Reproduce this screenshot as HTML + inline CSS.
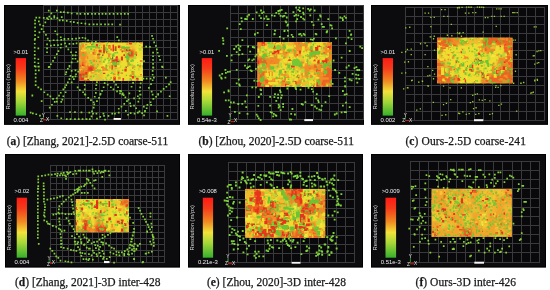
<!DOCTYPE html>
<html><head><meta charset="utf-8"><style>
html,body{margin:0;padding:0;background:#fff;}
body{width:550px;height:290px;position:relative;overflow:hidden;}
.cap{position:absolute;font-family:"Liberation Serif",serif;font-size:11.5px;line-height:13px;color:#1a1a1a;white-space:nowrap;-webkit-text-stroke:0.25px #1a1a1a;}
.cap b{font-weight:bold;}
</style></head><body>
<svg width="550" height="290" viewBox="0 0 550 290" style="position:absolute;left:0;top:0"><defs><linearGradient id="cbg" x1="0" y1="0" x2="0" y2="1">
<stop offset="0" stop-color="#ff1a14"/><stop offset="0.18" stop-color="#f53c1a"/><stop offset="0.4" stop-color="#f08a22"/>
<stop offset="0.58" stop-color="#f2e23a"/><stop offset="0.75" stop-color="#a8d83a"/><stop offset="1" stop-color="#36b02c"/></linearGradient>
<filter id="blur2" x="-10%" y="-10%" width="120%" height="120%"><feGaussianBlur stdDeviation="1.6"/></filter><filter id="blur05" x="-5%" y="-5%" width="110%" height="110%"><feGaussianBlur stdDeviation="0.45"/></filter></defs><rect x="4" y="5" width="176.0" height="119.7" fill="#0c0c0e"/><rect x="4.5" y="5.5" width="175.0" height="118.7" fill="none" stroke="#000" stroke-width="1"/><rect x="43.5" y="5.0" width="134.1" height="114.6" fill="#09090b"/><path d="M43.5 5.0V120.0M50.5 5.0V120.0M57.5 5.0V120.0M64.5 5.0V120.0M71.5 5.0V120.0M78.5 5.0V120.0M85.5 5.0V120.0M92.5 5.0V120.0M99.5 5.0V120.0M107.5 5.0V120.0M114.5 5.0V120.0M121.5 5.0V120.0M128.5 5.0V120.0M135.5 5.0V120.0M142.5 5.0V120.0M149.5 5.0V120.0M156.5 5.0V120.0M163.5 5.0V120.0M170.5 5.0V120.0M177.5 5.0V120.0M43.0 5.5H178.0M43.0 12.5H178.0M43.0 19.5H178.0M43.0 26.5H178.0M43.0 33.5H178.0M43.0 40.5H178.0M43.0 47.5H178.0M43.0 55.5H178.0M43.0 62.5H178.0M43.0 69.5H178.0M43.0 76.5H178.0M43.0 83.5H178.0M43.0 90.5H178.0M43.0 98.5H178.0M43.0 105.5H178.0M43.0 112.5H178.0M43.0 119.5H178.0" stroke="#3a3a3c" stroke-width="1" fill="none" shape-rendering="crispEdges"/><rect x="15.7" y="58.1" width="10.3" height="57.5" fill="url(#cbg)"/><text x="20.9" y="53.8" font-family="Liberation Sans" font-size="5.8" fill="#eee" text-anchor="middle">&gt;0.01</text><text x="20.9" y="122.2" font-family="Liberation Sans" font-size="5.9" fill="#eee" text-anchor="middle">0.004</text><text transform="translate(9.6,86.8) rotate(-90)" font-family="Liberation Sans" font-size="5.8" fill="#d8d8d8" text-anchor="middle">Resolution (m/px)</text><rect x="79.3" y="42.6" width="63.6" height="38.2" fill="#f0c83a"/><clipPath id="c0"><rect x="79.3" y="42.6" width="63.6" height="38.2"/></clipPath><g clip-path="url(#c0)"><g filter="url(#blur2)"><rect x="79.0" y="42.3" width="8.6" height="8.2" fill="#f0bc2e"/><rect x="87.0" y="42.3" width="8.6" height="8.2" fill="#eedc2e"/><rect x="94.9" y="42.3" width="8.6" height="8.2" fill="#f0bc2e"/><rect x="102.9" y="42.3" width="8.6" height="8.2" fill="#eedc2e"/><rect x="110.8" y="42.3" width="8.6" height="8.2" fill="#eedc2e"/><rect x="118.8" y="42.3" width="8.6" height="8.2" fill="#eedc2e"/><rect x="126.7" y="42.3" width="8.6" height="8.2" fill="#f0bc2e"/><rect x="134.6" y="42.3" width="8.6" height="8.2" fill="#eedc2e"/><rect x="79.0" y="49.9" width="8.6" height="8.2" fill="#f08c28"/><rect x="87.0" y="49.9" width="8.6" height="8.2" fill="#f0bc2e"/><rect x="94.9" y="49.9" width="8.6" height="8.2" fill="#eedc2e"/><rect x="102.9" y="49.9" width="8.6" height="8.2" fill="#eedc2e"/><rect x="110.8" y="49.9" width="8.6" height="8.2" fill="#f0e83e"/><rect x="118.8" y="49.9" width="8.6" height="8.2" fill="#eedc2e"/><rect x="126.7" y="49.9" width="8.6" height="8.2" fill="#e6341c"/><rect x="134.6" y="49.9" width="8.6" height="8.2" fill="#eedc2e"/><rect x="79.0" y="57.6" width="8.6" height="8.2" fill="#f08c28"/><rect x="87.0" y="57.6" width="8.6" height="8.2" fill="#f0bc2e"/><rect x="94.9" y="57.6" width="8.6" height="8.2" fill="#f0bc2e"/><rect x="102.9" y="57.6" width="8.6" height="8.2" fill="#eedc2e"/><rect x="110.8" y="57.6" width="8.6" height="8.2" fill="#e6341c"/><rect x="118.8" y="57.6" width="8.6" height="8.2" fill="#eedc2e"/><rect x="126.7" y="57.6" width="8.6" height="8.2" fill="#eedc2e"/><rect x="134.6" y="57.6" width="8.6" height="8.2" fill="#f0e83e"/><rect x="79.0" y="65.2" width="8.6" height="8.2" fill="#f08c28"/><rect x="87.0" y="65.2" width="8.6" height="8.2" fill="#e6341c"/><rect x="94.9" y="65.2" width="8.6" height="8.2" fill="#eedc2e"/><rect x="102.9" y="65.2" width="8.6" height="8.2" fill="#eedc2e"/><rect x="110.8" y="65.2" width="8.6" height="8.2" fill="#f0bc2e"/><rect x="118.8" y="65.2" width="8.6" height="8.2" fill="#eedc2e"/><rect x="126.7" y="65.2" width="8.6" height="8.2" fill="#eedc2e"/><rect x="134.6" y="65.2" width="8.6" height="8.2" fill="#eedc2e"/><rect x="79.0" y="72.9" width="8.6" height="8.2" fill="#e6341c"/><rect x="87.0" y="72.9" width="8.6" height="8.2" fill="#eedc2e"/><rect x="94.9" y="72.9" width="8.6" height="8.2" fill="#f0bc2e"/><rect x="102.9" y="72.9" width="8.6" height="8.2" fill="#eedc2e"/><rect x="110.8" y="72.9" width="8.6" height="8.2" fill="#eedc2e"/><rect x="118.8" y="72.9" width="8.6" height="8.2" fill="#eedc2e"/><rect x="126.7" y="72.9" width="8.6" height="8.2" fill="#eedc2e"/><rect x="134.6" y="72.9" width="8.6" height="8.2" fill="#eedc2e"/></g><g filter="url(#blur05)"><path fill="#eedc2e" d="M118.3 71.1h2.6v4.8h-2.6zM139.5 67.3h4.1v1.1h-4.1zM84.0 43.3h1.9v1.4h-1.9zM89.6 46.6h1.4v2.5h-1.4zM90.6 79.3h1.2v1.1h-1.2zM123.1 79.5h2.5v1.6h-2.5zM100.1 67.8h2.6v2.7h-2.6zM118.2 55.5h2.3v3.0h-2.3zM106.4 76.1h1.9v2.6h-1.9zM135.0 55.7h2.0v2.7h-2.0zM124.2 79.1h1.6v1.4h-1.6zM80.5 69.5h1.0v1.3h-1.0zM119.3 73.4h3.9v1.4h-3.9zM141.2 79.5h2.8v2.7h-2.8zM122.8 78.6h1.4v2.1h-1.4zM110.4 64.6h1.8v2.6h-1.8zM109.1 68.0h2.9v2.8h-2.9zM138.3 45.6h1.5v2.4h-1.5zM100.6 65.0h2.0v3.0h-2.0zM106.2 55.6h1.4v2.3h-1.4zM111.8 74.5h2.5v2.6h-2.5zM124.7 51.4h2.6v1.3h-2.6zM110.7 63.0h2.7v3.0h-2.7zM83.7 43.1h1.7v1.9h-1.7zM133.3 65.6h3.0v2.6h-3.0zM136.7 70.1h2.8v2.8h-2.8zM126.9 71.4h3.4v1.9h-3.4zM117.3 43.1h2.2v1.7h-2.2zM120.2 63.4h2.1v1.5h-2.1zM112.5 80.3h1.2v2.8h-1.2zM118.2 54.9h2.2v2.3h-2.2zM117.2 55.3h5.0v2.7h-5.0zM130.6 65.4h1.5v2.6h-1.5zM128.4 43.4h1.6v2.4h-1.6zM138.8 76.7h1.7v1.8h-1.7zM130.5 42.9h1.2v2.5h-1.2zM105.2 46.8h1.3v1.4h-1.3zM107.7 64.4h1.4v1.4h-1.4zM124.7 64.3h1.3v2.5h-1.3zM140.1 62.3h1.8v5.7h-1.8z"/><path fill="#ec6420" d="M82.0 62.3h2.4v2.6h-2.4zM124.7 56.6h2.7v1.2h-2.7zM79.3 64.7h2.0v2.2h-2.0zM92.5 66.3h1.6v3.1h-1.6zM112.5 61.7h3.0v1.2h-3.0zM81.2 68.9h2.7v2.9h-2.7zM135.9 49.5h1.3v1.3h-1.3zM129.4 48.5h1.6v2.8h-1.6zM133.0 55.8h1.2v2.6h-1.2zM81.9 51.3h1.8v2.0h-1.8z"/><path fill="#eedc2e" d="M97.2 53.9h1.4v2.5h-1.4zM103.8 43.3h2.3v2.5h-2.3zM102.4 53.4h2.4v3.0h-2.4zM120.5 65.5h2.3v1.2h-2.3zM110.4 71.9h2.5v2.8h-2.5zM90.5 78.5h1.5v2.2h-1.5zM86.7 79.0h2.2v2.4h-2.2zM135.2 70.5h4.4v1.1h-4.4zM91.6 71.0h2.6v1.2h-2.6zM140.1 40.2h1.1v2.8h-1.1zM103.0 55.1h2.8v1.6h-2.8zM138.1 78.1h2.8v5.6h-2.8zM137.6 67.5h3.0v1.9h-3.0zM111.8 42.8h2.6v1.2h-2.6zM125.1 50.0h5.6v3.0h-5.6zM88.8 71.7h1.9v2.5h-1.9zM124.7 63.6h1.0v2.0h-1.0zM92.8 46.5h2.2v2.1h-2.2zM116.3 44.0h1.3v2.4h-1.3zM128.4 43.5h2.9v1.1h-2.9zM125.5 49.4h1.9v2.9h-1.9zM123.0 75.0h1.8v2.7h-1.8zM137.4 69.5h2.9v1.7h-2.9zM125.2 76.7h1.2v2.8h-1.2zM128.3 61.8h1.1v1.3h-1.1zM139.1 75.6h3.7v1.8h-3.7zM139.2 71.8h1.8v1.6h-1.8zM135.0 56.1h2.0v1.6h-2.0zM140.6 53.8h2.4v2.4h-2.4zM126.1 62.1h2.7v2.0h-2.7zM123.8 65.5h1.8v2.3h-1.8zM117.3 56.9h4.9v1.2h-4.9zM125.2 80.6h2.1v2.0h-2.1zM97.5 72.5h2.2v2.5h-2.2zM104.3 72.9h2.3v2.2h-2.3zM137.1 41.4h1.7v2.3h-1.7zM125.6 49.5h2.7v1.2h-2.7zM105.5 40.5h2.1v2.9h-2.1zM89.9 51.8h2.6v2.0h-2.6zM110.4 78.7h2.2v1.6h-2.2z"/><path fill="#eedc2e" d="M123.8 49.6h1.7v1.5h-1.7zM121.0 68.7h2.1v1.7h-2.1zM110.1 57.2h2.1v2.1h-2.1zM135.6 49.5h2.6v2.2h-2.6zM126.9 64.2h2.8v2.3h-2.8zM117.3 78.4h2.6v1.5h-2.6zM124.3 60.3h2.1v2.2h-2.1zM117.1 77.8h1.4v1.2h-1.4zM119.7 47.3h1.3v2.1h-1.3zM123.4 76.8h2.5v2.6h-2.5zM132.3 67.3h2.1v1.3h-2.1zM141.7 51.5h2.7v1.4h-2.7zM140.8 49.1h1.8v1.4h-1.8zM115.3 67.8h1.1v1.9h-1.1zM122.0 63.1h2.3v1.1h-2.3zM141.7 52.2h1.0v2.0h-1.0zM103.5 60.3h1.8v1.2h-1.8zM99.1 46.4h2.3v1.9h-2.3zM119.7 43.3h1.6v2.4h-1.6zM113.7 53.4h1.7v1.8h-1.7zM124.7 59.2h2.7v2.0h-2.7zM101.6 55.2h1.3v2.4h-1.3zM103.9 55.0h2.7v2.6h-2.7zM129.4 65.3h1.6v1.1h-1.6zM131.2 77.9h1.5v2.8h-1.5z"/><path fill="#eedc2e" d="M106.3 43.4h2.9v1.6h-2.9zM130.7 75.2h2.8v1.2h-2.8zM141.9 56.9h3.0v1.1h-3.0zM125.7 44.2h2.5v1.5h-2.5zM124.9 71.4h2.7v2.9h-2.7zM104.5 41.1h1.9v5.4h-1.9zM77.7 46.7h2.6v2.1h-2.6zM84.2 77.1h2.8v2.9h-2.8zM108.2 55.4h2.7v1.1h-2.7zM101.2 64.8h2.2v1.6h-2.2zM111.4 70.6h1.5v2.6h-1.5zM101.9 58.5h2.5v2.3h-2.5zM120.6 62.6h2.9v2.1h-2.9zM108.9 50.4h2.7v1.1h-2.7zM120.8 43.0h1.2v3.0h-1.2zM134.4 42.6h2.1v3.0h-2.1zM133.7 72.1h1.4v2.1h-1.4zM139.6 77.7h2.0v2.2h-2.0zM102.4 46.2h2.6v1.8h-2.6zM116.2 69.6h2.0v3.5h-2.0zM101.4 45.6h2.7v1.7h-2.7zM89.0 45.5h2.5v2.1h-2.5zM80.8 49.6h5.7v2.0h-5.7zM114.5 52.1h2.2v2.7h-2.2zM89.2 41.3h2.2v1.7h-2.2zM118.3 53.3h1.8v2.1h-1.8zM141.8 52.5h2.2v1.3h-2.2zM129.4 48.2h2.8v1.0h-2.8zM114.8 78.5h1.7v2.1h-1.7zM80.8 46.8h2.5v1.6h-2.5zM119.8 68.5h1.9v2.9h-1.9zM126.0 56.6h2.2v2.4h-2.2zM108.8 40.8h1.2v2.9h-1.2zM101.4 58.4h1.8v1.6h-1.8zM106.8 59.2h2.8v3.0h-2.8zM105.4 67.0h3.0v1.7h-3.0zM123.8 71.2h2.4v2.1h-2.4zM104.4 46.4h3.0v2.1h-3.0zM95.1 55.4h2.3v1.3h-2.3zM135.0 77.8h1.2v2.6h-1.2z"/><path fill="#e6341c" d="M136.1 79.9h1.3v2.1h-1.3zM78.8 74.0h2.3v1.9h-2.3zM102.9 72.8h2.4v1.3h-2.4zM125.3 66.4h1.6v1.8h-1.6zM108.4 45.1h2.0v3.3h-2.0zM97.6 53.6h2.8v1.3h-2.8zM121.8 41.7h2.9v1.2h-2.9zM105.8 64.8h1.4v1.9h-1.4zM82.0 64.6h2.6v1.9h-2.6zM124.4 68.7h2.3v2.7h-2.3zM131.8 76.0h2.4v2.6h-2.4zM111.5 64.7h1.3v5.1h-1.3zM123.6 48.1h2.4v1.5h-2.4zM85.3 72.1h2.1v5.3h-2.1zM114.8 46.3h1.7v4.6h-1.7zM126.7 60.2h1.8v1.9h-1.8zM126.5 55.9h2.1v2.3h-2.1zM129.2 50.5h2.0v1.1h-2.0zM106.2 51.1h2.1v2.1h-2.1zM128.9 49.6h1.3v1.4h-1.3zM130.6 79.6h1.4v2.4h-1.4zM115.9 59.1h1.7v2.8h-1.7zM103.0 50.2h2.2v2.1h-2.2zM140.5 73.9h2.1v1.7h-2.1zM89.8 41.0h1.3v2.4h-1.3zM131.7 71.3h1.8v2.4h-1.8zM101.4 66.7h1.6v1.2h-1.6zM135.1 53.0h1.9v2.9h-1.9zM120.9 56.4h2.1v4.1h-2.1zM129.5 75.3h2.6v1.3h-2.6zM121.6 50.5h1.5v1.8h-1.5zM101.4 70.1h2.9v1.0h-2.9zM87.1 79.1h2.7v2.9h-2.7zM127.0 60.1h1.0v2.2h-1.0zM113.3 76.7h2.5v4.3h-2.5zM123.3 50.4h1.5v1.1h-1.5zM80.9 78.4h1.9v1.7h-1.9zM110.5 48.6h1.2v2.0h-1.2zM100.0 41.4h2.1v1.7h-2.1zM98.6 49.8h3.0v2.8h-3.0z"/><path fill="#6cc432" d="M128.1 51.8h2.5v1.2h-2.5zM93.3 64.7h2.0v2.1h-2.0zM118.4 60.3h1.9v2.3h-1.9zM127.4 61.3h1.2v1.1h-1.2zM103.5 48.1h2.8v2.6h-2.8zM112.0 54.3h2.5v5.9h-2.5zM126.3 54.4h3.0v5.8h-3.0zM105.6 65.5h1.2v2.4h-1.2zM112.5 62.8h3.0v2.6h-3.0zM125.3 56.0h2.8v1.9h-2.8zM136.9 62.2h1.6v1.1h-1.6zM123.3 42.0h1.8v1.1h-1.8zM81.6 75.5h1.9v2.1h-1.9zM125.2 48.7h1.7v1.6h-1.7zM110.4 77.1h1.5v1.7h-1.5zM104.5 68.0h2.6v1.9h-2.6zM114.3 61.2h2.5v5.2h-2.5zM141.6 46.3h2.9v1.5h-2.9zM111.8 60.7h2.3v1.6h-2.3zM94.3 60.6h2.7v1.4h-2.7zM129.4 51.8h1.8v2.8h-1.8zM94.9 70.2h3.3v1.4h-3.3z"/><path fill="#f0bc2e" d="M79.1 59.3h2.3v2.0h-2.3zM91.7 51.4h1.1v1.2h-1.1zM82.0 49.4h1.6v2.8h-1.6zM88.6 53.8h2.0v2.4h-2.0zM85.4 58.5h2.2v1.8h-2.2zM83.1 66.4h1.5v1.4h-1.5zM95.2 79.3h4.6v2.6h-4.6zM98.4 78.3h2.9v1.3h-2.9zM92.6 52.2h1.0v2.3h-1.0zM93.7 60.6h2.1v1.3h-2.1zM94.2 64.9h4.8v1.9h-4.8zM85.7 63.2h1.6v2.6h-1.6zM97.1 79.9h1.8v1.2h-1.8zM97.9 74.0h2.5v1.1h-2.5zM89.4 57.3h5.5v1.9h-5.5zM88.4 64.1h1.7v2.2h-1.7zM94.1 50.9h3.2v1.5h-3.2zM78.7 57.4h1.4v1.8h-1.4zM79.2 69.0h4.3v1.2h-4.3zM78.1 46.1h2.1v2.9h-2.1zM94.4 73.0h2.1v2.6h-2.1zM87.6 60.3h5.7v2.3h-5.7zM102.9 60.2h1.7v1.0h-1.7zM81.7 65.9h1.4v1.9h-1.4zM79.2 46.8h2.2v2.6h-2.2z"/><path fill="#b8d636" d="M107.1 52.0h2.4v1.6h-2.4zM96.4 43.0h1.8v2.9h-1.8zM77.4 49.5h1.8v1.1h-1.8zM97.1 76.6h2.3v1.2h-2.3zM94.4 40.6h1.3v2.8h-1.3zM119.4 65.5h1.7v2.3h-1.7zM125.9 51.3h1.8v1.2h-1.8zM90.2 51.0h1.1v1.1h-1.1zM119.8 80.4h2.8v1.9h-2.8zM137.8 78.6h1.6v1.6h-1.6zM90.0 63.6h2.1v1.4h-2.1zM111.3 71.3h2.3v2.0h-2.3zM129.7 69.5h1.6v1.5h-1.6zM133.2 73.7h1.2v2.0h-1.2zM90.3 62.6h3.2v1.6h-3.2zM108.1 69.4h1.8v1.9h-1.8zM139.7 62.9h1.2v2.6h-1.2zM100.4 60.5h2.0v2.4h-2.0zM82.1 42.1h2.3v1.6h-2.3zM92.4 43.4h2.7v1.8h-2.7zM100.8 58.3h1.4v4.5h-1.4zM80.2 43.4h2.7v4.9h-2.7zM120.3 72.1h2.4v2.0h-2.4zM127.7 80.5h1.1v1.5h-1.1zM92.9 44.1h2.2v2.4h-2.2zM134.5 42.5h1.8v2.4h-1.8zM123.9 53.7h2.7v2.1h-2.7zM103.2 68.9h1.4v1.2h-1.4zM97.9 43.4h1.4v2.7h-1.4zM137.4 75.7h4.9v1.4h-4.9zM140.0 41.1h2.5v1.8h-2.5zM133.1 65.7h2.7v2.4h-2.7zM106.6 64.0h1.9v3.0h-1.9zM92.4 74.4h2.6v2.0h-2.6zM84.3 42.4h1.2v1.4h-1.2zM96.2 74.7h1.8v2.5h-1.8zM103.8 67.3h1.7v1.3h-1.7zM133.2 56.4h3.0v2.7h-3.0zM91.4 48.5h2.5v2.2h-2.5zM138.1 68.0h1.6v2.7h-1.6z"/><path fill="#e6341c" d="M97.0 54.3h2.1v1.2h-2.1zM125.6 49.0h2.0v2.3h-2.0zM95.9 44.1h2.0v2.8h-2.0zM100.9 40.7h4.5v1.9h-4.5zM84.3 79.8h2.4v2.5h-2.4zM117.9 45.4h2.5v2.6h-2.5zM122.5 78.0h1.6v2.9h-1.6zM112.3 59.9h2.2v1.5h-2.2zM110.4 56.9h2.6v2.4h-2.6zM123.4 54.2h1.6v1.9h-1.6zM114.6 65.4h2.2v1.3h-2.2zM91.3 43.9h2.1v1.2h-2.1zM92.7 52.1h2.3v2.3h-2.3zM102.0 53.9h1.4v2.0h-1.4zM116.0 56.2h1.8v2.4h-1.8zM116.7 60.9h2.2v2.4h-2.2zM87.2 46.8h1.9v1.6h-1.9zM129.0 41.9h2.9v2.7h-2.9zM117.6 71.4h1.8v2.3h-1.8zM127.4 49.9h1.4v1.6h-1.4zM135.9 77.7h2.6v4.7h-2.6zM128.3 54.3h2.1v1.2h-2.1zM77.2 78.3h2.7v5.9h-2.7z"/><path fill="#b8d636" d="M95.5 51.7h1.3v2.7h-1.3zM116.9 62.2h2.8v2.6h-2.8zM130.0 40.7h2.7v1.8h-2.7zM107.4 50.0h1.5v2.0h-1.5zM86.9 47.0h1.7v5.7h-1.7zM139.1 47.9h2.5v2.9h-2.5zM89.0 79.0h3.6v1.1h-3.6zM98.7 77.7h2.8v1.3h-2.8zM99.7 72.9h2.3v1.1h-2.3zM81.8 42.8h2.3v1.8h-2.3zM109.4 64.5h1.6v1.4h-1.6zM89.9 77.4h2.7v1.8h-2.7zM100.2 70.8h2.4v2.7h-2.4zM99.5 58.6h2.4v1.3h-2.4zM107.9 61.0h2.2v2.3h-2.2zM107.8 75.0h2.4v1.1h-2.4zM87.1 47.0h1.8v2.3h-1.8zM138.4 47.6h1.2v3.0h-1.2zM134.0 54.8h2.2v2.8h-2.2zM100.4 80.1h2.1v1.3h-2.1zM107.9 50.9h1.4v2.1h-1.4zM107.1 59.6h2.4v1.7h-2.4z"/><path fill="#f08c28" d="M92.6 59.4h2.4v2.5h-2.4zM81.4 43.5h1.3v1.9h-1.3zM103.2 67.4h2.9v2.3h-2.9zM93.5 51.8h2.2v3.1h-2.2zM89.6 75.6h2.5v1.9h-2.5zM114.0 76.2h1.1v1.5h-1.1zM79.5 45.5h1.5v5.3h-1.5zM127.4 63.0h2.3v2.7h-2.3zM99.8 40.2h1.6v3.0h-1.6zM98.0 56.9h2.4v1.3h-2.4zM85.1 67.2h2.2v2.7h-2.2zM126.3 43.6h2.2v1.1h-2.2zM96.8 56.2h2.8v1.2h-2.8zM83.6 62.5h1.3v3.0h-1.3zM80.4 47.0h1.9v2.1h-1.9zM108.2 45.4h2.4v2.6h-2.4z"/><path fill="#f0e83e" d="M106.9 63.4h2.2v1.4h-2.2zM136.3 49.3h2.1v1.4h-2.1zM136.2 62.6h3.0v2.3h-3.0zM105.0 59.6h2.9v2.4h-2.9zM141.6 73.0h1.9v2.8h-1.9zM111.6 51.7h1.0v1.9h-1.0zM110.5 56.7h1.5v1.6h-1.5zM137.4 58.8h4.8v1.4h-4.8zM113.4 56.7h1.6v2.0h-1.6zM102.8 63.2h2.0v3.0h-2.0zM101.6 69.0h3.0v2.8h-3.0zM138.8 61.3h2.9v1.2h-2.9zM140.9 62.7h2.4v2.9h-2.4zM117.0 65.2h2.9v2.1h-2.9zM131.8 72.6h1.9v2.1h-1.9zM109.6 60.3h1.7v1.4h-1.7zM140.5 72.2h2.0v1.1h-2.0zM118.9 77.3h3.0v4.1h-3.0zM141.9 64.5h2.1v2.4h-2.1zM107.1 62.7h1.0v1.4h-1.0zM102.8 61.0h5.2v2.7h-5.2z"/><path fill="#f08c28" d="M86.1 66.0h1.5v2.9h-1.5zM93.1 69.2h1.6v1.4h-1.6zM77.6 51.3h3.5v2.1h-3.5zM124.1 47.7h2.0v2.2h-2.0zM118.0 76.7h2.6v2.9h-2.6zM119.8 49.1h2.4v1.4h-2.4zM83.2 56.7h1.1v5.2h-1.1zM83.7 75.6h2.0v2.4h-2.0zM96.2 46.1h1.2v2.4h-1.2zM135.0 51.4h2.1v2.9h-2.1zM112.8 73.6h2.8v1.7h-2.8zM139.8 60.1h2.6v1.8h-2.6zM132.0 66.8h1.5v2.1h-1.5zM78.2 80.6h1.6v1.8h-1.6zM120.8 72.6h2.2v1.5h-2.2zM87.1 55.9h1.1v3.0h-1.1zM99.3 80.5h2.3v1.1h-2.3zM107.6 53.3h2.7v1.4h-2.7zM82.4 68.6h1.4v1.5h-1.4zM79.2 53.4h2.4v1.5h-2.4zM121.1 46.6h1.8v1.8h-1.8zM98.9 60.9h2.0v1.3h-2.0zM94.0 67.6h2.9v1.7h-2.9zM141.7 47.1h1.5v1.0h-1.5zM81.5 43.7h2.5v3.9h-2.5zM95.7 50.2h1.1v1.1h-1.1zM85.1 44.1h2.0v1.0h-2.0zM102.2 69.2h5.8v1.6h-5.8zM142.5 46.4h1.4v2.2h-1.4zM98.2 69.7h1.3v3.0h-1.3zM133.3 65.3h1.4v2.3h-1.4zM138.8 64.9h2.4v2.5h-2.4zM97.3 57.1h2.6v1.8h-2.6zM108.0 54.7h2.2v2.9h-2.2zM78.6 54.9h2.6v1.6h-2.6zM102.2 66.2h1.8v5.1h-1.8zM140.1 41.5h2.0v2.2h-2.0zM93.5 48.9h1.7v2.8h-1.7zM109.3 66.1h1.2v2.6h-1.2zM131.7 72.7h2.6v2.4h-2.6z"/></g><path fill="#72c832" d="M85.1 74.7h1.8v1.8h-1.8zM117.1 73.9h1.2v1.2h-1.2zM111.1 72.2h1.5v1.5h-1.5zM98.3 47.0h1.8v1.8h-1.8zM117.1 70.6h1.0v1.0h-1.0zM107.5 62.7h1.0v1.0h-1.0zM131.4 59.1h1.8v1.8h-1.8zM122.1 46.8h1.8v1.8h-1.8zM112.1 62.6h1.5v1.5h-1.5zM125.8 74.7h1.2v1.2h-1.2zM85.6 47.1h1.5v1.5h-1.5zM136.9 64.8h1.5v1.5h-1.5zM128.1 62.1h1.5v1.5h-1.5zM126.5 47.8h1.2v1.2h-1.2zM90.4 71.0h1.0v1.0h-1.0zM131.5 64.2h1.0v1.0h-1.0zM130.3 60.3h1.8v1.8h-1.8zM131.5 65.2h1.0v1.0h-1.0zM121.9 69.6h1.5v1.5h-1.5zM83.8 68.0h1.0v1.0h-1.0zM123.2 46.3h1.8v1.8h-1.8zM101.3 52.1h1.2v1.2h-1.2zM131.6 70.7h1.0v1.0h-1.0zM95.4 74.1h1.0v1.0h-1.0zM134.2 68.9h1.0v1.0h-1.0zM141.7 65.1h1.2v1.2h-1.2zM94.8 47.4h1.2v1.2h-1.2zM83.6 53.9h1.5v1.5h-1.5zM134.5 75.7h1.8v1.8h-1.8zM102.2 54.0h1.0v1.0h-1.0zM97.2 63.7h1.5v1.5h-1.5zM105.8 44.5h1.8v1.8h-1.8zM92.6 42.8h1.0v1.0h-1.0zM105.8 79.2h1.5v1.5h-1.5zM130.2 74.2h1.5v1.5h-1.5zM108.5 59.4h1.5v1.5h-1.5zM96.6 66.2h1.2v1.2h-1.2zM122.5 70.1h1.0v1.0h-1.0zM120.9 46.7h1.0v1.0h-1.0zM92.3 43.2h1.8v1.8h-1.8zM125.1 51.2h1.5v1.5h-1.5zM112.8 53.2h1.5v1.5h-1.5zM112.2 80.7h1.8v1.8h-1.8zM110.3 53.6h1.2v1.2h-1.2zM104.3 58.7h1.8v1.8h-1.8zM85.2 80.3h1.0v1.0h-1.0zM129.5 78.0h1.8v1.8h-1.8zM80.6 48.9h1.0v1.0h-1.0zM118.5 70.5h1.0v1.0h-1.0zM103.0 60.9h1.8v1.8h-1.8zM111.4 68.9h1.5v1.5h-1.5zM85.9 43.9h1.0v1.0h-1.0zM110.6 57.9h1.5v1.5h-1.5zM129.1 63.7h1.8v1.8h-1.8zM133.1 71.2h1.5v1.5h-1.5zM91.1 45.2h1.8v1.8h-1.8zM114.4 52.1h1.5v1.5h-1.5zM109.6 78.9h1.0v1.0h-1.0zM129.6 53.3h1.2v1.2h-1.2zM90.6 61.9h1.8v1.8h-1.8zM116.3 51.8h1.8v1.8h-1.8zM88.8 52.3h1.0v1.0h-1.0zM106.8 58.0h1.0v1.0h-1.0zM100.6 56.4h1.8v1.8h-1.8zM90.0 60.1h1.5v1.5h-1.5zM110.4 73.0h1.0v1.0h-1.0zM122.2 46.1h1.2v1.2h-1.2zM97.2 68.9h1.2v1.2h-1.2zM113.6 48.5h1.5v1.5h-1.5zM82.0 53.8h1.8v1.8h-1.8zM79.4 44.9h1.5v1.5h-1.5zM105.5 49.4h1.8v1.8h-1.8zM132.1 67.5h1.0v1.0h-1.0zM126.4 54.4h1.0v1.0h-1.0zM126.9 65.5h1.5v1.5h-1.5zM125.9 46.8h1.8v1.8h-1.8zM89.4 60.1h1.5v1.5h-1.5zM137.1 64.2h1.8v1.8h-1.8zM80.2 59.8h1.0v1.0h-1.0zM98.4 54.8h1.5v1.5h-1.5zM119.1 47.5h1.0v1.0h-1.0zM139.8 80.4h1.0v1.0h-1.0zM102.0 53.7h1.0v1.0h-1.0zM90.2 48.1h1.8v1.8h-1.8zM104.7 47.0h1.8v1.8h-1.8zM117.5 73.9h1.8v1.8h-1.8zM107.3 57.4h1.5v1.5h-1.5zM99.1 69.4h1.8v1.8h-1.8zM117.3 63.3h1.5v1.5h-1.5zM94.5 45.8h1.8v1.8h-1.8zM99.0 45.2h1.0v1.0h-1.0zM100.9 46.9h1.2v1.2h-1.2zM124.7 66.9h1.2v1.2h-1.2zM107.5 74.2h1.5v1.5h-1.5zM129.6 79.9h1.5v1.5h-1.5zM97.1 46.5h1.5v1.5h-1.5zM92.8 75.7h1.5v1.5h-1.5zM139.1 44.9h1.2v1.2h-1.2zM114.0 80.6h1.2v1.2h-1.2zM115.2 67.8h1.2v1.2h-1.2zM133.6 74.8h1.2v1.2h-1.2zM142.5 58.0h1.0v1.0h-1.0zM127.6 61.8h1.5v1.5h-1.5zM132.1 59.7h1.8v1.8h-1.8zM92.7 46.7h1.0v1.0h-1.0zM91.9 64.6h1.2v1.2h-1.2zM89.1 77.8h1.0v1.0h-1.0zM106.6 42.8h1.2v1.2h-1.2zM105.0 46.8h1.2v1.2h-1.2zM141.9 66.0h1.2v1.2h-1.2zM113.0 73.0h1.2v1.2h-1.2zM89.1 45.9h1.5v1.5h-1.5zM103.0 51.9h1.2v1.2h-1.2zM106.6 48.6h1.5v1.5h-1.5zM105.4 77.2h1.2v1.2h-1.2zM134.6 53.3h1.5v1.5h-1.5zM135.8 79.2h1.5v1.5h-1.5zM119.4 77.4h1.2v1.2h-1.2zM112.9 48.9h1.8v1.8h-1.8zM102.5 79.6h1.5v1.5h-1.5zM82.0 70.6h1.0v1.0h-1.0zM112.4 80.4h1.5v1.5h-1.5zM106.8 75.0h1.5v1.5h-1.5zM87.3 75.4h1.0v1.0h-1.0zM127.0 58.6h1.8v1.8h-1.8zM127.4 48.9h1.5v1.5h-1.5z"/></g><rect x="103.2" y="44.5" width="1.6" height="9" rx="0.5" fill="#e63018"/><rect x="112.5" y="44.5" width="1.5" height="7" rx="0.5" fill="#e63018"/><rect x="87" y="46" width="8" height="1.6" rx="0.5" fill="#6cc432"/><rect x="121" y="47" width="9" height="1.6" rx="0.5" fill="#6cc432"/><path fill="#82d23a" d="M47.9 9.7h1.7v1.7h-1.7zM50.5 12.5h1.7v1.7h-1.7zM56.0 9.7h1.7v1.7h-1.7zM59.9 11.2h1.7v1.7h-1.7zM63.1 11.3h1.7v1.7h-1.7zM67.0 11.8h1.7v1.7h-1.7zM70.8 12.5h1.7v1.7h-1.7zM76.2 12.7h1.7v1.7h-1.7zM79.5 13.0h1.7v1.7h-1.7zM83.9 13.0h1.7v1.7h-1.7zM87.0 13.0h1.7v1.7h-1.7zM35.4 16.8h1.7v1.7h-1.7zM38.6 16.8h1.7v1.7h-1.7zM42.9 17.0h1.7v1.7h-1.7zM46.2 17.3h1.7v1.7h-1.7zM48.4 15.7h1.7v1.7h-1.7zM53.4 15.2h1.7v1.7h-1.7zM56.5 17.3h1.7v1.7h-1.7zM58.8 19.5h1.7v1.7h-1.7zM62.0 19.5h1.7v1.7h-1.7zM65.9 20.0h1.7v1.7h-1.7zM69.7 20.9h1.7v1.7h-1.7zM73.0 21.3h1.7v1.7h-1.7zM76.8 22.0h1.7v1.7h-1.7zM80.6 22.4h1.7v1.7h-1.7zM84.5 22.8h1.7v1.7h-1.7zM50.5 17.8h1.7v1.7h-1.7zM53.4 16.8h1.7v1.7h-1.7zM60.9 16.2h1.7v1.7h-1.7zM47.4 18.4h1.7v1.7h-1.7zM34.2 19.5h1.7v1.7h-1.7zM34.2 22.8h1.7v1.7h-1.7zM34.2 26.5h1.7v1.7h-1.7zM34.2 30.4h1.7v1.7h-1.7zM34.2 34.2h1.7v1.7h-1.7zM34.2 38.0h1.7v1.7h-1.7zM38.0 20.6h1.7v1.7h-1.7zM39.1 23.8h1.7v1.7h-1.7zM40.8 28.2h1.7v1.7h-1.7zM42.4 24.9h1.7v1.7h-1.7zM44.5 21.6h1.7v1.7h-1.7zM38.6 31.5h1.7v1.7h-1.7zM37.5 36.4h1.7v1.7h-1.7zM42.9 30.9h1.7v1.7h-1.7zM45.1 34.0h1.7v1.7h-1.7zM46.8 37.8h1.7v1.7h-1.7zM54.4 30.4h1.7v1.7h-1.7zM56.5 33.6h1.7v1.7h-1.7zM59.9 36.4h1.7v1.7h-1.7zM63.6 38.0h1.7v1.7h-1.7zM67.5 38.0h1.7v1.7h-1.7zM71.4 38.0h1.7v1.7h-1.7zM75.2 37.8h1.7v1.7h-1.7zM78.5 37.2h1.7v1.7h-1.7zM81.7 36.9h1.7v1.7h-1.7zM84.5 37.5h1.7v1.7h-1.7zM33.9 39.1h1.7v1.7h-1.7zM33.9 42.9h1.7v1.7h-1.7zM33.9 46.8h1.7v1.7h-1.7zM33.9 50.4h1.7v1.7h-1.7zM33.9 54.0h1.7v1.7h-1.7zM33.9 57.6h1.7v1.7h-1.7zM33.9 61.4h1.7v1.7h-1.7zM33.9 65.2h1.7v1.7h-1.7zM37.5 47.5h1.7v1.7h-1.7zM37.5 58.4h1.7v1.7h-1.7zM37.5 62.4h1.7v1.7h-1.7zM37.5 65.8h1.7v1.7h-1.7zM48.9 39.9h1.7v1.7h-1.7zM52.8 39.4h1.7v1.7h-1.7zM56.5 39.4h1.7v1.7h-1.7zM60.4 39.1h1.7v1.7h-1.7zM63.6 38.8h1.7v1.7h-1.7zM46.2 43.6h1.7v1.7h-1.7zM50.0 44.8h1.7v1.7h-1.7zM53.4 44.2h1.7v1.7h-1.7zM57.1 44.2h1.7v1.7h-1.7zM60.4 43.6h1.7v1.7h-1.7zM64.2 42.6h1.7v1.7h-1.7zM65.4 45.4h1.7v1.7h-1.7zM68.6 43.1h1.7v1.7h-1.7zM72.5 43.1h1.7v1.7h-1.7zM75.7 42.6h1.7v1.7h-1.7zM46.2 47.5h1.7v1.7h-1.7zM46.2 51.4h1.7v1.7h-1.7zM59.9 46.9h1.7v1.7h-1.7zM57.6 50.2h1.7v1.7h-1.7zM56.0 53.2h1.7v1.7h-1.7zM53.9 56.8h1.7v1.7h-1.7zM52.2 60.0h1.7v1.7h-1.7zM50.0 63.4h1.7v1.7h-1.7zM48.4 66.1h1.7v1.7h-1.7zM67.5 48.6h1.7v1.7h-1.7zM70.2 51.4h1.7v1.7h-1.7zM71.9 54.5h1.7v1.7h-1.7zM74.6 54.5h1.7v1.7h-1.7zM71.9 57.9h1.7v1.7h-1.7zM74.6 57.9h1.7v1.7h-1.7zM76.8 60.5h1.7v1.7h-1.7zM70.8 61.6h1.7v1.7h-1.7zM68.6 65.0h1.7v1.7h-1.7zM75.2 51.4h1.7v1.7h-1.7zM34.8 65.7h1.7v1.7h-1.7zM34.8 69.6h1.7v1.7h-1.7zM34.8 73.1h1.7v1.7h-1.7zM34.8 76.7h1.7v1.7h-1.7zM34.8 80.5h1.7v1.7h-1.7zM34.8 84.2h1.7v1.7h-1.7zM38.0 65.7h1.7v1.7h-1.7zM38.0 69.6h1.7v1.7h-1.7zM37.5 86.5h1.7v1.7h-1.7zM40.2 88.6h1.7v1.7h-1.7zM43.5 91.4h1.7v1.7h-1.7zM46.8 93.8h1.7v1.7h-1.7zM31.5 94.6h1.7v1.7h-1.7zM62.5 88.6h1.7v1.7h-1.7zM64.2 86.5h1.7v1.7h-1.7zM65.4 84.2h1.7v1.7h-1.7zM67.0 81.6h1.7v1.7h-1.7zM68.6 78.2h1.7v1.7h-1.7zM69.7 75.0h1.7v1.7h-1.7zM64.8 73.4h1.7v1.7h-1.7zM65.4 71.2h1.7v1.7h-1.7zM67.0 67.9h1.7v1.7h-1.7zM68.6 65.7h1.7v1.7h-1.7zM70.8 70.1h1.7v1.7h-1.7zM71.9 76.1h1.7v1.7h-1.7zM73.0 78.2h1.7v1.7h-1.7zM70.8 81.6h1.7v1.7h-1.7zM74.6 69.6h1.7v1.7h-1.7zM75.2 73.4h1.7v1.7h-1.7zM77.4 70.7h1.7v1.7h-1.7zM74.6 75.6h1.7v1.7h-1.7zM59.9 91.9h1.7v1.7h-1.7zM64.8 91.4h1.7v1.7h-1.7zM76.8 86.5h1.7v1.7h-1.7zM79.0 89.2h1.7v1.7h-1.7zM82.2 91.4h1.7v1.7h-1.7zM83.9 84.2h1.7v1.7h-1.7zM83.9 88.6h1.7v1.7h-1.7zM83.9 93.6h1.7v1.7h-1.7zM47.9 66.2h1.7v1.7h-1.7zM31.5 94.8h1.7v1.7h-1.7zM46.8 93.7h1.7v1.7h-1.7zM49.5 95.6h1.7v1.7h-1.7zM52.2 98.1h1.7v1.7h-1.7zM56.0 97.6h1.7v1.7h-1.7zM58.2 94.8h1.7v1.7h-1.7zM62.5 95.4h1.7v1.7h-1.7zM61.5 98.7h1.7v1.7h-1.7zM60.4 101.1h1.7v1.7h-1.7zM53.9 101.1h1.7v1.7h-1.7zM56.0 100.8h1.7v1.7h-1.7zM40.8 100.2h1.7v1.7h-1.7zM51.1 103.9h1.7v1.7h-1.7zM48.9 106.8h1.7v1.7h-1.7zM29.8 111.7h1.7v1.7h-1.7zM32.0 112.6h1.7v1.7h-1.7zM35.4 113.4h1.7v1.7h-1.7zM39.1 114.8h1.7v1.7h-1.7zM56.5 115.0h1.7v1.7h-1.7zM60.4 117.4h1.7v1.7h-1.7zM65.9 118.2h1.7v1.7h-1.7zM69.7 118.2h1.7v1.7h-1.7zM74.1 118.2h1.7v1.7h-1.7zM77.9 118.2h1.7v1.7h-1.7zM81.7 118.2h1.7v1.7h-1.7zM85.5 118.2h1.7v1.7h-1.7zM69.2 111.2h1.7v1.7h-1.7zM74.1 111.2h1.7v1.7h-1.7zM80.6 111.5h1.7v1.7h-1.7zM84.5 93.7h1.7v1.7h-1.7zM87.4 97.0h1.7v1.7h-1.7zM90.1 99.2h1.7v1.7h-1.7zM92.8 101.4h1.7v1.7h-1.7zM93.4 103.6h1.7v1.7h-1.7zM93.9 95.9h1.7v1.7h-1.7zM96.1 100.2h1.7v1.7h-1.7zM98.2 97.0h1.7v1.7h-1.7zM99.4 93.7h1.7v1.7h-1.7zM92.8 106.8h1.7v1.7h-1.7zM88.5 111.7h1.7v1.7h-1.7zM91.2 110.6h1.7v1.7h-1.7zM92.2 112.8h1.7v1.7h-1.7zM95.6 112.8h1.7v1.7h-1.7zM90.7 115.6h1.7v1.7h-1.7zM96.1 117.7h1.7v1.7h-1.7zM99.4 116.1h1.7v1.7h-1.7zM103.2 115.0h1.7v1.7h-1.7zM102.6 112.8h1.7v1.7h-1.7zM104.2 118.8h1.7v1.7h-1.7zM107.6 115.0h1.7v1.7h-1.7zM111.4 112.8h1.7v1.7h-1.7zM114.1 112.8h1.7v1.7h-1.7zM117.9 111.7h1.7v1.7h-1.7zM117.9 107.9h1.7v1.7h-1.7zM120.6 105.7h1.7v1.7h-1.7zM123.4 103.0h1.7v1.7h-1.7zM126.1 100.2h1.7v1.7h-1.7zM127.7 98.7h1.7v1.7h-1.7zM122.8 94.2h1.7v1.7h-1.7zM124.5 96.5h1.7v1.7h-1.7zM129.3 102.5h1.7v1.7h-1.7zM129.8 105.2h1.7v1.7h-1.7zM133.2 104.7h1.7v1.7h-1.7zM135.3 107.4h1.7v1.7h-1.7zM137.5 100.8h1.7v1.7h-1.7zM138.6 97.6h1.7v1.7h-1.7zM137.0 95.4h1.7v1.7h-1.7zM133.2 97.6h1.7v1.7h-1.7zM125.0 110.1h1.7v1.7h-1.7zM127.2 113.9h1.7v1.7h-1.7zM129.8 112.2h1.7v1.7h-1.7zM133.7 112.8h1.7v1.7h-1.7zM137.0 111.7h1.7v1.7h-1.7zM138.6 110.6h1.7v1.7h-1.7zM141.3 112.2h1.7v1.7h-1.7zM143.0 105.7h1.7v1.7h-1.7zM139.7 93.7h1.7v1.7h-1.7zM85.7 118.2h1.7v1.7h-1.7zM89.0 118.2h1.7v1.7h-1.7zM144.1 110.6h1.7v1.7h-1.7zM146.5 104.1h1.7v1.7h-1.7zM149.7 101.4h1.7v1.7h-1.7zM152.5 98.1h1.7v1.7h-1.7zM155.2 95.9h1.7v1.7h-1.7zM151.8 93.7h1.7v1.7h-1.7zM157.3 93.7h1.7v1.7h-1.7zM150.2 104.1h1.7v1.7h-1.7zM145.8 107.4h1.7v1.7h-1.7zM156.2 110.6h1.7v1.7h-1.7zM166.6 115.0h1.7v1.7h-1.7zM168.8 95.4h1.7v1.7h-1.7zM144.2 110.1h1.7v1.7h-1.7zM143.2 114.5h1.7v1.7h-1.7zM152.5 66.8h1.7v1.7h-1.7zM161.7 66.2h1.7v1.7h-1.7zM151.8 70.1h1.7v1.7h-1.7zM151.8 73.9h1.7v1.7h-1.7zM153.0 76.7h1.7v1.7h-1.7zM151.8 79.4h1.7v1.7h-1.7zM149.7 77.7h1.7v1.7h-1.7zM145.8 77.7h1.7v1.7h-1.7zM142.6 77.7h1.7v1.7h-1.7zM165.0 76.7h1.7v1.7h-1.7zM169.8 81.2h1.7v1.7h-1.7zM168.2 83.5h1.7v1.7h-1.7zM165.5 85.9h1.7v1.7h-1.7zM162.8 88.1h1.7v1.7h-1.7zM160.1 90.8h1.7v1.7h-1.7zM157.3 93.2h1.7v1.7h-1.7zM150.2 83.2h1.7v1.7h-1.7zM148.1 87.0h1.7v1.7h-1.7zM150.8 90.8h1.7v1.7h-1.7zM132.2 82.1h1.7v1.7h-1.7zM139.8 82.6h1.7v1.7h-1.7zM130.7 85.9h1.7v1.7h-1.7zM139.3 86.5h1.7v1.7h-1.7zM138.8 90.2h1.7v1.7h-1.7zM128.5 92.5h1.7v1.7h-1.7zM120.2 90.2h1.7v1.7h-1.7zM121.4 93.6h1.7v1.7h-1.7zM139.3 93.8h1.7v1.7h-1.7zM96.1 81.2h1.7v1.7h-1.7zM103.8 82.2h1.7v1.7h-1.7zM95.5 84.2h1.7v1.7h-1.7zM106.9 83.8h1.7v1.7h-1.7zM102.8 86.4h1.7v1.7h-1.7zM110.0 86.4h1.7v1.7h-1.7zM115.2 83.8h1.7v1.7h-1.7zM113.1 80.7h1.7v1.7h-1.7zM95.0 87.9h1.7v1.7h-1.7zM101.2 90.0h1.7v1.7h-1.7zM112.6 88.5h1.7v1.7h-1.7zM117.2 86.4h1.7v1.7h-1.7zM116.2 90.5h1.7v1.7h-1.7zM119.2 90.0h1.7v1.7h-1.7zM95.0 92.1h1.7v1.7h-1.7zM99.7 93.1h1.7v1.7h-1.7zM119.2 92.6h1.7v1.7h-1.7zM121.9 92.6h1.7v1.7h-1.7zM87.2 13.1h1.7v1.7h-1.7zM91.1 13.1h1.7v1.7h-1.7zM94.4 13.1h1.7v1.7h-1.7zM98.2 13.1h1.7v1.7h-1.7zM101.6 13.1h1.7v1.7h-1.7zM104.9 13.1h1.7v1.7h-1.7zM108.8 13.1h1.7v1.7h-1.7zM112.7 13.1h1.7v1.7h-1.7zM116.7 13.1h1.7v1.7h-1.7zM120.2 13.1h1.7v1.7h-1.7zM123.9 13.1h1.7v1.7h-1.7zM127.3 13.1h1.7v1.7h-1.7zM88.5 23.5h1.7v1.7h-1.7zM92.8 23.5h1.7v1.7h-1.7zM96.2 23.5h1.7v1.7h-1.7zM100.2 23.5h1.7v1.7h-1.7zM104.2 23.5h1.7v1.7h-1.7zM107.7 23.5h1.7v1.7h-1.7zM111.4 23.5h1.7v1.7h-1.7zM119.2 23.8h1.7v1.7h-1.7zM116.4 36.2h1.7v1.7h-1.7zM118.0 39.5h1.7v1.7h-1.7zM87.2 39.5h1.7v1.7h-1.7zM91.1 41.5h1.7v1.7h-1.7zM95.0 41.1h1.7v1.7h-1.7zM151.2 35.1h1.7v1.7h-1.7zM152.2 37.9h1.7v1.7h-1.7zM153.3 41.6h1.7v1.7h-1.7zM155.1 45.0h1.7v1.7h-1.7zM156.0 48.5h1.7v1.7h-1.7zM156.8 51.9h1.7v1.7h-1.7zM158.2 55.4h1.7v1.7h-1.7zM159.2 59.1h1.7v1.7h-1.7zM161.2 65.8h1.7v1.7h-1.7zM152.2 51.8h1.7v1.7h-1.7zM152.2 55.4h1.7v1.7h-1.7zM152.2 59.1h1.7v1.7h-1.7zM152.2 63.0h1.7v1.7h-1.7zM152.2 66.5h1.7v1.7h-1.7zM145.3 45.8h1.7v1.7h-1.7zM149.1 46.1h1.7v1.7h-1.7zM143.2 60.2h1.7v1.7h-1.7z"/><rect x="188" y="5" width="176.0" height="119.7" fill="#0c0c0e"/><rect x="188.5" y="5.5" width="175.0" height="118.7" fill="none" stroke="#000" stroke-width="1"/><rect x="230.5" y="5.0" width="132.5" height="114.6" fill="#09090b"/><path d="M230.5 5.0V120.0M238.5 5.0V120.0M247.5 5.0V120.0M255.5 5.0V120.0M263.5 5.0V120.0M271.5 5.0V120.0M280.5 5.0V120.0M288.5 5.0V120.0M296.5 5.0V120.0M305.5 5.0V120.0M313.5 5.0V120.0M321.5 5.0V120.0M329.5 5.0V120.0M338.5 5.0V120.0M346.5 5.0V120.0M354.5 5.0V120.0M363.5 5.0V120.0M230.0 5.5H364.0M230.0 13.5H364.0M230.0 21.5H364.0M230.0 29.5H364.0M230.0 37.5H364.0M230.0 45.5H364.0M230.0 54.5H364.0M230.0 62.5H364.0M230.0 70.5H364.0M230.0 78.5H364.0M230.0 86.5H364.0M230.0 95.5H364.0M230.0 103.5H364.0M230.0 111.5H364.0M230.0 119.5H364.0" stroke="#3a3a3c" stroke-width="1" fill="none" shape-rendering="crispEdges"/><rect x="201.8" y="58.1" width="10.3" height="57.5" fill="url(#cbg)"/><text x="206.9" y="53.8" font-family="Liberation Sans" font-size="5.8" fill="#eee" text-anchor="middle">&gt;0.01</text><text x="206.9" y="122.2" font-family="Liberation Sans" font-size="5.9" fill="#eee" text-anchor="middle">0.54e-3</text><text transform="translate(193.6,86.8) rotate(-90)" font-family="Liberation Sans" font-size="5.8" fill="#d8d8d8" text-anchor="middle">Resolution (m/px)</text><rect x="257.5" y="42.0" width="74.2" height="45.0" fill="#f0a432"/><clipPath id="c1"><rect x="257.5" y="42.0" width="74.2" height="45.0"/></clipPath><g clip-path="url(#c1)"><g filter="url(#blur2)"><rect x="257.2" y="41.7" width="8.0" height="8.1" fill="#f08c28"/><rect x="264.6" y="41.7" width="8.0" height="8.1" fill="#f0bc2e"/><rect x="272.0" y="41.7" width="8.0" height="8.1" fill="#eedc2e"/><rect x="279.5" y="41.7" width="8.0" height="8.1" fill="#f0bc2e"/><rect x="286.9" y="41.7" width="8.0" height="8.1" fill="#f0bc2e"/><rect x="294.3" y="41.7" width="8.0" height="8.1" fill="#f08c28"/><rect x="301.7" y="41.7" width="8.0" height="8.1" fill="#f08c28"/><rect x="309.1" y="41.7" width="8.0" height="8.1" fill="#eedc2e"/><rect x="316.6" y="41.7" width="8.0" height="8.1" fill="#eedc2e"/><rect x="324.0" y="41.7" width="8.0" height="8.1" fill="#f08c28"/><rect x="257.2" y="49.2" width="8.0" height="8.1" fill="#f0bc2e"/><rect x="264.6" y="49.2" width="8.0" height="8.1" fill="#eedc2e"/><rect x="272.0" y="49.2" width="8.0" height="8.1" fill="#f08c28"/><rect x="279.5" y="49.2" width="8.0" height="8.1" fill="#f08c28"/><rect x="286.9" y="49.2" width="8.0" height="8.1" fill="#f0bc2e"/><rect x="294.3" y="49.2" width="8.0" height="8.1" fill="#f08c28"/><rect x="301.7" y="49.2" width="8.0" height="8.1" fill="#eedc2e"/><rect x="309.1" y="49.2" width="8.0" height="8.1" fill="#ec6420"/><rect x="316.6" y="49.2" width="8.0" height="8.1" fill="#f0bc2e"/><rect x="324.0" y="49.2" width="8.0" height="8.1" fill="#f08c28"/><rect x="257.2" y="56.7" width="8.0" height="8.1" fill="#ec6420"/><rect x="264.6" y="56.7" width="8.0" height="8.1" fill="#f08c28"/><rect x="272.0" y="56.7" width="8.0" height="8.1" fill="#f08c28"/><rect x="279.5" y="56.7" width="8.0" height="8.1" fill="#f0bc2e"/><rect x="286.9" y="56.7" width="8.0" height="8.1" fill="#eedc2e"/><rect x="294.3" y="56.7" width="8.0" height="8.1" fill="#eedc2e"/><rect x="301.7" y="56.7" width="8.0" height="8.1" fill="#f0bc2e"/><rect x="309.1" y="56.7" width="8.0" height="8.1" fill="#eedc2e"/><rect x="316.6" y="56.7" width="8.0" height="8.1" fill="#eedc2e"/><rect x="324.0" y="56.7" width="8.0" height="8.1" fill="#f08c28"/><rect x="257.2" y="64.2" width="8.0" height="8.1" fill="#f08c28"/><rect x="264.6" y="64.2" width="8.0" height="8.1" fill="#f08c28"/><rect x="272.0" y="64.2" width="8.0" height="8.1" fill="#f0bc2e"/><rect x="279.5" y="64.2" width="8.0" height="8.1" fill="#eedc2e"/><rect x="286.9" y="64.2" width="8.0" height="8.1" fill="#eedc2e"/><rect x="294.3" y="64.2" width="8.0" height="8.1" fill="#f0bc2e"/><rect x="301.7" y="64.2" width="8.0" height="8.1" fill="#f08c28"/><rect x="309.1" y="64.2" width="8.0" height="8.1" fill="#f08c28"/><rect x="316.6" y="64.2" width="8.0" height="8.1" fill="#f08c28"/><rect x="324.0" y="64.2" width="8.0" height="8.1" fill="#ec6420"/><rect x="257.2" y="71.7" width="8.0" height="8.1" fill="#ec6420"/><rect x="264.6" y="71.7" width="8.0" height="8.1" fill="#f0bc2e"/><rect x="272.0" y="71.7" width="8.0" height="8.1" fill="#eedc2e"/><rect x="279.5" y="71.7" width="8.0" height="8.1" fill="#f08c28"/><rect x="286.9" y="71.7" width="8.0" height="8.1" fill="#f0bc2e"/><rect x="294.3" y="71.7" width="8.0" height="8.1" fill="#eedc2e"/><rect x="301.7" y="71.7" width="8.0" height="8.1" fill="#f08c28"/><rect x="309.1" y="71.7" width="8.0" height="8.1" fill="#eedc2e"/><rect x="316.6" y="71.7" width="8.0" height="8.1" fill="#f08c28"/><rect x="324.0" y="71.7" width="8.0" height="8.1" fill="#ec6420"/><rect x="257.2" y="79.2" width="8.0" height="8.1" fill="#ec6420"/><rect x="264.6" y="79.2" width="8.0" height="8.1" fill="#f08c28"/><rect x="272.0" y="79.2" width="8.0" height="8.1" fill="#f0bc2e"/><rect x="279.5" y="79.2" width="8.0" height="8.1" fill="#f08c28"/><rect x="286.9" y="79.2" width="8.0" height="8.1" fill="#eedc2e"/><rect x="294.3" y="79.2" width="8.0" height="8.1" fill="#f08c28"/><rect x="301.7" y="79.2" width="8.0" height="8.1" fill="#f0bc2e"/><rect x="309.1" y="79.2" width="8.0" height="8.1" fill="#eedc2e"/><rect x="316.6" y="79.2" width="8.0" height="8.1" fill="#ec6420"/><rect x="324.0" y="79.2" width="8.0" height="8.1" fill="#ec6420"/></g><g filter="url(#blur05)"><path fill="#ec6420" d="M258.5 77.7h5.0v3.6h-5.0zM329.7 86.1h3.5v3.6h-3.5zM321.4 53.1h3.3v2.0h-3.3zM323.5 75.2h3.3v5.8h-3.3zM285.6 51.7h1.9v1.7h-1.9zM311.4 55.1h1.8v2.1h-1.8zM259.3 39.4h3.0v3.9h-3.0zM329.8 82.7h3.8v1.6h-3.8zM323.6 71.3h7.8v1.7h-7.8zM323.1 83.2h3.4v3.3h-3.4zM323.3 51.9h1.9v3.0h-1.9zM326.0 71.4h3.2v3.1h-3.2zM257.7 85.2h3.7v3.9h-3.7zM311.2 54.1h3.3v2.5h-3.3zM301.7 50.4h2.9v1.9h-2.9zM331.3 83.3h1.7v7.5h-1.7zM282.1 78.6h2.3v3.5h-2.3zM309.8 49.3h2.4v3.7h-2.4zM256.1 57.2h2.0v6.4h-2.0zM325.1 86.3h3.3v2.6h-3.3zM320.5 71.1h4.0v2.0h-4.0zM260.6 81.6h2.3v2.3h-2.3zM269.9 60.8h3.6v2.4h-3.6zM297.7 50.4h3.4v3.7h-3.4zM330.1 44.0h2.6v3.7h-2.6zM282.4 79.5h2.4v2.4h-2.4zM302.3 75.5h2.0v2.2h-2.0zM268.2 83.1h3.9v3.9h-3.9zM259.9 84.9h7.3v2.3h-7.3zM322.2 80.6h2.3v2.3h-2.3zM255.6 70.2h3.0v2.5h-3.0zM311.5 51.6h2.6v6.3h-2.6zM311.3 51.8h3.0v2.2h-3.0zM325.4 57.6h3.4v3.2h-3.4zM330.5 69.0h1.8v3.7h-1.8zM258.1 40.5h2.9v2.1h-2.9zM257.6 75.9h1.7v3.6h-1.7zM298.1 42.4h1.7v2.4h-1.7zM328.7 52.3h3.9v5.9h-3.9zM261.2 60.7h2.6v1.5h-2.6z"/><path fill="#ec6420" d="M272.5 46.9h2.1v7.1h-2.1zM262.3 59.4h3.9v4.6h-3.9zM325.7 76.6h2.2v2.1h-2.2zM322.6 81.3h4.0v4.9h-4.0zM271.9 62.5h2.9v2.9h-2.9zM307.6 67.8h3.1v2.5h-3.1zM265.3 62.6h1.9v1.8h-1.9zM274.4 62.5h2.0v3.6h-2.0zM312.3 50.8h3.5v3.5h-3.5zM255.9 82.3h1.6v3.6h-1.6zM262.4 69.9h3.7v2.8h-3.7zM315.2 86.0h2.4v2.3h-2.4zM313.6 54.0h2.4v3.5h-2.4zM319.8 64.8h2.0v3.1h-2.0zM259.3 82.0h3.7v3.2h-3.7zM255.4 84.8h3.8v3.6h-3.8zM318.0 84.9h3.1v2.8h-3.1zM284.4 77.5h2.7v2.7h-2.7zM312.3 52.2h6.0v1.8h-6.0zM257.5 84.1h2.9v2.0h-2.9zM263.2 83.8h2.4v3.8h-2.4zM322.3 72.2h2.2v1.8h-2.2zM318.6 86.5h3.8v1.7h-3.8zM261.6 40.6h3.1v3.9h-3.1zM294.0 46.8h1.6v1.5h-1.6zM260.1 73.1h3.8v2.7h-3.8zM313.9 64.4h3.1v3.3h-3.1zM260.4 58.2h2.7v1.7h-2.7zM326.8 86.3h2.6v3.1h-2.6zM264.7 79.6h3.6v3.3h-3.6zM325.1 66.5h1.6v3.8h-1.6zM255.2 73.0h2.8v2.4h-2.8z"/><path fill="#f08c28" d="M307.3 75.6h2.6v2.9h-2.6zM259.8 64.0h2.3v3.4h-2.3zM281.3 53.9h2.4v2.1h-2.4zM289.9 79.5h1.9v3.1h-1.9zM263.4 43.4h3.1v2.1h-3.1zM274.6 57.3h3.5v1.7h-3.5zM264.9 66.2h5.6v3.9h-5.6zM278.0 79.4h2.8v3.1h-2.8zM316.7 54.3h5.6v2.6h-5.6zM273.3 78.2h2.4v3.7h-2.4zM304.1 72.0h3.3v3.8h-3.3zM319.0 63.9h1.6v3.6h-1.6zM301.1 41.7h3.8v2.9h-3.8zM266.7 65.5h2.1v3.5h-2.1zM325.2 48.9h1.9v2.4h-1.9zM259.3 64.2h3.1v3.3h-3.1zM281.9 40.1h3.7v3.8h-3.7zM286.0 43.6h2.2v3.9h-2.2zM322.6 53.6h2.6v4.0h-2.6zM298.5 43.4h2.2v1.9h-2.2zM300.9 73.6h2.3v2.0h-2.3zM281.0 76.3h1.8v2.4h-1.8zM271.9 64.7h1.6v3.5h-1.6zM318.1 81.0h3.6v3.1h-3.6zM300.3 66.0h1.8v2.2h-1.8zM259.8 63.3h3.1v2.7h-3.1zM308.2 50.9h2.6v3.8h-2.6zM306.1 76.0h2.1v3.8h-2.1zM294.9 39.8h1.9v5.0h-1.9zM272.6 49.4h2.3v3.0h-2.3zM277.0 59.6h2.0v3.2h-2.0zM317.0 59.2h3.4v4.0h-3.4zM312.7 84.2h1.6v3.3h-1.6zM319.6 69.8h3.4v1.8h-3.4zM274.5 59.5h4.0v7.0h-4.0zM319.7 76.6h2.3v4.0h-2.3zM306.7 45.0h3.5v1.9h-3.5zM305.7 66.2h2.6v2.3h-2.6zM267.8 71.4h2.8v4.1h-2.8zM325.9 60.9h3.1v2.9h-3.1z"/><path fill="#f0e83e" d="M299.3 70.2h2.9v2.5h-2.9zM278.4 68.4h5.0v1.9h-5.0zM298.5 73.1h1.6v2.4h-1.6zM315.7 54.8h2.9v6.6h-2.9z"/><path fill="#f08c28" d="M303.0 72.2h3.0v3.9h-3.0zM256.6 43.2h1.8v2.2h-1.8zM312.8 68.8h2.4v1.7h-2.4zM272.3 59.3h7.3v2.4h-7.3zM258.3 44.5h2.3v1.9h-2.3zM329.1 53.4h4.0v7.2h-4.0zM293.8 39.7h2.5v3.4h-2.5zM270.7 78.8h2.1v3.7h-2.1zM304.6 49.3h3.5v3.8h-3.5zM257.9 53.6h2.0v2.3h-2.0zM287.8 85.2h2.3v3.8h-2.3zM297.8 48.8h1.6v3.9h-1.6zM276.2 62.3h1.8v3.8h-1.8zM268.3 61.7h3.8v2.4h-3.8zM257.1 69.5h1.6v7.3h-1.6zM257.1 80.1h3.5v2.4h-3.5zM303.9 73.2h3.3v3.4h-3.3zM284.4 53.8h1.7v5.9h-1.7zM317.0 68.4h2.0v6.8h-2.0zM281.9 56.7h3.6v3.4h-3.6zM261.3 48.3h2.2v3.3h-2.2zM273.0 58.5h3.4v2.9h-3.4zM308.3 63.1h1.7v3.4h-1.7zM296.3 65.0h8.0v2.0h-8.0zM259.0 62.9h3.8v7.2h-3.8zM291.1 55.3h2.4v2.5h-2.4zM293.9 40.8h1.6v2.9h-1.6zM326.7 50.0h3.6v2.0h-3.6zM300.7 67.8h1.6v2.8h-1.6zM281.8 69.1h2.8v3.9h-2.8zM307.4 78.2h1.5v3.5h-1.5zM324.7 62.1h5.7v2.8h-5.7zM324.3 67.2h2.7v2.1h-2.7zM325.6 82.6h3.9v3.1h-3.9zM285.7 81.8h1.6v1.5h-1.6zM295.9 43.1h1.5v3.0h-1.5zM298.9 80.2h2.3v2.9h-2.3zM267.6 66.6h1.6v1.6h-1.6zM284.9 61.8h2.8v3.6h-2.8zM306.8 60.0h1.7v6.6h-1.7z"/><path fill="#e6341c" d="M275.1 48.8h5.5v3.2h-5.5zM313.1 58.0h2.9v3.2h-2.9zM274.2 41.9h3.0v2.5h-3.0zM287.2 59.2h3.6v1.7h-3.6zM312.1 84.6h2.7v2.0h-2.7zM311.8 83.3h6.0v3.2h-6.0zM325.7 46.5h3.8v2.8h-3.8zM263.6 53.6h7.2v2.8h-7.2zM319.7 59.5h7.6v4.0h-7.6zM306.6 39.8h5.7v2.9h-5.7zM316.5 57.5h1.8v3.2h-1.8zM278.6 46.5h2.6v3.0h-2.6zM287.8 85.1h2.4v2.2h-2.4zM273.0 50.0h3.7v3.3h-3.7zM256.8 60.6h2.5v4.0h-2.5zM316.3 68.5h4.0v3.7h-4.0zM265.2 85.7h3.0v3.1h-3.0zM331.0 73.5h3.1v1.5h-3.1zM292.4 80.9h3.5v1.7h-3.5zM271.6 50.6h3.2v3.7h-3.2zM280.7 39.9h3.7v2.6h-3.7zM285.6 45.6h1.8v3.1h-1.8zM274.3 44.0h2.1v3.4h-2.1zM312.1 86.3h1.8v3.3h-1.8zM296.2 62.1h4.0v1.6h-4.0zM318.6 45.2h2.9v2.4h-2.9zM313.5 79.0h3.2v1.6h-3.2zM273.1 46.1h3.1v3.6h-3.1zM311.5 41.3h2.9v3.4h-2.9zM280.1 77.2h2.7v3.2h-2.7zM297.1 50.7h3.8v2.1h-3.8zM303.0 76.9h2.9v1.5h-2.9zM291.0 65.2h3.7v2.4h-3.7zM283.0 71.0h3.7v1.7h-3.7zM315.0 45.9h3.4v6.8h-3.4zM316.0 82.5h2.2v3.4h-2.2zM298.8 85.4h3.4v1.6h-3.4zM312.9 43.3h2.7v2.7h-2.7zM276.3 41.1h2.2v2.0h-2.2zM257.5 81.7h3.5v3.3h-3.5z"/><path fill="#f0bc2e" d="M282.6 56.9h2.1v2.4h-2.1zM256.2 52.8h1.5v1.6h-1.5zM270.1 63.9h7.7v3.7h-7.7zM279.4 83.5h1.8v2.8h-1.8zM256.5 48.1h2.0v2.0h-2.0zM320.9 68.1h2.6v2.8h-2.6zM316.3 63.5h2.5v2.5h-2.5zM307.3 80.0h1.7v3.6h-1.7zM266.3 67.5h1.9v3.6h-1.9zM288.2 47.1h1.7v5.4h-1.7zM275.9 66.2h3.8v2.0h-3.8zM256.9 50.2h7.7v2.3h-7.7zM270.1 74.2h2.9v3.4h-2.9zM268.9 69.8h1.8v3.1h-1.8zM302.5 78.8h1.9v3.6h-1.9zM305.6 40.2h2.8v1.8h-2.8zM303.6 83.0h1.6v1.7h-1.6zM315.3 73.1h1.5v1.6h-1.5zM287.9 50.0h2.1v2.6h-2.1zM262.4 49.6h1.7v2.4h-1.7zM307.3 84.4h1.7v1.7h-1.7zM267.4 75.4h2.7v1.9h-2.7zM288.2 42.6h3.0v3.7h-3.0zM271.6 41.4h3.2v3.9h-3.2zM275.9 53.7h5.6v2.1h-5.6zM295.9 50.8h2.9v3.5h-2.9zM272.9 69.9h2.9v1.8h-2.9zM262.8 49.2h3.3v3.9h-3.3zM280.8 77.9h3.5v2.6h-3.5zM309.7 69.4h4.0v1.9h-4.0zM276.0 84.2h3.1v2.5h-3.1zM270.9 74.2h3.8v3.0h-3.8zM302.5 76.1h3.2v3.5h-3.2zM320.8 74.5h1.8v1.5h-1.8zM275.5 83.9h3.4v2.6h-3.4zM331.2 41.8h2.0v1.9h-2.0zM296.2 65.9h3.6v1.5h-3.6zM283.9 60.8h3.9v3.3h-3.9zM297.9 63.4h3.4v3.5h-3.4zM293.3 82.4h2.5v3.1h-2.5z"/><path fill="#e6341c" d="M285.0 83.7h3.9v2.8h-3.9zM295.7 54.0h2.0v3.3h-2.0zM313.6 78.9h3.1v2.6h-3.1zM328.5 41.3h2.7v1.5h-2.7zM269.2 54.2h1.5v1.9h-1.5zM327.2 46.2h3.4v3.4h-3.4zM261.8 40.6h3.1v5.4h-3.1zM294.7 81.8h1.9v3.3h-1.9zM289.6 85.4h4.7v3.5h-4.7zM331.0 76.6h2.2v2.1h-2.2zM295.6 74.8h3.8v3.5h-3.8zM279.4 40.1h2.2v3.8h-2.2zM270.0 62.0h3.0v1.5h-3.0zM260.3 77.0h1.7v1.7h-1.7zM256.9 84.7h3.5v3.3h-3.5zM317.4 60.3h2.1v3.6h-2.1zM277.6 51.1h2.1v2.9h-2.1z"/><path fill="#b8d636" d="M274.7 72.1h2.6v2.1h-2.6zM323.4 54.4h3.0v3.5h-3.0zM274.1 84.9h3.7v3.6h-3.7zM300.2 62.2h2.5v2.7h-2.5zM261.7 68.7h6.2v2.6h-6.2zM297.6 64.8h1.6v3.5h-1.6zM286.2 47.9h3.2v2.8h-3.2zM267.6 54.9h3.3v2.7h-3.3zM260.9 46.1h3.2v5.1h-3.2zM265.3 46.6h1.7v7.5h-1.7zM292.9 68.5h3.6v2.8h-3.6zM306.4 56.3h2.2v3.2h-2.2zM297.9 75.3h1.9v2.0h-1.9zM275.3 44.0h2.8v3.7h-2.8zM287.0 48.6h8.0v2.3h-8.0zM307.5 50.2h2.9v5.6h-2.9zM272.3 67.7h3.9v3.5h-3.9zM293.1 84.3h3.4v2.8h-3.4zM255.7 66.0h3.4v2.5h-3.4zM300.7 68.4h3.8v4.7h-3.8zM269.6 41.7h3.1v3.3h-3.1zM258.6 51.8h2.9v2.5h-2.9zM270.0 48.5h2.9v2.2h-2.9zM310.4 44.4h3.2v3.2h-3.2zM263.5 63.7h2.6v4.3h-2.6zM320.3 46.4h2.7v3.7h-2.7zM306.3 78.1h2.9v3.0h-2.9zM301.2 59.6h2.6v3.6h-2.6zM285.8 66.5h2.2v3.2h-2.2zM284.3 42.6h3.7v2.8h-3.7zM308.5 77.0h3.2v3.2h-3.2zM312.9 41.4h2.7v3.3h-2.7zM265.8 52.6h3.4v3.5h-3.4zM308.1 61.4h3.1v3.5h-3.1zM286.8 69.5h2.1v2.2h-2.1zM274.8 54.1h7.9v1.6h-7.9zM269.4 69.8h2.7v1.6h-2.7zM274.6 44.0h2.2v1.7h-2.2zM294.3 40.0h2.1v2.1h-2.1zM311.6 40.3h3.2v3.8h-3.2z"/><path fill="#eedc2e" d="M281.6 69.6h2.2v2.7h-2.2zM292.2 84.2h2.0v3.4h-2.0zM308.7 75.3h1.6v2.7h-1.6zM301.1 51.6h5.0v3.5h-5.0zM292.0 73.5h2.5v3.7h-2.5zM303.4 48.0h2.4v2.3h-2.4zM269.8 82.4h2.2v2.8h-2.2zM282.4 58.0h2.9v3.6h-2.9zM302.2 86.1h3.4v2.8h-3.4zM284.8 49.5h3.1v1.9h-3.1zM267.2 44.2h2.9v1.9h-2.9zM293.2 81.9h2.1v3.6h-2.1zM278.0 74.1h2.5v2.3h-2.5zM267.8 46.6h4.0v1.5h-4.0zM310.3 85.2h1.8v4.0h-1.8zM300.2 83.8h2.1v2.7h-2.1zM310.9 43.0h1.9v2.9h-1.9zM289.7 76.7h2.9v1.7h-2.9zM307.4 43.9h3.1v3.6h-3.1zM268.1 78.4h3.9v1.8h-3.9zM279.2 79.1h2.5v3.4h-2.5zM265.5 70.5h3.4v5.9h-3.4zM279.7 61.3h3.0v2.8h-3.0zM288.0 64.9h2.6v3.1h-2.6zM281.7 41.1h1.7v2.8h-1.7zM281.2 63.3h2.4v3.1h-2.4zM282.8 56.2h2.9v1.5h-2.9zM287.4 65.4h2.7v3.6h-2.7zM294.6 51.8h2.1v2.1h-2.1zM285.0 45.6h3.0v4.0h-3.0zM283.7 75.9h4.2v1.8h-4.2zM296.3 55.7h1.9v4.0h-1.9zM307.3 50.2h2.2v2.4h-2.2zM310.7 73.8h1.8v3.8h-1.8zM288.9 53.8h6.2v3.4h-6.2zM303.3 52.5h4.0v3.2h-4.0zM287.7 71.1h2.6v2.4h-2.6zM285.3 66.0h2.9v2.1h-2.9zM319.9 56.5h5.0v3.7h-5.0zM310.6 81.6h3.0v3.9h-3.0z"/><path fill="#b8d636" d="M305.3 83.8h4.2v3.2h-4.2zM259.5 64.5h2.5v3.3h-2.5zM279.0 62.4h3.0v4.0h-3.0zM300.2 59.7h2.3v2.0h-2.3zM306.6 79.2h2.9v1.6h-2.9zM267.8 52.4h3.3v2.1h-3.3zM292.9 79.2h2.0v2.2h-2.0zM319.8 58.6h1.8v3.5h-1.8zM270.5 74.3h6.8v3.2h-6.8zM271.6 74.3h1.7v2.6h-1.7zM312.3 77.4h1.6v2.9h-1.6zM273.9 83.9h6.3v3.2h-6.3zM288.0 63.1h3.3v3.0h-3.3z"/><path fill="#f0bc2e" d="M267.9 69.9h5.0v2.7h-5.0zM325.1 42.0h1.7v2.6h-1.7zM330.2 61.6h2.5v1.6h-2.5zM301.9 60.9h3.1v3.1h-3.1zM314.1 77.0h3.8v3.7h-3.8zM282.4 85.9h2.2v3.7h-2.2zM301.9 59.8h3.5v2.6h-3.5zM273.9 83.3h3.5v3.7h-3.5zM283.5 54.7h1.8v3.3h-1.8zM267.7 42.5h3.8v2.5h-3.8zM295.5 68.3h3.9v3.0h-3.9z"/><path fill="#eedc2e" d="M313.1 48.1h2.1v2.8h-2.1zM275.7 69.7h2.5v1.9h-2.5zM275.3 78.5h2.1v3.1h-2.1zM279.3 76.0h3.8v3.6h-3.8zM268.0 50.3h3.2v3.0h-3.2zM267.0 76.1h3.8v3.2h-3.8zM320.7 71.3h1.9v2.2h-1.9zM272.8 72.8h2.4v4.4h-2.4zM309.1 40.1h3.5v2.2h-3.5zM261.4 53.7h3.8v3.4h-3.8zM268.2 81.9h2.1v2.6h-2.1zM290.9 75.3h3.6v2.6h-3.6zM319.8 42.0h2.1v4.0h-2.1zM305.9 52.2h3.4v1.8h-3.4zM268.0 50.3h3.7v4.7h-3.7zM308.9 74.1h3.0v2.3h-3.0zM277.5 43.0h2.0v3.7h-2.0zM284.3 44.7h3.6v3.0h-3.6zM295.7 68.5h2.1v1.5h-2.1zM310.8 56.8h3.2v3.8h-3.2zM271.3 43.8h1.8v2.5h-1.8zM303.5 54.1h3.4v3.8h-3.4zM304.0 57.8h3.2v2.0h-3.2zM288.0 45.7h5.6v2.7h-5.6zM276.0 42.5h2.6v2.5h-2.6zM275.3 72.7h3.7v5.3h-3.7zM285.9 70.5h2.2v2.8h-2.2zM309.0 82.7h2.8v2.8h-2.8zM306.0 54.9h2.3v2.5h-2.3zM302.3 41.2h2.5v2.1h-2.5zM304.8 59.9h2.2v3.2h-2.2zM285.8 77.9h5.8v3.7h-5.8zM326.3 84.5h1.6v2.0h-1.6zM293.4 72.2h3.8v5.4h-3.8zM318.9 54.1h2.4v2.3h-2.4zM273.7 68.8h1.7v1.8h-1.7zM270.0 55.5h3.6v2.6h-3.6zM292.4 49.0h3.2v1.9h-3.2zM275.8 42.8h2.4v2.6h-2.4zM269.7 48.7h3.9v3.8h-3.9z"/><path fill="#f08c28" d="M269.2 51.3h1.8v1.5h-1.8zM302.3 73.0h3.9v3.5h-3.9zM255.8 53.1h2.0v3.3h-2.0zM288.8 85.2h4.0v2.8h-4.0zM319.7 72.3h3.2v3.4h-3.2zM279.7 69.7h2.1v2.4h-2.1zM324.0 62.0h1.8v3.8h-1.8zM270.1 56.9h3.4v2.1h-3.4zM270.3 61.6h3.8v2.6h-3.8zM298.8 44.6h2.6v1.6h-2.6zM280.1 53.1h2.8v3.0h-2.8zM264.8 70.6h2.3v2.4h-2.3zM307.1 55.2h3.0v1.9h-3.0zM256.3 73.8h3.4v6.7h-3.4zM319.7 83.3h1.7v3.0h-1.7zM321.6 65.8h7.9v2.0h-7.9zM278.6 53.1h2.4v3.0h-2.4zM315.8 55.7h3.8v4.0h-3.8zM272.5 81.7h2.3v2.3h-2.3zM269.1 72.1h3.7v3.9h-3.7zM293.7 50.6h3.0v5.8h-3.0zM279.6 72.5h1.7v1.7h-1.7zM306.2 68.0h2.1v2.4h-2.1zM320.4 77.8h2.0v4.0h-2.0zM271.5 40.5h2.5v2.9h-2.5zM309.9 46.4h2.0v3.6h-2.0zM320.9 84.9h1.6v2.4h-1.6z"/><path fill="#f08c28" d="M307.8 68.3h2.6v1.9h-2.6zM302.1 47.4h3.5v2.5h-3.5zM300.0 61.4h3.9v3.9h-3.9zM316.8 63.5h2.8v2.1h-2.8zM284.5 76.5h3.2v1.6h-3.2zM321.9 77.3h6.9v2.4h-6.9zM268.2 71.6h3.9v1.5h-3.9zM310.5 53.5h4.1v3.7h-4.1zM292.4 48.9h2.1v2.5h-2.1zM264.9 65.5h2.5v1.8h-2.5zM331.3 55.5h2.5v2.0h-2.5zM282.9 56.2h3.1v2.5h-3.1zM304.1 42.5h3.5v4.0h-3.5zM268.6 60.1h2.0v3.1h-2.0zM309.6 74.7h2.8v3.2h-2.8zM323.1 46.9h4.3v2.5h-4.3zM329.6 49.9h2.9v3.3h-2.9zM318.3 75.5h1.9v1.6h-1.9zM282.3 44.0h2.9v2.8h-2.9zM317.0 70.6h3.8v4.6h-3.8zM322.8 71.2h1.7v1.7h-1.7zM319.6 71.9h2.6v1.9h-2.6zM275.1 77.4h7.8v1.9h-7.8zM308.0 81.8h3.0v1.7h-3.0zM261.9 81.0h3.4v3.6h-3.4zM282.5 53.9h2.2v3.3h-2.2zM262.5 43.8h1.8v1.9h-1.8zM313.7 73.3h2.5v1.7h-2.5zM288.1 49.9h1.9v3.2h-1.9zM315.1 51.7h3.1v2.6h-3.1zM323.2 43.1h3.1v1.6h-3.1zM287.7 75.2h3.6v2.7h-3.6zM264.3 53.3h2.3v3.3h-2.3zM263.3 66.7h3.2v3.1h-3.2zM286.4 81.6h3.6v3.0h-3.6zM275.8 52.8h1.9v3.7h-1.9zM302.7 45.0h3.4v3.0h-3.4zM283.6 47.1h1.7v2.9h-1.7zM323.9 73.2h2.1v2.9h-2.1zM317.6 66.1h3.4v3.8h-3.4z"/><path fill="#6cc432" d="M291.4 70.8h2.4v2.2h-2.4zM324.4 63.6h3.6v2.6h-3.6zM329.4 66.0h3.4v2.5h-3.4zM300.9 79.6h3.6v2.1h-3.6zM309.4 52.1h3.2v3.9h-3.2zM287.3 64.6h3.0v3.9h-3.0zM309.2 56.5h3.5v2.5h-3.5zM264.2 54.1h2.4v2.7h-2.4zM310.6 45.8h2.0v3.9h-2.0zM330.8 60.5h1.6v7.6h-1.6zM323.8 70.3h3.5v3.8h-3.5zM262.3 63.1h3.1v3.5h-3.1zM279.1 69.8h3.3v3.1h-3.3zM258.7 70.3h3.8v2.3h-3.8zM270.6 66.2h3.7v3.2h-3.7zM260.1 49.2h3.8v2.1h-3.8zM260.0 77.2h3.6v5.0h-3.6zM296.8 84.7h3.2v2.5h-3.2zM327.3 62.5h2.9v2.8h-2.9zM267.5 40.3h2.9v3.8h-2.9zM312.5 50.8h7.8v3.6h-7.8zM287.9 86.1h3.5v2.4h-3.5zM330.9 79.7h3.4v1.9h-3.4zM325.0 86.3h2.0v1.9h-2.0zM318.3 81.5h1.8v3.0h-1.8zM287.8 49.4h3.9v2.1h-3.9zM299.1 44.9h2.1v1.6h-2.1zM261.2 83.9h2.6v2.2h-2.6zM330.2 80.9h3.5v2.6h-3.5zM316.2 79.5h3.3v2.3h-3.3zM289.0 56.7h3.2v1.8h-3.2zM305.5 42.3h2.1v1.6h-2.1zM282.9 45.3h3.2v3.5h-3.2zM323.3 63.7h2.6v5.0h-2.6zM261.4 54.1h3.3v4.1h-3.3zM298.4 62.5h4.0v4.5h-4.0zM319.7 61.9h3.4v2.0h-3.4z"/><path fill="#eedc2e" d="M285.8 45.2h1.9v1.6h-1.9zM327.2 52.6h1.8v3.9h-1.8zM283.5 59.3h4.0v3.4h-4.0zM320.5 54.5h3.2v2.1h-3.2zM325.8 55.6h2.6v2.1h-2.6zM302.4 51.2h4.0v3.2h-4.0zM314.4 79.8h1.9v7.4h-1.9zM291.9 45.3h3.9v2.1h-3.9zM275.2 72.6h1.8v2.9h-1.8zM294.2 71.7h3.5v3.6h-3.5zM286.2 84.9h3.5v1.7h-3.5zM310.9 57.4h4.9v2.2h-4.9zM290.2 55.1h2.5v4.0h-2.5zM304.7 77.7h2.7v3.1h-2.7zM259.1 53.7h2.2v2.0h-2.2zM288.7 72.7h4.9v3.7h-4.9zM270.0 71.7h1.6v7.6h-1.6zM260.5 49.0h4.6v2.4h-4.6zM277.3 79.1h2.8v1.7h-2.8zM310.3 83.0h2.7v3.9h-2.7zM292.1 85.8h1.9v3.7h-1.9zM319.9 59.6h1.6v3.2h-1.6zM316.9 56.3h2.8v3.3h-2.8zM301.9 49.4h2.0v1.8h-2.0zM309.5 82.4h3.8v3.8h-3.8zM273.3 48.7h3.6v2.0h-3.6zM279.3 40.3h1.7v3.8h-1.7zM302.0 46.2h2.8v3.7h-2.8zM255.5 48.8h3.5v3.2h-3.5zM277.4 54.6h6.0v3.8h-6.0zM302.7 63.5h1.9v3.1h-1.9zM320.4 40.2h2.8v2.0h-2.8zM273.2 41.2h2.5v2.2h-2.5zM327.2 47.9h2.0v1.8h-2.0zM270.5 82.1h7.8v2.3h-7.8zM281.8 69.9h2.8v4.0h-2.8zM309.9 83.3h2.5v2.4h-2.5zM302.9 72.7h1.6v3.0h-1.6zM282.9 65.0h2.1v3.5h-2.1zM301.7 50.5h3.4v3.0h-3.4z"/><path fill="#eedc2e" d="M315.7 77.1h3.6v1.7h-3.6zM315.5 59.0h2.1v1.9h-2.1zM264.4 45.7h2.7v4.0h-2.7zM313.6 44.0h3.6v3.1h-3.6zM280.7 75.7h3.4v3.0h-3.4zM265.2 84.7h3.8v2.3h-3.8zM301.6 79.8h1.7v2.6h-1.7zM318.7 47.1h2.0v3.8h-2.0zM289.3 74.6h2.0v3.2h-2.0zM294.5 77.6h3.4v3.2h-3.4zM260.8 52.5h1.8v2.9h-1.8zM290.1 79.7h2.4v3.7h-2.4zM284.5 58.3h4.0v2.3h-4.0zM279.4 50.5h3.2v2.8h-3.2zM308.4 80.8h5.1v2.9h-5.1z"/></g><path fill="#72c832" d="M312.3 54.5h1.2v1.2h-1.2zM296.1 76.1h1.5v1.5h-1.5zM310.5 48.3h1.2v1.2h-1.2zM288.5 81.6h1.8v1.8h-1.8zM260.0 67.7h1.5v1.5h-1.5zM284.1 77.4h1.2v1.2h-1.2zM262.4 75.8h1.8v1.8h-1.8zM310.6 43.2h1.0v1.0h-1.0zM257.6 64.3h1.2v1.2h-1.2zM278.5 74.0h1.8v1.8h-1.8zM306.2 60.4h1.5v1.5h-1.5zM276.6 65.7h1.8v1.8h-1.8zM277.7 44.6h1.0v1.0h-1.0zM311.7 76.0h1.5v1.5h-1.5zM317.7 83.1h1.8v1.8h-1.8zM300.1 62.8h1.8v1.8h-1.8zM264.6 78.6h1.2v1.2h-1.2zM269.8 65.5h1.2v1.2h-1.2zM310.6 83.1h1.0v1.0h-1.0zM291.0 60.0h1.0v1.0h-1.0zM273.5 70.0h1.8v1.8h-1.8zM306.7 59.1h1.0v1.0h-1.0zM295.4 72.6h1.0v1.0h-1.0zM321.3 65.7h1.5v1.5h-1.5zM320.1 83.3h1.0v1.0h-1.0zM261.8 58.8h1.0v1.0h-1.0zM287.4 71.2h1.2v1.2h-1.2zM320.9 47.4h1.0v1.0h-1.0zM267.5 77.1h1.2v1.2h-1.2zM315.7 64.8h1.2v1.2h-1.2zM331.1 79.5h1.8v1.8h-1.8zM281.4 72.7h1.2v1.2h-1.2zM272.0 67.1h1.0v1.0h-1.0zM307.4 55.5h1.2v1.2h-1.2zM280.5 81.2h1.8v1.8h-1.8zM261.0 67.6h1.5v1.5h-1.5zM315.7 83.2h1.2v1.2h-1.2zM274.5 47.4h1.0v1.0h-1.0zM282.9 47.9h1.5v1.5h-1.5zM314.1 72.3h1.2v1.2h-1.2zM290.3 83.4h1.0v1.0h-1.0zM316.2 68.0h1.5v1.5h-1.5zM283.9 52.5h1.0v1.0h-1.0zM316.9 44.9h1.0v1.0h-1.0zM316.8 57.1h1.2v1.2h-1.2zM274.2 85.3h1.8v1.8h-1.8zM292.5 80.4h1.2v1.2h-1.2zM303.8 80.3h1.2v1.2h-1.2zM303.3 51.1h1.2v1.2h-1.2zM286.7 49.5h1.8v1.8h-1.8zM307.1 62.2h1.0v1.0h-1.0zM324.0 43.5h1.2v1.2h-1.2zM312.6 43.8h1.5v1.5h-1.5zM309.0 73.1h1.2v1.2h-1.2zM276.1 77.3h1.8v1.8h-1.8zM269.9 66.0h1.0v1.0h-1.0zM321.0 62.5h1.8v1.8h-1.8zM260.2 81.2h1.5v1.5h-1.5zM296.3 58.3h1.2v1.2h-1.2zM286.9 63.7h1.2v1.2h-1.2zM292.3 64.1h1.5v1.5h-1.5zM283.9 44.5h1.2v1.2h-1.2zM302.5 56.4h1.5v1.5h-1.5zM285.9 81.4h1.5v1.5h-1.5zM331.6 68.5h1.0v1.0h-1.0zM278.7 73.0h1.2v1.2h-1.2zM272.3 86.5h1.5v1.5h-1.5zM260.0 73.1h1.5v1.5h-1.5zM265.2 49.2h1.5v1.5h-1.5zM263.1 50.7h1.0v1.0h-1.0zM268.2 42.3h1.8v1.8h-1.8zM293.2 74.7h1.5v1.5h-1.5zM285.4 71.3h1.5v1.5h-1.5zM274.9 47.4h1.0v1.0h-1.0zM275.9 76.6h1.2v1.2h-1.2zM263.7 67.1h1.8v1.8h-1.8zM286.2 86.1h1.2v1.2h-1.2zM323.4 47.1h1.2v1.2h-1.2zM279.1 76.3h1.0v1.0h-1.0zM270.6 51.2h1.8v1.8h-1.8zM282.5 68.5h1.2v1.2h-1.2zM308.6 49.8h1.0v1.0h-1.0zM283.6 75.8h1.8v1.8h-1.8zM281.7 42.5h1.0v1.0h-1.0zM317.5 72.2h1.5v1.5h-1.5zM281.3 55.2h1.5v1.5h-1.5zM281.9 47.2h1.2v1.2h-1.2zM307.4 72.6h1.8v1.8h-1.8zM327.3 54.4h1.2v1.2h-1.2zM281.2 77.5h1.8v1.8h-1.8zM263.8 49.3h1.0v1.0h-1.0zM260.2 49.5h1.2v1.2h-1.2zM268.5 52.7h1.5v1.5h-1.5zM283.0 57.0h1.8v1.8h-1.8zM269.8 67.1h1.8v1.8h-1.8zM321.5 53.2h1.5v1.5h-1.5zM305.5 74.3h1.2v1.2h-1.2zM316.6 51.2h1.8v1.8h-1.8zM304.9 70.4h1.0v1.0h-1.0zM274.3 48.8h1.2v1.2h-1.2zM305.6 44.0h1.2v1.2h-1.2zM324.0 44.1h1.2v1.2h-1.2zM317.9 73.1h1.5v1.5h-1.5zM294.0 49.6h1.8v1.8h-1.8zM308.7 64.4h1.2v1.2h-1.2zM309.9 86.0h1.5v1.5h-1.5zM273.9 56.5h1.2v1.2h-1.2zM316.3 72.2h1.5v1.5h-1.5zM268.8 54.8h1.0v1.0h-1.0zM322.1 52.8h1.2v1.2h-1.2zM289.2 68.8h1.2v1.2h-1.2zM261.9 59.6h1.5v1.5h-1.5zM296.8 70.9h1.5v1.5h-1.5zM286.3 67.6h1.0v1.0h-1.0zM288.1 81.4h1.8v1.8h-1.8zM281.2 66.6h1.0v1.0h-1.0zM306.8 53.9h1.0v1.0h-1.0zM330.2 51.9h1.5v1.5h-1.5zM321.3 53.2h1.5v1.5h-1.5zM327.6 57.8h1.5v1.5h-1.5zM311.3 84.4h1.5v1.5h-1.5zM292.9 45.6h1.0v1.0h-1.0zM262.5 50.7h1.8v1.8h-1.8zM329.9 42.9h1.5v1.5h-1.5zM326.8 45.6h1.2v1.2h-1.2zM264.9 58.4h1.8v1.8h-1.8zM307.3 71.4h1.5v1.5h-1.5zM300.0 83.7h1.0v1.0h-1.0zM287.8 78.4h1.5v1.5h-1.5zM314.2 54.2h1.5v1.5h-1.5zM290.5 67.7h1.5v1.5h-1.5zM292.8 68.3h1.8v1.8h-1.8zM279.1 46.9h1.5v1.5h-1.5zM324.8 62.2h1.0v1.0h-1.0zM291.3 74.3h1.0v1.0h-1.0zM293.9 53.3h1.5v1.5h-1.5zM305.1 54.9h1.5v1.5h-1.5zM271.5 43.5h1.5v1.5h-1.5zM306.5 77.7h1.5v1.5h-1.5zM262.1 51.3h1.0v1.0h-1.0z"/></g><rect x="292" y="59" width="8" height="7" rx="2.3" fill="#78c634"/><rect x="268" y="44" width="6" height="4" rx="1.3" fill="#a8d438"/><rect x="276" y="45" width="5" height="5" rx="1.7" fill="#8ccc36"/><path fill="#7ed23a" d="M226.3 27.5h1.8v1.8h-1.8zM240.5 17.2h1.8v1.8h-1.8zM241.0 20.5h1.8v1.8h-1.8zM238.8 23.2h1.8v1.8h-1.8zM239.9 28.3h1.8v1.8h-1.8zM244.3 18.1h1.8v1.8h-1.8zM245.9 18.3h1.8v1.8h-1.8zM246.5 15.6h1.8v1.8h-1.8zM248.1 13.9h1.8v1.8h-1.8zM251.9 18.1h1.8v1.8h-1.8zM255.7 11.5h1.8v1.8h-1.8zM258.5 14.8h1.8v1.8h-1.8zM260.1 17.2h1.8v1.8h-1.8zM261.2 12.3h1.8v1.8h-1.8zM262.8 11.2h1.8v1.8h-1.8zM260.1 9.6h1.8v1.8h-1.8zM263.4 17.7h1.8v1.8h-1.8zM265.5 15.6h1.8v1.8h-1.8zM266.6 18.3h1.8v1.8h-1.8zM267.7 18.3h1.8v1.8h-1.8zM266.1 24.3h1.8v1.8h-1.8zM271.0 14.5h1.8v1.8h-1.8zM273.7 15.0h1.8v1.8h-1.8zM275.4 12.0h1.8v1.8h-1.8zM277.5 10.1h1.8v1.8h-1.8zM279.2 9.6h1.8v1.8h-1.8zM280.8 9.0h1.8v1.8h-1.8zM278.1 12.8h1.8v1.8h-1.8zM279.7 15.0h1.8v1.8h-1.8zM281.9 15.6h1.8v1.8h-1.8zM283.5 15.0h1.8v1.8h-1.8zM274.3 29.7h1.8v1.8h-1.8zM283.5 30.3h1.8v1.8h-1.8zM254.1 33.3h1.8v1.8h-1.8zM256.8 31.9h1.8v1.8h-1.8zM273.7 33.0h1.8v1.8h-1.8zM284.8 12.3h1.8v1.8h-1.8zM283.2 15.0h1.8v1.8h-1.8zM285.9 16.6h1.8v1.8h-1.8zM284.8 20.5h1.8v1.8h-1.8zM285.4 21.5h1.8v1.8h-1.8zM287.0 23.7h1.8v1.8h-1.8zM286.5 24.8h1.8v1.8h-1.8zM283.7 29.7h1.8v1.8h-1.8zM287.0 29.7h1.8v1.8h-1.8zM292.5 11.2h1.8v1.8h-1.8zM295.2 6.8h1.8v1.8h-1.8zM298.5 6.8h1.8v1.8h-1.8zM302.3 7.4h1.8v1.8h-1.8zM297.4 9.0h1.8v1.8h-1.8zM299.0 10.1h1.8v1.8h-1.8zM302.3 11.7h1.8v1.8h-1.8zM302.8 13.4h1.8v1.8h-1.8zM295.2 13.9h1.8v1.8h-1.8zM297.4 14.5h1.8v1.8h-1.8zM300.1 16.1h1.8v1.8h-1.8zM302.3 17.7h1.8v1.8h-1.8zM303.4 18.8h1.8v1.8h-1.8zM296.3 18.3h1.8v1.8h-1.8zM295.2 20.5h1.8v1.8h-1.8zM293.6 15.0h1.8v1.8h-1.8zM307.2 7.9h1.8v1.8h-1.8zM309.9 8.5h1.8v1.8h-1.8zM308.8 9.6h1.8v1.8h-1.8zM309.4 14.5h1.8v1.8h-1.8zM313.7 9.6h1.8v1.8h-1.8zM319.2 14.5h1.8v1.8h-1.8zM319.7 15.6h1.8v1.8h-1.8zM317.5 18.8h1.8v1.8h-1.8zM311.0 21.0h1.8v1.8h-1.8zM312.6 24.3h1.8v1.8h-1.8zM320.8 23.2h1.8v1.8h-1.8zM321.9 25.9h1.8v1.8h-1.8zM323.0 25.9h1.8v1.8h-1.8zM327.4 18.3h1.8v1.8h-1.8zM329.5 24.3h1.8v1.8h-1.8zM330.6 24.8h1.8v1.8h-1.8zM331.2 27.5h1.8v1.8h-1.8zM326.3 30.3h1.8v1.8h-1.8zM325.7 31.4h1.8v1.8h-1.8zM339.4 16.6h1.8v1.8h-1.8zM341.5 17.2h1.8v1.8h-1.8zM299.5 33.0h1.8v1.8h-1.8zM302.8 33.0h1.8v1.8h-1.8zM314.8 33.0h1.8v1.8h-1.8zM343.6 15.5h1.8v1.8h-1.8zM345.1 17.0h1.8v1.8h-1.8zM342.0 19.1h1.8v1.8h-1.8zM348.7 29.9h1.8v1.8h-1.8zM350.3 33.6h1.8v1.8h-1.8zM221.9 37.3h1.8v1.8h-1.8zM222.4 39.6h1.8v1.8h-1.8zM222.4 43.0h1.8v1.8h-1.8zM218.2 49.9h1.8v1.8h-1.8zM226.0 54.9h1.8v1.8h-1.8zM230.7 54.4h1.8v1.8h-1.8zM230.7 59.5h1.8v1.8h-1.8zM233.3 48.1h1.8v1.8h-1.8zM235.3 45.6h1.8v1.8h-1.8zM237.4 44.3h1.8v1.8h-1.8zM239.5 45.4h1.8v1.8h-1.8zM237.9 47.6h1.8v1.8h-1.8zM238.9 49.2h1.8v1.8h-1.8zM235.8 51.3h1.8v1.8h-1.8zM237.9 53.8h1.8v1.8h-1.8zM241.5 53.3h1.8v1.8h-1.8zM241.5 39.3h1.8v1.8h-1.8zM247.2 45.6h1.8v1.8h-1.8zM249.3 50.7h1.8v1.8h-1.8zM251.9 46.1h1.8v1.8h-1.8zM253.4 46.6h1.8v1.8h-1.8zM254.0 33.7h1.8v1.8h-1.8zM248.3 58.5h1.8v1.8h-1.8zM247.2 59.5h1.8v1.8h-1.8zM251.4 59.5h1.8v1.8h-1.8zM252.9 58.5h1.8v1.8h-1.8zM254.5 55.4h1.8v1.8h-1.8zM255.5 53.8h1.8v1.8h-1.8zM224.5 68.9h1.8v1.8h-1.8zM225.0 72.0h1.8v1.8h-1.8zM227.0 71.0h1.8v1.8h-1.8zM229.1 70.7h1.8v1.8h-1.8zM221.3 73.0h1.8v1.8h-1.8zM218.8 74.6h1.8v1.8h-1.8zM220.3 76.7h1.8v1.8h-1.8zM220.8 77.7h1.8v1.8h-1.8zM224.5 76.7h1.8v1.8h-1.8zM235.8 68.9h1.8v1.8h-1.8zM244.1 64.8h1.8v1.8h-1.8zM246.2 67.3h1.8v1.8h-1.8zM247.2 66.3h1.8v1.8h-1.8zM248.8 65.5h1.8v1.8h-1.8zM249.8 69.4h1.8v1.8h-1.8zM250.8 70.2h1.8v1.8h-1.8zM255.0 67.9h1.8v1.8h-1.8zM237.9 78.7h1.8v1.8h-1.8zM235.8 82.4h1.8v1.8h-1.8zM238.4 83.4h1.8v1.8h-1.8zM238.9 84.7h1.8v1.8h-1.8zM253.4 79.8h1.8v1.8h-1.8zM251.4 86.5h1.8v1.8h-1.8zM255.0 86.5h1.8v1.8h-1.8zM256.5 80.3h1.8v1.8h-1.8zM259.6 88.6h1.8v1.8h-1.8zM227.6 89.6h1.8v1.8h-1.8zM223.2 91.5h1.8v1.8h-1.8zM227.8 90.4h1.8v1.8h-1.8zM224.9 99.5h1.8v1.8h-1.8zM227.8 99.5h1.8v1.8h-1.8zM230.0 101.5h1.8v1.8h-1.8zM232.9 101.5h1.8v1.8h-1.8zM237.4 103.1h1.8v1.8h-1.8zM241.4 102.9h1.8v1.8h-1.8zM244.3 100.6h1.8v1.8h-1.8zM246.0 94.4h1.8v1.8h-1.8zM228.9 106.3h1.8v1.8h-1.8zM234.0 110.9h1.8v1.8h-1.8zM238.6 112.2h1.8v1.8h-1.8zM245.4 106.3h1.8v1.8h-1.8zM246.6 112.9h1.8v1.8h-1.8zM257.4 105.0h1.8v1.8h-1.8zM257.9 96.1h1.8v1.8h-1.8zM260.2 93.2h1.8v1.8h-1.8zM260.2 89.2h1.8v1.8h-1.8zM255.7 113.7h1.8v1.8h-1.8zM256.8 115.4h1.8v1.8h-1.8zM257.9 117.5h1.8v1.8h-1.8zM259.7 119.1h1.8v1.8h-1.8zM279.1 89.4h1.8v1.8h-1.8zM279.7 91.3h1.8v1.8h-1.8zM274.1 93.2h1.8v1.8h-1.8zM277.2 93.8h1.8v1.8h-1.8zM281.0 94.4h1.8v1.8h-1.8zM273.5 96.3h1.8v1.8h-1.8zM277.2 96.9h1.8v1.8h-1.8zM280.3 96.9h1.8v1.8h-1.8zM269.2 96.0h1.8v1.8h-1.8zM275.4 100.0h1.8v1.8h-1.8zM269.2 104.7h1.8v1.8h-1.8zM277.8 103.7h1.8v1.8h-1.8zM278.5 105.6h1.8v1.8h-1.8zM277.8 106.8h1.8v1.8h-1.8zM282.2 103.1h1.8v1.8h-1.8zM282.2 105.9h1.8v1.8h-1.8zM279.7 109.3h1.8v1.8h-1.8zM269.8 111.2h1.8v1.8h-1.8zM271.0 111.8h1.8v1.8h-1.8zM272.9 113.0h1.8v1.8h-1.8zM274.7 114.3h1.8v1.8h-1.8zM275.4 114.9h1.8v1.8h-1.8zM272.3 115.5h1.8v1.8h-1.8zM286.5 87.6h1.8v1.8h-1.8zM294.6 87.0h1.8v1.8h-1.8zM295.2 88.2h1.8v1.8h-1.8zM299.6 88.8h1.8v1.8h-1.8zM304.5 101.2h1.8v1.8h-1.8zM300.8 103.1h1.8v1.8h-1.8zM302.0 103.7h1.8v1.8h-1.8zM310.7 104.3h1.8v1.8h-1.8zM291.5 108.1h1.8v1.8h-1.8zM290.3 113.0h1.8v1.8h-1.8zM294.0 113.6h1.8v1.8h-1.8zM289.0 118.6h1.8v1.8h-1.8zM290.3 118.8h1.8v1.8h-1.8zM307.6 87.0h1.8v1.8h-1.8zM311.0 88.2h1.8v1.8h-1.8zM312.2 90.7h1.8v1.8h-1.8zM315.9 93.2h1.8v1.8h-1.8zM315.3 97.5h1.8v1.8h-1.8zM317.2 99.4h1.8v1.8h-1.8zM317.8 101.2h1.8v1.8h-1.8zM311.0 104.3h1.8v1.8h-1.8zM314.1 105.6h1.8v1.8h-1.8zM315.9 107.4h1.8v1.8h-1.8zM318.4 108.7h1.8v1.8h-1.8zM320.3 109.3h1.8v1.8h-1.8zM320.9 105.0h1.8v1.8h-1.8zM324.6 101.2h1.8v1.8h-1.8zM328.3 95.3h1.8v1.8h-1.8zM342.0 90.1h1.8v1.8h-1.8zM343.8 93.8h1.8v1.8h-1.8zM345.7 93.2h1.8v1.8h-1.8zM344.5 85.7h1.8v1.8h-1.8zM345.1 101.8h1.8v1.8h-1.8zM342.0 104.7h1.8v1.8h-1.8zM348.8 106.2h1.8v1.8h-1.8zM333.9 113.6h1.8v1.8h-1.8zM335.8 112.6h1.8v1.8h-1.8zM340.7 111.4h1.8v1.8h-1.8zM343.8 111.2h1.8v1.8h-1.8zM345.1 111.2h1.8v1.8h-1.8zM335.0 37.4h1.8v1.8h-1.8zM347.5 36.8h1.8v1.8h-1.8zM350.1 34.0h1.8v1.8h-1.8zM350.7 38.2h1.8v1.8h-1.8zM345.0 42.5h1.8v1.8h-1.8zM359.3 45.8h1.8v1.8h-1.8zM361.2 47.3h1.8v1.8h-1.8zM348.8 50.1h1.8v1.8h-1.8zM340.7 56.8h1.8v1.8h-1.8zM332.7 59.6h1.8v1.8h-1.8zM334.2 69.1h1.8v1.8h-1.8zM345.6 66.6h1.8v1.8h-1.8zM347.9 64.7h1.8v1.8h-1.8zM353.6 67.2h1.8v1.8h-1.8zM355.5 66.3h1.8v1.8h-1.8zM356.4 69.1h1.8v1.8h-1.8zM358.3 69.1h1.8v1.8h-1.8zM351.7 72.9h1.8v1.8h-1.8zM355.1 73.8h1.8v1.8h-1.8zM357.4 74.2h1.8v1.8h-1.8zM338.4 71.9h1.8v1.8h-1.8zM344.1 76.7h1.8v1.8h-1.8zM348.8 78.6h1.8v1.8h-1.8zM350.7 79.5h1.8v1.8h-1.8zM355.5 77.6h1.8v1.8h-1.8zM358.3 78.0h1.8v1.8h-1.8zM344.1 80.5h1.8v1.8h-1.8zM356.4 81.8h1.8v1.8h-1.8zM331.7 83.0h1.8v1.8h-1.8zM328.9 83.7h1.8v1.8h-1.8zM344.1 85.2h1.8v1.8h-1.8zM274.1 29.7h1.8v1.8h-1.8zM273.5 33.4h1.8v1.8h-1.8zM279.0 35.9h1.8v1.8h-1.8zM282.7 37.8h1.8v1.8h-1.8zM287.1 35.0h1.8v1.8h-1.8zM290.8 34.0h1.8v1.8h-1.8zM292.0 35.9h1.8v1.8h-1.8zM298.2 33.4h1.8v1.8h-1.8zM300.7 34.7h1.8v1.8h-1.8zM303.7 34.0h1.8v1.8h-1.8zM315.5 33.4h1.8v1.8h-1.8zM326.0 31.0h1.8v1.8h-1.8zM309.9 38.4h1.8v1.8h-1.8zM311.8 39.0h1.8v1.8h-1.8zM313.0 37.8h1.8v1.8h-1.8z"/><rect x="371" y="5" width="177.0" height="119.7" fill="#0c0c0e"/><rect x="371.5" y="5.5" width="176.0" height="118.7" fill="none" stroke="#000" stroke-width="1"/><rect x="405.6" y="7.6" width="138.5" height="112.5" fill="#09090b"/><path d="M405.5 7.0V121.0M414.5 7.0V121.0M422.5 7.0V121.0M431.5 7.0V121.0M440.5 7.0V121.0M448.5 7.0V121.0M457.5 7.0V121.0M466.5 7.0V121.0M474.5 7.0V121.0M483.5 7.0V121.0M492.5 7.0V121.0M500.5 7.0V121.0M509.5 7.0V121.0M518.5 7.0V121.0M526.5 7.0V121.0M535.5 7.0V121.0M544.5 7.0V121.0M405.0 7.5H545.0M405.0 16.5H545.0M405.0 24.5H545.0M405.0 33.5H545.0M405.0 42.5H545.0M405.0 50.5H545.0M405.0 59.5H545.0M405.0 68.5H545.0M405.0 76.5H545.0M405.0 85.5H545.0M405.0 94.5H545.0M405.0 102.5H545.0M405.0 111.5H545.0M405.0 120.5H545.0" stroke="#3a3a3c" stroke-width="1" fill="none" shape-rendering="crispEdges"/><rect x="382.7" y="58.1" width="10.3" height="57.5" fill="url(#cbg)"/><text x="387.9" y="53.8" font-family="Liberation Sans" font-size="5.8" fill="#eee" text-anchor="middle">&gt;0.01</text><text x="387.9" y="122.2" font-family="Liberation Sans" font-size="5.9" fill="#eee" text-anchor="middle">0.002</text><text transform="translate(376.6,86.8) rotate(-90)" font-family="Liberation Sans" font-size="5.8" fill="#d8d8d8" text-anchor="middle">Resolution (m/px)</text><rect x="437.0" y="37.7" width="75.6" height="45.6" fill="#f0b236"/><clipPath id="c2"><rect x="437.0" y="37.7" width="75.6" height="45.6"/></clipPath><g clip-path="url(#c2)"><g filter="url(#blur2)"><rect x="436.7" y="37.4" width="8.2" height="8.2" fill="#ec6420"/><rect x="444.3" y="37.4" width="8.2" height="8.2" fill="#ec6420"/><rect x="451.8" y="37.4" width="8.2" height="8.2" fill="#f08c28"/><rect x="459.4" y="37.4" width="8.2" height="8.2" fill="#f08c28"/><rect x="466.9" y="37.4" width="8.2" height="8.2" fill="#f0bc2e"/><rect x="474.5" y="37.4" width="8.2" height="8.2" fill="#f0bc2e"/><rect x="482.1" y="37.4" width="8.2" height="8.2" fill="#ec6420"/><rect x="489.6" y="37.4" width="8.2" height="8.2" fill="#ec6420"/><rect x="497.2" y="37.4" width="8.2" height="8.2" fill="#ec6420"/><rect x="504.7" y="37.4" width="8.2" height="8.2" fill="#ec6420"/><rect x="436.7" y="45.0" width="8.2" height="8.2" fill="#ec6420"/><rect x="444.3" y="45.0" width="8.2" height="8.2" fill="#eedc2e"/><rect x="451.8" y="45.0" width="8.2" height="8.2" fill="#eedc2e"/><rect x="459.4" y="45.0" width="8.2" height="8.2" fill="#eedc2e"/><rect x="466.9" y="45.0" width="8.2" height="8.2" fill="#eedc2e"/><rect x="474.5" y="45.0" width="8.2" height="8.2" fill="#eedc2e"/><rect x="482.1" y="45.0" width="8.2" height="8.2" fill="#f08c28"/><rect x="489.6" y="45.0" width="8.2" height="8.2" fill="#f0bc2e"/><rect x="497.2" y="45.0" width="8.2" height="8.2" fill="#eedc2e"/><rect x="504.7" y="45.0" width="8.2" height="8.2" fill="#f08c28"/><rect x="436.7" y="52.6" width="8.2" height="8.2" fill="#f0bc2e"/><rect x="444.3" y="52.6" width="8.2" height="8.2" fill="#f0e83e"/><rect x="451.8" y="52.6" width="8.2" height="8.2" fill="#eedc2e"/><rect x="459.4" y="52.6" width="8.2" height="8.2" fill="#eedc2e"/><rect x="466.9" y="52.6" width="8.2" height="8.2" fill="#eedc2e"/><rect x="474.5" y="52.6" width="8.2" height="8.2" fill="#eedc2e"/><rect x="482.1" y="52.6" width="8.2" height="8.2" fill="#eedc2e"/><rect x="489.6" y="52.6" width="8.2" height="8.2" fill="#f0e83e"/><rect x="497.2" y="52.6" width="8.2" height="8.2" fill="#f0bc2e"/><rect x="504.7" y="52.6" width="8.2" height="8.2" fill="#f08c28"/><rect x="436.7" y="60.2" width="8.2" height="8.2" fill="#f08c28"/><rect x="444.3" y="60.2" width="8.2" height="8.2" fill="#f0bc2e"/><rect x="451.8" y="60.2" width="8.2" height="8.2" fill="#eedc2e"/><rect x="459.4" y="60.2" width="8.2" height="8.2" fill="#eedc2e"/><rect x="466.9" y="60.2" width="8.2" height="8.2" fill="#eedc2e"/><rect x="474.5" y="60.2" width="8.2" height="8.2" fill="#eedc2e"/><rect x="482.1" y="60.2" width="8.2" height="8.2" fill="#eedc2e"/><rect x="489.6" y="60.2" width="8.2" height="8.2" fill="#eedc2e"/><rect x="497.2" y="60.2" width="8.2" height="8.2" fill="#f08c28"/><rect x="504.7" y="60.2" width="8.2" height="8.2" fill="#f08c28"/><rect x="436.7" y="67.8" width="8.2" height="8.2" fill="#ec6420"/><rect x="444.3" y="67.8" width="8.2" height="8.2" fill="#f08c28"/><rect x="451.8" y="67.8" width="8.2" height="8.2" fill="#eedc2e"/><rect x="459.4" y="67.8" width="8.2" height="8.2" fill="#eedc2e"/><rect x="466.9" y="67.8" width="8.2" height="8.2" fill="#eedc2e"/><rect x="474.5" y="67.8" width="8.2" height="8.2" fill="#f0bc2e"/><rect x="482.1" y="67.8" width="8.2" height="8.2" fill="#eedc2e"/><rect x="489.6" y="67.8" width="8.2" height="8.2" fill="#f08c28"/><rect x="497.2" y="67.8" width="8.2" height="8.2" fill="#f08c28"/><rect x="504.7" y="67.8" width="8.2" height="8.2" fill="#ec6420"/><rect x="436.7" y="75.4" width="8.2" height="8.2" fill="#ec6420"/><rect x="444.3" y="75.4" width="8.2" height="8.2" fill="#ec6420"/><rect x="451.8" y="75.4" width="8.2" height="8.2" fill="#f08c28"/><rect x="459.4" y="75.4" width="8.2" height="8.2" fill="#eedc2e"/><rect x="466.9" y="75.4" width="8.2" height="8.2" fill="#eedc2e"/><rect x="474.5" y="75.4" width="8.2" height="8.2" fill="#eedc2e"/><rect x="482.1" y="75.4" width="8.2" height="8.2" fill="#f08c28"/><rect x="489.6" y="75.4" width="8.2" height="8.2" fill="#ec6420"/><rect x="497.2" y="75.4" width="8.2" height="8.2" fill="#ec6420"/><rect x="504.7" y="75.4" width="8.2" height="8.2" fill="#ec6420"/></g><g filter="url(#blur05)"><path fill="#f0bc2e" d="M479.9 50.3h3.6v2.0h-3.6zM478.6 71.3h2.3v2.2h-2.3zM492.8 70.3h3.1v3.9h-3.1zM499.1 64.7h2.5v2.8h-2.5zM485.8 80.1h1.6v1.7h-1.6zM507.8 59.7h3.4v2.8h-3.4zM501.7 58.7h2.6v4.6h-2.6zM484.0 47.5h1.8v1.7h-1.8zM493.0 51.0h2.9v3.3h-2.9zM506.1 51.5h3.8v2.3h-3.8zM483.2 48.5h2.7v3.2h-2.7zM489.6 48.0h2.7v3.1h-2.7zM492.4 48.6h2.0v4.0h-2.0zM442.8 54.6h1.9v3.2h-1.9zM494.9 71.0h2.3v3.8h-2.3zM486.1 79.0h2.8v2.6h-2.8zM444.5 53.7h3.9v2.0h-3.9zM490.6 72.0h3.1v1.7h-3.1zM494.0 45.2h3.1v2.6h-3.1zM470.5 37.1h6.4v3.9h-6.4zM440.8 53.0h3.3v3.4h-3.3zM478.0 37.0h2.7v1.7h-2.7zM443.7 55.5h2.9v3.1h-2.9zM500.5 59.4h3.9v2.4h-3.9zM443.9 61.2h3.0v2.8h-3.0zM437.1 55.5h2.5v2.1h-2.5zM511.1 68.7h3.6v2.0h-3.6zM499.2 71.8h1.7v1.5h-1.7zM472.9 36.9h3.2v2.8h-3.2zM435.8 55.1h3.0v1.6h-3.0zM489.9 47.6h2.2v7.6h-2.2zM480.2 68.1h1.6v3.9h-1.6zM495.0 69.3h2.8v3.9h-2.8zM438.1 58.1h3.8v2.5h-3.8z"/><path fill="#e6341c" d="M441.7 71.4h2.0v2.7h-2.0zM460.9 48.7h1.8v3.6h-1.8zM490.4 67.0h2.6v2.9h-2.6zM502.7 66.2h3.6v3.8h-3.6zM443.1 69.1h2.1v2.3h-2.1zM434.4 77.6h3.5v2.6h-3.5zM481.0 70.9h3.0v4.9h-3.0zM468.9 68.8h2.6v1.7h-2.6zM471.1 69.0h2.3v3.3h-2.3zM496.0 70.1h3.7v3.9h-3.7zM457.5 77.8h2.7v3.0h-2.7zM504.4 44.2h2.7v4.3h-2.7zM492.4 68.4h3.0v1.7h-3.0zM456.8 64.3h3.6v2.4h-3.6zM451.1 52.3h2.6v2.1h-2.6zM482.5 53.8h2.0v3.2h-2.0zM477.9 61.5h2.7v3.7h-2.7zM438.0 35.9h2.4v2.9h-2.4zM485.3 36.2h3.6v3.6h-3.6zM455.3 60.3h1.5v3.0h-1.5zM478.0 59.0h4.0v3.2h-4.0zM487.3 69.7h1.7v2.8h-1.7zM510.5 49.1h2.4v2.3h-2.4zM473.8 58.8h3.5v3.3h-3.5zM434.3 50.7h5.7v1.5h-5.7zM469.5 64.5h3.8v3.6h-3.8zM460.4 51.4h3.0v1.9h-3.0zM511.0 63.4h2.7v2.8h-2.7zM479.6 55.4h2.0v3.3h-2.0zM503.5 60.0h3.9v2.9h-3.9zM506.7 42.7h3.6v3.0h-3.6zM483.7 74.7h1.6v1.9h-1.6zM476.3 50.4h3.2v3.0h-3.2zM509.7 47.2h3.8v1.6h-3.8zM511.5 77.2h2.9v2.6h-2.9zM498.9 45.7h2.0v1.7h-2.0zM510.0 69.2h1.9v3.5h-1.9zM469.9 72.9h3.5v2.1h-3.5zM463.3 75.1h2.8v7.7h-2.8zM506.2 46.9h2.7v2.3h-2.7z"/><path fill="#f08c28" d="M491.7 63.7h1.7v2.6h-1.7zM505.7 76.8h2.7v1.6h-2.7zM486.7 73.4h4.0v3.5h-4.0zM470.2 59.3h2.0v1.5h-2.0zM498.4 74.5h3.8v1.9h-3.8zM505.1 45.6h3.1v2.2h-3.1zM498.4 57.7h7.3v3.8h-7.3zM491.1 66.7h3.6v3.9h-3.6z"/><path fill="#e6341c" d="M457.7 65.0h1.9v3.1h-1.9zM490.8 37.2h1.6v2.5h-1.6zM490.0 64.9h1.9v1.9h-1.9zM479.5 53.9h3.4v1.7h-3.4zM478.2 52.9h2.5v3.2h-2.5zM453.4 68.5h3.4v1.7h-3.4zM444.7 76.7h2.7v1.9h-2.7zM494.6 38.8h2.9v3.2h-2.9zM511.1 57.5h1.8v3.4h-1.8zM499.6 66.6h1.6v3.5h-1.6zM481.7 74.5h6.6v3.7h-6.6zM487.6 47.5h2.5v3.1h-2.5zM439.9 80.9h2.4v2.3h-2.4zM464.4 62.8h3.4v4.1h-3.4zM440.7 61.9h2.3v3.2h-2.3z"/><path fill="#f0e83e" d="M472.7 79.4h4.2v2.8h-4.2zM481.0 47.4h1.6v3.1h-1.6zM482.9 65.5h4.6v1.7h-4.6zM488.3 67.1h3.3v3.9h-3.3zM463.4 58.8h2.8v1.8h-2.8zM463.8 56.3h1.8v3.5h-1.8zM454.9 52.6h3.9v2.7h-3.9zM468.4 49.8h3.7v2.5h-3.7zM443.6 48.4h1.8v7.9h-1.8zM476.6 48.1h3.9v2.9h-3.9zM460.3 81.2h1.8v2.7h-1.8zM466.9 77.9h1.5v1.6h-1.5zM489.8 61.2h1.6v6.4h-1.6zM468.8 54.7h2.7v3.7h-2.7zM450.3 54.3h3.7v3.8h-3.7zM492.7 56.9h2.3v2.0h-2.3zM476.1 82.0h3.5v3.2h-3.5zM460.2 77.5h3.0v2.1h-3.0zM462.9 70.6h3.1v3.8h-3.1zM462.8 75.7h5.0v2.2h-5.0zM462.9 66.5h2.6v2.8h-2.6zM465.2 74.2h1.6v5.2h-1.6zM497.1 51.1h3.9v2.1h-3.9zM444.7 55.7h3.6v2.1h-3.6z"/><path fill="#ec6420" d="M491.7 41.1h2.6v3.6h-2.6zM508.0 73.0h3.4v2.9h-3.4zM503.1 74.0h3.3v1.8h-3.3zM444.1 49.8h2.7v2.4h-2.7zM494.0 40.2h2.2v3.5h-2.2zM506.5 56.3h3.8v3.2h-3.8zM444.9 36.0h3.8v1.5h-3.8zM443.6 69.4h2.9v3.3h-2.9zM488.8 77.4h6.1v3.1h-6.1zM449.7 80.9h2.1v1.8h-2.1zM442.6 44.0h3.1v5.0h-3.1zM505.5 59.5h3.0v2.6h-3.0zM454.3 75.0h2.3v3.8h-2.3zM505.9 68.5h2.6v2.2h-2.6zM438.3 81.6h2.2v1.6h-2.2zM438.7 75.6h3.7v1.6h-3.7zM505.1 51.6h3.8v3.1h-3.8zM506.9 41.3h3.0v2.9h-3.0zM511.4 81.8h2.8v1.9h-2.8zM503.7 78.5h3.0v3.9h-3.0zM486.8 43.3h4.1v3.8h-4.1zM484.5 47.6h5.4v3.6h-5.4zM508.1 67.3h2.1v2.3h-2.1zM485.4 76.9h3.9v5.1h-3.9zM449.4 76.0h3.4v2.7h-3.4zM508.4 74.0h1.9v3.7h-1.9zM509.5 72.1h2.6v3.6h-2.6zM446.7 42.8h3.4v2.4h-3.4zM504.4 73.7h2.8v2.4h-2.8zM504.3 49.1h3.8v3.9h-3.8zM438.6 74.1h3.4v3.3h-3.4zM503.9 39.0h1.8v2.7h-1.8zM483.9 37.6h3.4v3.1h-3.4zM500.5 35.6h3.5v2.3h-3.5zM512.2 78.5h2.7v3.6h-2.7zM498.7 76.9h3.6v3.4h-3.6zM483.3 42.0h3.1v2.1h-3.1zM507.2 48.6h1.5v3.1h-1.5zM439.5 80.6h3.4v3.5h-3.4zM508.5 40.2h2.6v3.4h-2.6z"/><path fill="#b8d636" d="M450.1 48.8h2.6v2.6h-2.6z"/><path fill="#f08c28" d="M462.5 55.2h3.5v4.0h-3.5zM478.0 71.3h1.9v2.0h-1.9zM449.9 52.5h2.5v3.3h-2.5zM438.4 42.2h1.9v2.5h-1.9zM436.9 58.8h3.2v3.6h-3.2zM435.6 60.7h7.5v2.9h-7.5zM454.1 76.3h2.4v3.5h-2.4zM499.4 78.0h3.5v2.8h-3.5zM509.0 50.0h3.3v1.8h-3.3zM501.4 82.6h3.6v3.3h-3.6zM475.0 60.2h2.6v2.6h-2.6zM496.7 70.4h3.2v2.6h-3.2zM447.5 65.2h3.4v1.8h-3.4zM452.9 67.6h2.7v2.0h-2.7zM502.9 72.1h3.9v1.9h-3.9zM448.4 41.7h7.7v1.6h-7.7zM444.4 67.9h2.5v2.4h-2.5zM442.5 46.0h3.7v1.8h-3.7zM444.6 75.6h2.0v2.9h-2.0zM502.6 79.2h2.3v2.1h-2.3zM446.3 39.7h1.6v3.9h-1.6zM507.3 36.7h1.9v2.5h-1.9zM506.1 36.9h2.7v3.9h-2.7zM487.4 43.9h4.6v2.6h-4.6zM473.7 81.1h1.8v1.7h-1.8zM472.3 69.4h2.2v1.9h-2.2zM501.0 36.0h2.2v1.9h-2.2zM445.2 67.5h2.9v3.1h-2.9zM501.7 36.2h3.1v3.7h-3.1zM440.1 36.3h3.0v4.9h-3.0zM436.0 42.4h3.6v3.2h-3.6zM486.7 49.4h2.6v2.6h-2.6zM449.2 67.5h3.1v3.4h-3.1zM496.3 54.2h2.4v3.2h-2.4zM447.9 69.4h3.1v3.4h-3.1zM506.9 47.1h3.4v2.4h-3.4zM468.5 61.0h3.9v3.6h-3.9zM441.7 71.6h3.9v3.2h-3.9zM453.7 82.1h2.9v2.9h-2.9zM447.5 58.3h2.0v1.9h-2.0z"/><path fill="#f08c28" d="M492.9 62.6h1.7v1.9h-1.7zM512.0 40.4h2.1v3.4h-2.1zM442.0 68.6h3.4v7.3h-3.4zM455.3 37.4h2.6v3.4h-2.6zM457.6 37.1h1.6v1.6h-1.6zM502.7 80.1h5.2v3.5h-5.2zM487.3 43.8h2.2v2.8h-2.2zM485.2 43.4h2.9v3.1h-2.9zM499.8 37.1h3.6v2.6h-3.6zM478.1 35.8h1.5v2.4h-1.5zM510.5 51.8h2.7v2.2h-2.7zM443.2 59.3h2.3v1.8h-2.3zM477.7 46.9h3.4v3.5h-3.4zM486.4 46.6h3.3v2.5h-3.3zM510.4 69.2h2.4v5.7h-2.4zM452.8 64.7h1.6v3.9h-1.6zM486.3 51.7h2.8v2.0h-2.8zM481.8 46.4h2.2v1.6h-2.2zM510.7 61.4h3.2v3.1h-3.2zM482.9 36.8h3.0v3.8h-3.0zM462.9 70.0h2.2v3.0h-2.2zM450.1 65.9h5.2v1.6h-5.2zM476.3 71.1h2.3v3.6h-2.3zM487.3 70.1h2.8v2.8h-2.8zM437.6 67.8h3.7v3.8h-3.7zM451.8 78.8h2.6v3.6h-2.6zM511.0 51.2h1.7v5.2h-1.7zM508.7 60.4h3.0v3.0h-3.0zM498.5 68.0h1.8v1.8h-1.8zM505.6 62.0h3.6v3.9h-3.6zM481.9 61.9h3.9v3.3h-3.9zM435.8 74.5h6.6v2.0h-6.6zM476.2 66.9h2.4v2.8h-2.4zM447.7 53.9h2.2v4.0h-2.2zM486.9 46.3h1.6v2.1h-1.6zM478.3 44.6h2.8v2.9h-2.8zM457.4 39.0h2.0v3.1h-2.0zM502.5 72.6h3.7v3.8h-3.7zM480.0 45.5h2.8v3.5h-2.8zM511.3 60.3h2.1v2.4h-2.1z"/><path fill="#f08c28" d="M453.3 53.4h3.2v2.7h-3.2zM506.5 41.9h3.7v5.2h-3.7zM480.1 49.0h2.9v1.6h-2.9zM506.7 71.0h2.7v3.5h-2.7zM497.7 62.6h5.6v2.1h-5.6zM481.2 49.6h1.6v2.3h-1.6zM506.3 46.2h3.4v2.6h-3.4zM511.6 80.3h2.1v2.8h-2.1zM505.5 37.3h2.2v3.1h-2.2zM451.8 56.1h3.2v2.7h-3.2zM492.7 82.8h2.5v2.6h-2.5zM464.7 56.4h3.7v2.3h-3.7zM492.8 65.7h3.5v2.9h-3.5zM448.4 72.9h3.3v1.6h-3.3zM463.5 36.0h3.6v3.2h-3.6zM501.6 73.1h3.8v3.3h-3.8zM484.2 81.5h2.1v3.0h-2.1zM498.4 72.2h7.3v1.9h-7.3zM487.4 48.8h7.6v3.2h-7.6zM488.4 79.1h1.9v3.6h-1.9zM465.4 41.2h3.5v2.3h-3.5zM445.2 42.6h1.9v2.9h-1.9zM480.7 68.8h2.2v2.2h-2.2zM489.9 70.5h3.7v3.6h-3.7zM507.7 71.5h7.4v2.7h-7.4zM441.2 38.0h3.4v2.8h-3.4zM434.6 51.4h3.7v1.9h-3.7zM500.2 65.2h1.9v4.1h-1.9zM508.4 65.4h3.9v1.8h-3.9zM489.7 82.3h2.0v3.4h-2.0zM504.4 74.7h3.1v2.3h-3.1zM452.9 42.4h3.5v1.8h-3.5zM476.2 73.8h2.4v3.0h-2.4zM453.2 42.7h2.0v1.8h-2.0zM481.4 79.4h2.8v5.6h-2.8zM455.9 44.3h1.8v2.9h-1.8zM448.3 46.9h2.9v3.1h-2.9zM506.6 69.5h2.9v2.7h-2.9zM510.2 51.0h3.7v3.1h-3.7zM479.6 62.8h3.9v2.9h-3.9z"/><path fill="#b8d636" d="M455.1 68.4h2.1v1.9h-2.1zM461.5 49.9h2.1v1.7h-2.1zM484.5 55.3h3.7v3.6h-3.7zM482.6 53.9h1.7v3.9h-1.7zM443.5 52.6h1.9v2.9h-1.9zM456.0 51.9h4.6v1.7h-4.6zM473.1 55.0h7.6v2.9h-7.6zM451.5 62.2h1.5v1.8h-1.5zM453.9 56.5h1.7v2.5h-1.7zM502.3 53.9h2.9v3.0h-2.9zM445.6 67.6h3.1v2.5h-3.1zM446.7 61.6h2.8v3.9h-2.8zM451.8 47.6h3.5v2.2h-3.5zM487.3 56.8h3.2v3.6h-3.2zM459.4 39.4h4.1v3.0h-4.1zM454.4 63.5h2.8v3.4h-2.8zM503.8 52.5h2.9v3.9h-2.9zM481.4 75.2h2.2v2.1h-2.2zM474.6 59.6h2.0v6.5h-2.0zM462.0 51.1h3.8v3.0h-3.8zM486.5 54.2h3.0v2.6h-3.0zM471.3 55.0h3.3v4.2h-3.3zM498.1 63.5h2.7v3.0h-2.7zM463.1 47.7h1.5v2.6h-1.5zM460.8 38.3h3.3v3.4h-3.3zM469.4 59.5h2.4v4.5h-2.4zM449.3 76.1h2.1v1.6h-2.1zM498.3 47.2h2.9v3.3h-2.9zM461.5 62.2h4.0v2.1h-4.0zM454.4 70.8h4.2v3.0h-4.2zM469.4 75.1h2.5v3.5h-2.5zM472.6 53.5h1.6v1.9h-1.6zM446.9 68.5h1.6v4.0h-1.6zM472.3 51.2h3.4v3.4h-3.4zM461.7 82.6h1.9v1.6h-1.9zM446.0 71.0h2.1v2.2h-2.1zM469.3 64.6h2.4v2.4h-2.4zM464.6 72.1h6.2v3.4h-6.2zM479.0 63.7h5.8v3.3h-5.8zM452.1 66.1h2.2v3.1h-2.2z"/><path fill="#6cc432" d="M435.2 36.3h2.1v3.6h-2.1zM474.3 72.1h2.7v2.9h-2.7zM450.4 80.2h3.4v1.8h-3.4zM464.2 36.4h3.2v5.1h-3.2zM492.9 71.3h2.8v4.0h-2.8zM484.5 37.4h3.9v3.4h-3.9zM448.9 41.7h2.0v1.9h-2.0zM461.2 63.0h3.9v3.5h-3.9zM492.8 39.5h1.9v2.5h-1.9zM458.1 74.7h2.9v2.7h-2.9zM464.2 82.5h3.6v2.0h-3.6zM492.5 41.4h2.8v3.7h-2.8zM489.0 36.8h1.5v3.4h-1.5zM507.0 70.6h2.7v3.5h-2.7zM440.8 68.5h2.0v1.8h-2.0zM500.8 73.5h2.7v2.7h-2.7zM441.4 73.4h7.5v2.6h-7.5zM461.7 39.5h3.0v1.9h-3.0zM490.5 51.1h2.3v2.8h-2.3zM508.3 68.5h3.6v7.8h-3.6zM497.0 38.2h2.4v1.9h-2.4zM452.7 51.1h1.6v5.3h-1.6zM477.6 60.8h6.2v3.1h-6.2zM465.3 61.7h1.7v1.5h-1.7zM442.8 36.0h3.7v6.7h-3.7zM498.0 41.7h4.0v2.4h-4.0zM498.8 40.6h3.7v2.7h-3.7zM464.9 68.4h2.5v2.3h-2.5zM491.8 82.2h2.2v3.1h-2.2zM480.4 52.7h3.8v3.2h-3.8zM441.4 67.8h3.6v2.0h-3.6zM493.0 37.2h2.3v2.6h-2.3zM485.9 42.3h3.8v3.2h-3.8zM438.4 50.2h2.0v3.8h-2.0zM470.3 64.0h1.6v3.7h-1.6zM499.6 71.1h2.0v3.3h-2.0zM507.3 79.1h2.2v3.3h-2.2zM469.7 60.9h1.9v3.0h-1.9zM457.5 67.7h3.1v2.9h-3.1zM485.6 60.0h3.7v7.1h-3.7z"/><path fill="#ec6420" d="M452.0 74.6h1.7v1.8h-1.7zM497.2 41.2h3.5v3.5h-3.5zM507.7 72.5h3.5v3.3h-3.5zM438.2 69.8h7.2v2.9h-7.2zM435.3 68.3h2.0v2.2h-2.0zM499.6 41.3h1.9v3.1h-1.9zM484.3 42.4h1.8v3.8h-1.8zM441.1 74.4h3.5v3.1h-3.5zM503.8 46.9h3.8v2.2h-3.8zM496.2 73.4h3.1v6.5h-3.1zM487.9 38.2h4.5v2.3h-4.5zM492.8 37.5h5.0v3.2h-5.0zM509.0 74.8h2.7v3.8h-2.7z"/><path fill="#eedc2e" d="M451.6 59.6h2.3v1.8h-2.3zM476.2 79.1h2.1v1.6h-2.1zM450.9 61.1h3.9v4.0h-3.9zM439.3 57.8h1.5v2.1h-1.5zM469.1 76.7h7.2v3.5h-7.2zM493.7 74.0h3.1v3.7h-3.1zM471.0 51.7h2.3v2.8h-2.3zM482.8 68.1h6.0v2.8h-6.0zM460.8 55.3h2.3v3.4h-2.3zM466.2 59.7h2.4v3.3h-2.4zM450.1 62.5h4.0v3.4h-4.0zM466.4 52.5h4.0v3.2h-4.0zM469.1 60.8h2.4v3.8h-2.4zM498.2 49.9h3.0v2.0h-3.0zM479.2 56.2h2.5v3.7h-2.5zM510.2 58.2h2.2v3.4h-2.2zM508.3 50.4h1.8v1.9h-1.8zM491.9 43.2h3.7v1.6h-3.7zM462.1 72.9h2.6v2.1h-2.6zM467.0 77.8h3.3v1.8h-3.3zM475.8 78.7h2.6v6.9h-2.6zM457.1 50.3h1.9v1.9h-1.9zM465.8 62.1h3.6v3.2h-3.6zM445.9 56.0h3.9v2.4h-3.9zM469.6 36.3h3.6v3.1h-3.6zM466.6 40.6h1.9v2.4h-1.9zM444.9 68.2h1.9v3.6h-1.9zM481.7 54.3h3.6v2.0h-3.6zM500.2 73.4h1.7v2.4h-1.7zM453.5 53.4h1.6v1.6h-1.6zM505.2 57.5h2.1v1.6h-2.1zM472.6 45.4h2.0v3.3h-2.0zM475.9 78.1h1.7v3.7h-1.7zM459.8 73.1h2.3v2.4h-2.3zM467.6 71.8h7.5v3.8h-7.5zM470.5 61.6h3.2v1.6h-3.2zM485.7 72.0h2.1v2.6h-2.1zM504.9 53.9h2.1v2.0h-2.1zM490.2 64.6h1.9v2.2h-1.9zM467.3 59.8h2.0v2.1h-2.0z"/><path fill="#eedc2e" d="M459.8 74.7h6.3v3.2h-6.3zM486.4 70.2h5.4v3.1h-5.4zM442.6 54.7h3.9v1.8h-3.9zM497.5 50.4h4.1v3.0h-4.1zM458.6 60.8h3.6v3.2h-3.6zM475.5 48.9h3.9v3.7h-3.9zM478.2 43.5h5.2v2.1h-5.2zM464.3 62.6h2.8v5.7h-2.8zM467.3 69.3h1.9v1.8h-1.9zM469.4 80.0h3.1v3.7h-3.1zM449.9 70.7h3.6v3.8h-3.6zM454.2 44.3h1.8v3.5h-1.8zM449.4 59.0h3.3v3.7h-3.3zM453.9 47.3h2.3v3.2h-2.3zM472.4 56.3h2.2v3.0h-2.2zM484.5 73.8h2.0v4.2h-2.0zM462.1 79.5h2.7v3.5h-2.7zM458.4 69.0h2.1v1.6h-2.1zM434.7 52.7h3.2v3.4h-3.2zM481.1 63.7h2.4v1.7h-2.4zM467.6 54.8h3.0v1.7h-3.0zM495.7 48.3h2.7v3.6h-2.7zM483.2 62.4h3.1v2.0h-3.1zM479.6 47.8h1.9v2.3h-1.9zM498.8 54.9h2.8v1.9h-2.8zM472.1 55.5h1.9v1.8h-1.9zM464.2 37.2h3.3v3.9h-3.3zM461.6 45.9h3.4v2.5h-3.4zM485.1 64.2h2.3v7.1h-2.3zM450.0 48.2h3.4v3.7h-3.4zM445.9 55.3h1.6v3.4h-1.6zM459.1 62.2h3.7v1.9h-3.7zM462.5 38.3h3.0v1.7h-3.0zM467.1 48.3h3.0v3.4h-3.0zM476.1 47.6h3.1v3.8h-3.1z"/><path fill="#eedc2e" d="M435.4 48.0h3.5v3.6h-3.5zM454.3 57.5h2.7v2.1h-2.7zM481.3 69.9h3.0v2.4h-3.0zM478.3 61.8h1.7v1.5h-1.7zM435.1 51.0h2.7v3.2h-2.7zM480.4 52.8h2.4v1.6h-2.4zM458.2 53.3h2.6v3.7h-2.6zM467.0 82.1h2.7v3.8h-2.7zM449.5 52.8h3.2v3.6h-3.2zM493.7 51.0h2.6v3.8h-2.6zM442.2 78.6h3.2v3.3h-3.2zM440.0 58.2h4.0v2.6h-4.0zM465.2 45.8h1.6v2.1h-1.6zM456.2 63.4h3.3v1.7h-3.3zM446.4 76.4h4.1v2.3h-4.1zM460.6 55.6h3.6v3.0h-3.6zM495.1 55.8h3.4v3.7h-3.4zM477.2 44.9h3.7v1.6h-3.7zM490.9 57.1h5.2v2.9h-5.2zM469.0 79.7h3.5v3.1h-3.5zM444.0 54.9h1.6v3.6h-1.6zM491.1 59.7h3.3v1.5h-3.3zM457.4 68.7h3.0v2.1h-3.0zM453.8 60.0h1.7v3.3h-1.7zM476.3 73.8h3.0v2.6h-3.0zM440.5 62.5h2.5v4.0h-2.5zM438.5 44.1h3.6v6.2h-3.6zM468.8 47.1h3.1v7.3h-3.1zM448.9 49.0h1.9v3.6h-1.9zM469.0 55.6h3.6v3.9h-3.6zM471.1 51.3h1.9v4.2h-1.9zM435.3 54.5h3.9v3.9h-3.9zM476.8 55.5h2.5v3.5h-2.5zM500.9 70.0h3.6v3.0h-3.6zM467.6 73.1h2.6v3.9h-2.6zM442.0 53.4h3.5v3.7h-3.5zM470.0 52.4h4.0v7.2h-4.0zM445.9 50.7h2.9v3.0h-2.9zM488.5 60.3h2.0v2.7h-2.0zM494.7 66.4h2.8v2.7h-2.8z"/><path fill="#ec6420" d="M488.5 40.8h2.3v3.9h-2.3zM487.8 41.0h1.7v3.4h-1.7zM510.8 42.5h1.5v2.6h-1.5zM437.1 38.6h3.1v1.6h-3.1zM447.6 77.7h7.6v2.3h-7.6zM447.7 41.7h1.6v2.8h-1.6zM487.4 77.9h2.3v2.2h-2.3zM511.4 57.5h2.7v2.7h-2.7zM506.0 42.3h2.7v3.3h-2.7zM437.9 79.1h2.3v2.2h-2.3zM434.6 41.0h4.0v2.2h-4.0zM511.9 70.0h1.5v1.8h-1.5zM501.3 73.6h2.9v2.0h-2.9zM436.0 62.7h7.5v3.2h-7.5zM508.8 69.7h2.3v3.5h-2.3zM508.0 75.6h3.3v2.8h-3.3zM445.2 44.1h3.4v2.9h-3.4zM508.5 46.9h2.4v3.0h-2.4zM452.7 44.3h3.5v1.9h-3.5zM508.0 62.1h6.3v1.6h-6.3zM444.6 78.3h2.5v1.8h-2.5zM440.4 70.0h1.7v3.8h-1.7zM500.6 75.0h2.8v2.2h-2.8zM482.9 36.2h2.1v1.7h-2.1zM508.5 62.9h2.1v2.1h-2.1zM508.1 37.1h2.1v7.8h-2.1zM440.4 46.9h2.0v3.5h-2.0zM438.7 41.9h2.8v3.1h-2.8zM442.7 40.2h3.2v4.0h-3.2zM440.1 43.2h1.8v2.6h-1.8zM505.1 68.5h3.5v1.9h-3.5zM503.3 71.4h4.4v3.3h-4.4zM510.5 65.3h2.7v2.5h-2.7zM512.3 82.4h1.6v2.0h-1.6zM484.7 39.8h2.1v2.8h-2.1zM509.5 81.7h3.6v2.0h-3.6zM443.6 39.3h2.0v2.7h-2.0zM448.4 76.6h2.3v3.5h-2.3zM439.5 70.2h3.6v3.4h-3.6zM441.3 81.3h3.4v2.3h-3.4z"/><path fill="#6cc432" d="M471.5 43.5h2.3v2.6h-2.3zM489.8 63.1h3.1v2.3h-3.1zM494.4 82.1h1.6v1.5h-1.6zM483.0 43.5h1.7v4.7h-1.7z"/><path fill="#eedc2e" d="M442.7 51.9h2.5v2.7h-2.5zM496.0 46.1h3.6v4.0h-3.6zM441.0 67.3h3.2v7.8h-3.2zM482.3 65.8h1.6v3.7h-1.6zM479.7 73.2h1.9v2.2h-1.9zM473.3 56.6h2.5v1.8h-2.5zM459.5 71.7h3.6v6.7h-3.6zM468.5 80.1h1.9v3.4h-1.9zM456.1 64.8h3.4v2.6h-3.4zM479.1 64.3h2.4v3.5h-2.4zM449.1 47.8h3.2v2.8h-3.2zM449.9 44.9h3.3v1.9h-3.3zM489.8 66.6h2.0v2.8h-2.0zM482.5 56.9h4.5v1.8h-4.5zM470.6 45.2h3.4v1.9h-3.4zM473.8 66.0h3.5v1.6h-3.5zM464.8 54.2h2.9v2.0h-2.9zM489.4 61.0h3.1v3.2h-3.1zM473.3 44.1h3.3v3.2h-3.3zM453.5 52.5h3.7v2.3h-3.7zM459.6 48.7h2.3v2.3h-2.3zM479.7 67.1h3.9v2.8h-3.9zM459.4 54.0h3.2v3.9h-3.2zM467.5 59.7h2.0v2.1h-2.0zM486.5 76.0h2.7v3.7h-2.7zM489.5 60.9h2.7v2.8h-2.7zM456.3 55.1h4.7v3.8h-4.7zM479.9 36.7h3.4v2.8h-3.4zM476.0 49.7h1.9v3.8h-1.9zM500.6 50.6h1.9v3.6h-1.9zM474.3 68.7h2.0v3.9h-2.0zM489.5 53.0h1.8v2.7h-1.8zM451.3 74.1h3.3v2.6h-3.3zM505.3 66.8h1.6v2.9h-1.6zM437.7 40.4h3.2v1.8h-3.2zM450.0 62.4h2.7v3.0h-2.7zM467.8 59.0h6.7v1.7h-6.7zM461.1 76.3h3.0v3.3h-3.0zM444.1 49.1h3.5v2.6h-3.5zM478.3 41.1h1.8v1.7h-1.8z"/></g><path fill="#72c832" d="M467.5 58.2h1.2v1.2h-1.2zM498.1 53.5h1.5v1.5h-1.5zM475.4 62.3h1.0v1.0h-1.0zM471.4 50.8h1.5v1.5h-1.5zM494.9 68.7h1.2v1.2h-1.2zM468.8 73.5h1.8v1.8h-1.8zM506.3 67.7h1.5v1.5h-1.5zM460.3 42.0h1.8v1.8h-1.8zM487.1 64.0h1.8v1.8h-1.8zM486.8 40.2h1.5v1.5h-1.5zM472.2 45.5h1.2v1.2h-1.2zM464.5 72.5h1.5v1.5h-1.5zM468.1 47.3h1.5v1.5h-1.5zM488.6 46.0h1.5v1.5h-1.5zM483.4 40.0h1.8v1.8h-1.8zM457.6 61.1h1.8v1.8h-1.8zM457.0 61.0h1.0v1.0h-1.0zM483.4 68.3h1.2v1.2h-1.2zM449.0 75.4h1.2v1.2h-1.2zM486.7 54.7h1.0v1.0h-1.0zM496.5 74.1h1.5v1.5h-1.5zM483.1 55.0h1.2v1.2h-1.2zM501.3 60.9h1.8v1.8h-1.8zM484.7 78.6h1.5v1.5h-1.5zM488.1 81.2h1.0v1.0h-1.0zM465.6 67.1h1.8v1.8h-1.8zM477.0 60.0h1.8v1.8h-1.8zM473.7 74.5h1.0v1.0h-1.0zM502.0 64.8h1.0v1.0h-1.0zM463.4 41.9h1.5v1.5h-1.5zM446.2 42.1h1.2v1.2h-1.2zM464.6 73.2h1.5v1.5h-1.5zM447.3 62.6h1.5v1.5h-1.5zM496.2 59.6h1.0v1.0h-1.0zM494.5 45.5h1.0v1.0h-1.0zM466.7 61.1h1.0v1.0h-1.0zM456.9 69.2h1.8v1.8h-1.8zM476.6 62.1h1.8v1.8h-1.8zM507.7 49.4h1.2v1.2h-1.2zM486.8 41.8h1.0v1.0h-1.0zM478.6 41.9h1.0v1.0h-1.0zM472.2 38.9h1.5v1.5h-1.5zM454.5 71.1h1.0v1.0h-1.0zM469.7 38.4h1.5v1.5h-1.5zM451.7 77.2h1.8v1.8h-1.8zM457.7 57.5h1.0v1.0h-1.0zM471.9 68.1h1.8v1.8h-1.8zM468.0 74.4h1.8v1.8h-1.8zM477.1 67.9h1.8v1.8h-1.8zM484.8 67.4h1.8v1.8h-1.8zM454.0 54.3h1.8v1.8h-1.8zM440.6 49.0h1.8v1.8h-1.8zM460.9 42.9h1.8v1.8h-1.8zM481.1 75.2h1.5v1.5h-1.5zM452.2 82.1h1.5v1.5h-1.5zM460.0 76.9h1.2v1.2h-1.2zM474.0 48.5h1.5v1.5h-1.5zM468.3 48.2h1.0v1.0h-1.0zM484.8 60.8h1.8v1.8h-1.8zM458.3 67.6h1.8v1.8h-1.8zM441.2 55.1h1.5v1.5h-1.5zM498.5 73.6h1.8v1.8h-1.8zM478.5 63.2h1.0v1.0h-1.0zM456.7 38.2h1.5v1.5h-1.5zM443.1 62.6h1.8v1.8h-1.8zM490.5 69.6h1.5v1.5h-1.5zM451.0 66.1h1.5v1.5h-1.5zM476.4 80.2h1.5v1.5h-1.5zM444.2 82.8h1.2v1.2h-1.2zM475.8 49.5h1.8v1.8h-1.8zM500.3 65.3h1.0v1.0h-1.0zM465.2 41.3h1.8v1.8h-1.8zM494.7 67.7h1.5v1.5h-1.5zM490.5 44.9h1.5v1.5h-1.5zM512.0 57.0h1.8v1.8h-1.8zM465.8 69.4h1.5v1.5h-1.5zM455.7 45.6h1.5v1.5h-1.5zM475.3 54.6h1.5v1.5h-1.5zM510.0 68.8h1.2v1.2h-1.2zM480.8 65.0h1.8v1.8h-1.8zM450.0 49.3h1.2v1.2h-1.2zM502.4 71.3h1.8v1.8h-1.8zM500.3 55.1h1.8v1.8h-1.8zM490.0 79.2h1.8v1.8h-1.8zM475.1 79.9h1.0v1.0h-1.0zM455.6 38.7h1.5v1.5h-1.5zM478.8 70.6h1.8v1.8h-1.8zM456.4 68.8h1.2v1.2h-1.2zM487.4 73.0h1.2v1.2h-1.2zM507.8 46.2h1.8v1.8h-1.8zM505.6 66.3h1.0v1.0h-1.0zM461.0 43.6h1.2v1.2h-1.2zM486.7 61.2h1.5v1.5h-1.5zM456.5 57.2h1.8v1.8h-1.8zM498.3 79.1h1.2v1.2h-1.2zM452.3 66.3h1.5v1.5h-1.5zM498.8 64.8h1.0v1.0h-1.0zM447.7 43.4h1.8v1.8h-1.8zM450.5 71.7h1.0v1.0h-1.0zM462.4 62.2h1.0v1.0h-1.0zM469.9 70.3h1.2v1.2h-1.2zM511.9 81.8h1.0v1.0h-1.0zM510.1 59.6h1.5v1.5h-1.5zM480.9 55.5h1.2v1.2h-1.2zM482.5 72.1h1.5v1.5h-1.5zM455.9 47.7h1.8v1.8h-1.8zM475.2 57.8h1.2v1.2h-1.2zM490.6 82.2h1.8v1.8h-1.8zM447.3 43.3h1.0v1.0h-1.0zM470.1 66.2h1.2v1.2h-1.2zM449.9 59.5h1.2v1.2h-1.2zM512.1 50.3h1.0v1.0h-1.0zM461.2 40.8h1.5v1.5h-1.5zM449.0 62.7h1.8v1.8h-1.8zM483.1 73.9h1.2v1.2h-1.2zM439.8 81.3h1.0v1.0h-1.0zM450.2 78.5h1.5v1.5h-1.5zM475.7 38.6h1.0v1.0h-1.0zM474.5 62.4h1.5v1.5h-1.5zM448.5 68.1h1.5v1.5h-1.5zM510.5 73.2h1.2v1.2h-1.2zM460.9 56.9h1.0v1.0h-1.0zM476.3 54.2h1.5v1.5h-1.5zM508.7 40.6h1.8v1.8h-1.8zM486.9 70.7h1.0v1.0h-1.0zM475.5 71.5h1.5v1.5h-1.5zM511.8 76.8h1.8v1.8h-1.8zM472.0 62.3h1.5v1.5h-1.5zM462.9 78.8h1.2v1.2h-1.2zM509.1 45.4h1.8v1.8h-1.8zM483.4 70.6h1.0v1.0h-1.0zM460.0 40.0h1.2v1.2h-1.2zM453.2 75.4h1.8v1.8h-1.8zM444.5 43.0h1.0v1.0h-1.0zM506.2 65.0h1.2v1.2h-1.2zM457.5 71.4h1.0v1.0h-1.0zM483.3 37.7h1.5v1.5h-1.5zM496.0 66.9h1.5v1.5h-1.5zM450.1 44.4h1.8v1.8h-1.8zM489.3 79.9h1.8v1.8h-1.8zM462.0 44.0h1.5v1.5h-1.5zM502.7 80.9h1.8v1.8h-1.8zM477.8 73.9h1.5v1.5h-1.5zM472.5 82.4h1.2v1.2h-1.2zM477.1 57.5h1.5v1.5h-1.5zM469.5 65.4h1.2v1.2h-1.2zM480.5 80.5h1.0v1.0h-1.0zM468.9 50.6h1.2v1.2h-1.2zM499.8 61.8h1.5v1.5h-1.5zM460.5 63.1h1.5v1.5h-1.5zM456.4 82.7h1.5v1.5h-1.5zM468.8 66.4h1.5v1.5h-1.5zM445.6 80.4h1.0v1.0h-1.0zM482.1 54.0h1.2v1.2h-1.2zM476.0 63.7h1.0v1.0h-1.0zM466.3 40.5h1.5v1.5h-1.5zM512.0 49.6h1.5v1.5h-1.5zM440.8 62.7h1.8v1.8h-1.8zM456.3 59.4h1.8v1.8h-1.8z"/></g><path fill="#98cc3c" d="M405.1 27.2h1.3v1.3h-1.3zM409.1 26.6h1.3v1.3h-1.3zM424.5 12.5h1.3v1.3h-1.3zM427.9 12.5h1.3v1.3h-1.3zM430.2 16.7h1.3v1.3h-1.3zM433.6 16.7h1.3v1.3h-1.3zM441.0 8.9h1.3v1.3h-1.3zM444.4 8.9h1.3v1.3h-1.3zM443.2 15.7h1.3v1.3h-1.3zM447.2 15.7h1.3v1.3h-1.3zM450.7 23.8h1.3v1.3h-1.3zM456.9 7.1h1.3v1.3h-1.3zM458.6 7.1h1.3v1.3h-1.3zM430.2 26.0h1.3v1.3h-1.3zM429.6 36.2h1.3v1.3h-1.3zM433.6 35.6h1.3v1.3h-1.3zM446.7 34.6h1.3v1.3h-1.3zM451.2 35.1h1.3v1.3h-1.3zM456.9 32.2h1.3v1.3h-1.3zM458.6 32.9h1.3v1.3h-1.3zM458.5 6.8h1.3v1.3h-1.3zM461.4 6.8h1.3v1.3h-1.3zM465.9 6.4h1.3v1.3h-1.3zM468.2 6.6h1.3v1.3h-1.3zM470.5 6.6h1.3v1.3h-1.3zM476.8 6.4h1.3v1.3h-1.3zM479.0 6.6h1.3v1.3h-1.3zM481.2 6.6h1.3v1.3h-1.3zM483.0 6.8h1.3v1.3h-1.3zM496.1 8.3h1.3v1.3h-1.3zM498.4 8.3h1.3v1.3h-1.3zM500.5 8.3h1.3v1.3h-1.3zM464.8 12.5h1.3v1.3h-1.3zM468.2 12.5h1.3v1.3h-1.3zM472.2 12.0h1.3v1.3h-1.3zM475.1 12.0h1.3v1.3h-1.3zM484.7 16.9h1.3v1.3h-1.3zM487.2 16.9h1.3v1.3h-1.3zM491.2 15.7h1.3v1.3h-1.3zM493.8 15.7h1.3v1.3h-1.3zM500.5 15.7h1.3v1.3h-1.3zM503.5 15.7h1.3v1.3h-1.3zM512.1 12.0h1.3v1.3h-1.3zM514.2 12.0h1.3v1.3h-1.3zM516.6 12.0h1.3v1.3h-1.3zM495.6 25.8h1.3v1.3h-1.3zM482.5 31.5h1.3v1.3h-1.3zM459.1 32.2h1.3v1.3h-1.3zM462.5 32.0h1.3v1.3h-1.3zM460.8 35.6h1.3v1.3h-1.3zM512.6 11.9h1.3v1.3h-1.3zM516.5 11.9h1.3v1.3h-1.3zM533.6 26.2h1.3v1.3h-1.3zM535.5 26.2h1.3v1.3h-1.3zM512.6 39.5h1.3v1.3h-1.3zM514.6 39.5h1.3v1.3h-1.3zM536.4 50.9h1.3v1.3h-1.3zM538.2 50.2h1.3v1.3h-1.3zM540.1 49.9h1.3v1.3h-1.3zM515.5 54.1h1.3v1.3h-1.3zM532.6 55.2h1.3v1.3h-1.3zM430.1 36.2h1.3v1.3h-1.3zM432.9 38.1h1.3v1.3h-1.3zM419.9 43.1h1.3v1.3h-1.3zM424.5 42.5h1.3v1.3h-1.3zM426.4 45.1h1.3v1.3h-1.3zM406.8 48.8h1.3v1.3h-1.3zM410.6 48.4h1.3v1.3h-1.3zM401.2 51.8h1.3v1.3h-1.3zM405.0 51.1h1.3v1.3h-1.3zM410.6 54.0h1.3v1.3h-1.3zM424.5 54.0h1.3v1.3h-1.3zM433.9 49.4h1.3v1.3h-1.3zM404.1 61.5h1.3v1.3h-1.3zM407.8 61.1h1.3v1.3h-1.3zM427.2 66.0h1.3v1.3h-1.3zM432.0 69.8h1.3v1.3h-1.3zM401.2 72.5h1.3v1.3h-1.3zM405.0 72.2h1.3v1.3h-1.3zM427.2 75.3h1.3v1.3h-1.3zM429.2 74.8h1.3v1.3h-1.3zM433.9 73.5h1.3v1.3h-1.3zM432.9 78.1h1.3v1.3h-1.3zM411.5 79.6h1.3v1.3h-1.3zM418.0 81.5h1.3v1.3h-1.3zM421.7 80.4h1.3v1.3h-1.3zM427.2 85.2h1.3v1.3h-1.3zM406.8 87.1h1.3v1.3h-1.3zM411.0 80.0h1.3v1.3h-1.3zM418.2 81.5h1.3v1.3h-1.3zM421.9 80.8h1.3v1.3h-1.3zM403.0 88.3h1.3v1.3h-1.3zM407.4 87.3h1.3v1.3h-1.3zM427.7 85.4h1.3v1.3h-1.3zM442.9 85.4h1.3v1.3h-1.3zM449.4 87.3h1.3v1.3h-1.3zM450.1 98.9h1.3v1.3h-1.3zM432.7 101.8h1.3v1.3h-1.3zM442.9 103.9h1.3v1.3h-1.3zM445.8 102.8h1.3v1.3h-1.3zM416.1 109.4h1.3v1.3h-1.3zM419.7 108.3h1.3v1.3h-1.3zM441.4 114.8h1.3v1.3h-1.3zM445.1 114.1h1.3v1.3h-1.3zM458.1 112.6h1.3v1.3h-1.3zM460.7 87.2h1.3v1.3h-1.3zM472.1 94.8h1.3v1.3h-1.3zM474.6 93.8h1.3v1.3h-1.3zM476.7 93.2h1.3v1.3h-1.3zM469.7 101.9h1.3v1.3h-1.3zM472.1 100.9h1.3v1.3h-1.3zM478.7 99.3h1.3v1.3h-1.3zM481.6 99.8h1.3v1.3h-1.3zM484.4 98.9h1.3v1.3h-1.3zM489.2 100.2h1.3v1.3h-1.3zM472.9 107.9h1.3v1.3h-1.3zM475.4 107.1h1.3v1.3h-1.3zM459.0 112.9h1.3v1.3h-1.3zM462.2 111.2h1.3v1.3h-1.3zM465.6 113.8h1.3v1.3h-1.3zM468.5 112.9h1.3v1.3h-1.3zM475.1 113.8h1.3v1.3h-1.3zM478.2 112.9h1.3v1.3h-1.3zM489.2 113.8h1.3v1.3h-1.3zM491.8 112.9h1.3v1.3h-1.3zM495.4 85.0h1.3v1.3h-1.3zM497.5 86.8h1.3v1.3h-1.3zM500.2 85.0h1.3v1.3h-1.3zM495.0 86.8h1.3v1.3h-1.3zM498.2 104.8h1.3v1.3h-1.3zM500.8 103.5h1.3v1.3h-1.3zM516.0 110.4h1.3v1.3h-1.3zM513.0 82.6h1.3v1.3h-1.3zM520.4 82.6h1.3v1.3h-1.3zM522.9 81.8h1.3v1.3h-1.3zM530.1 92.4h1.3v1.3h-1.3zM532.6 91.6h1.3v1.3h-1.3zM534.2 80.1h1.3v1.3h-1.3zM536.8 79.6h1.3v1.3h-1.3zM514.8 70.6h1.3v1.3h-1.3zM533.5 55.1h1.3v1.3h-1.3zM534.1 63.4h1.3v1.3h-1.3zM536.6 62.5h1.3v1.3h-1.3zM538.1 61.9h1.3v1.3h-1.3zM534.1 79.5h1.3v1.3h-1.3zM536.6 78.8h1.3v1.3h-1.3zM520.2 82.6h1.3v1.3h-1.3zM523.1 81.9h1.3v1.3h-1.3zM531.1 92.3h1.3v1.3h-1.3zM532.6 91.6h1.3v1.3h-1.3z"/><rect x="5" y="154" width="175.0" height="113.4" fill="#0c0c0e"/><rect x="5.5" y="154.5" width="174.0" height="112.4" fill="none" stroke="#000" stroke-width="1"/><rect x="50.2" y="165.2" width="114.5" height="97.2" fill="#09090b"/><path d="M50.5 165.0V263.0M56.5 165.0V263.0M62.5 165.0V263.0M68.5 165.0V263.0M74.5 165.0V263.0M80.5 165.0V263.0M86.5 165.0V263.0M92.5 165.0V263.0M98.5 165.0V263.0M104.5 165.0V263.0M110.5 165.0V263.0M116.5 165.0V263.0M122.5 165.0V263.0M128.5 165.0V263.0M134.5 165.0V263.0M140.5 165.0V263.0M146.5 165.0V263.0M152.5 165.0V263.0M158.5 165.0V263.0M164.5 165.0V263.0M50.0 165.5H165.0M50.0 171.5H165.0M50.0 177.5H165.0M50.0 183.5H165.0M50.0 189.5H165.0M50.0 195.5H165.0M50.0 201.5H165.0M50.0 207.5H165.0M50.0 213.5H165.0M50.0 219.5H165.0M50.0 225.5H165.0M50.0 232.5H165.0M50.0 238.5H165.0M50.0 244.5H165.0M50.0 250.5H165.0M50.0 256.5H165.0M50.0 262.5H165.0" stroke="#3a3a3c" stroke-width="1" fill="none" shape-rendering="crispEdges"/><rect x="16.7" y="197.7" width="10.3" height="60.0" fill="url(#cbg)"/><text x="21.9" y="193.4" font-family="Liberation Sans" font-size="5.8" fill="#eee" text-anchor="middle">&gt;0.02</text><text x="21.9" y="264.3" font-family="Liberation Sans" font-size="5.9" fill="#eee" text-anchor="middle">0.004</text><text transform="translate(10.6,227.7) rotate(-90)" font-family="Liberation Sans" font-size="5.8" fill="#d8d8d8" text-anchor="middle">Resolution (m/px)</text><rect x="75.8" y="199.0" width="53.2" height="33.2" fill="#f0b436"/><clipPath id="c3"><rect x="75.8" y="199.0" width="53.2" height="33.2"/></clipPath><g clip-path="url(#c3)"><g filter="url(#blur2)"><rect x="75.5" y="198.7" width="7.2" height="7.2" fill="#f0bc2e"/><rect x="82.2" y="198.7" width="7.2" height="7.2" fill="#eedc2e"/><rect x="88.8" y="198.7" width="7.2" height="7.2" fill="#eedc2e"/><rect x="95.5" y="198.7" width="7.2" height="7.2" fill="#eedc2e"/><rect x="102.1" y="198.7" width="7.2" height="7.2" fill="#eedc2e"/><rect x="108.8" y="198.7" width="7.2" height="7.2" fill="#f0bc2e"/><rect x="115.4" y="198.7" width="7.2" height="7.2" fill="#f0bc2e"/><rect x="122.0" y="198.7" width="7.2" height="7.2" fill="#ec6420"/><rect x="75.5" y="205.3" width="7.2" height="7.2" fill="#eedc2e"/><rect x="82.2" y="205.3" width="7.2" height="7.2" fill="#eedc2e"/><rect x="88.8" y="205.3" width="7.2" height="7.2" fill="#eedc2e"/><rect x="95.5" y="205.3" width="7.2" height="7.2" fill="#eedc2e"/><rect x="102.1" y="205.3" width="7.2" height="7.2" fill="#f0bc2e"/><rect x="108.8" y="205.3" width="7.2" height="7.2" fill="#eedc2e"/><rect x="115.4" y="205.3" width="7.2" height="7.2" fill="#eedc2e"/><rect x="122.0" y="205.3" width="7.2" height="7.2" fill="#f0bc2e"/><rect x="75.5" y="212.0" width="7.2" height="7.2" fill="#eedc2e"/><rect x="82.2" y="212.0" width="7.2" height="7.2" fill="#f0bc2e"/><rect x="88.8" y="212.0" width="7.2" height="7.2" fill="#eedc2e"/><rect x="95.5" y="212.0" width="7.2" height="7.2" fill="#f08c28"/><rect x="102.1" y="212.0" width="7.2" height="7.2" fill="#eedc2e"/><rect x="108.8" y="212.0" width="7.2" height="7.2" fill="#eedc2e"/><rect x="115.4" y="212.0" width="7.2" height="7.2" fill="#eedc2e"/><rect x="122.0" y="212.0" width="7.2" height="7.2" fill="#eedc2e"/><rect x="75.5" y="218.6" width="7.2" height="7.2" fill="#eedc2e"/><rect x="82.2" y="218.6" width="7.2" height="7.2" fill="#e6341c"/><rect x="88.8" y="218.6" width="7.2" height="7.2" fill="#eedc2e"/><rect x="95.5" y="218.6" width="7.2" height="7.2" fill="#f08c28"/><rect x="102.1" y="218.6" width="7.2" height="7.2" fill="#eedc2e"/><rect x="108.8" y="218.6" width="7.2" height="7.2" fill="#eedc2e"/><rect x="115.4" y="218.6" width="7.2" height="7.2" fill="#f0bc2e"/><rect x="122.0" y="218.6" width="7.2" height="7.2" fill="#eedc2e"/><rect x="75.5" y="225.3" width="7.2" height="7.2" fill="#f08c28"/><rect x="82.2" y="225.3" width="7.2" height="7.2" fill="#e6341c"/><rect x="88.8" y="225.3" width="7.2" height="7.2" fill="#f08c28"/><rect x="95.5" y="225.3" width="7.2" height="7.2" fill="#e6341c"/><rect x="102.1" y="225.3" width="7.2" height="7.2" fill="#e6341c"/><rect x="108.8" y="225.3" width="7.2" height="7.2" fill="#f0bc2e"/><rect x="115.4" y="225.3" width="7.2" height="7.2" fill="#eedc2e"/><rect x="122.0" y="225.3" width="7.2" height="7.2" fill="#f0bc2e"/></g><g filter="url(#blur05)"><path fill="#f08c28" d="M107.6 228.8h1.0v1.3h-1.0zM75.0 224.3h1.8v2.6h-1.8zM128.4 227.7h2.9v2.8h-2.9z"/><path fill="#eedc2e" d="M79.9 221.5h1.5v2.5h-1.5zM88.0 225.6h2.3v1.3h-2.3zM107.2 227.4h2.3v2.7h-2.3zM111.5 216.2h2.2v1.2h-2.2zM99.2 205.9h3.0v2.2h-3.0zM88.1 205.9h2.5v1.7h-2.5zM81.7 222.4h2.3v2.3h-2.3zM125.5 220.1h1.5v1.9h-1.5zM106.3 197.4h2.1v1.6h-2.1zM100.3 210.9h1.5v1.5h-1.5zM82.4 213.4h1.7v5.8h-1.7zM74.7 215.0h2.8v1.6h-2.8zM80.5 226.6h1.2v2.5h-1.2zM77.9 223.6h2.8v1.2h-2.8zM86.3 197.3h2.8v2.1h-2.8zM74.7 208.6h1.9v2.9h-1.9zM95.0 211.0h2.0v2.1h-2.0zM121.8 213.4h1.0v2.5h-1.0zM74.4 204.5h2.1v2.6h-2.1zM91.9 202.9h2.8v2.9h-2.8zM102.0 197.5h6.0v1.1h-6.0zM77.2 223.7h3.5v1.8h-3.5zM79.0 219.7h1.2v2.0h-1.2zM82.9 203.9h2.4v2.1h-2.4zM84.9 210.9h3.1v2.9h-3.1zM80.8 200.7h2.4v2.2h-2.4zM79.2 200.6h3.9v1.7h-3.9zM116.9 224.7h3.8v1.1h-3.8zM129.1 213.1h1.2v2.6h-1.2zM113.5 217.8h1.1v2.6h-1.1zM88.7 213.0h2.8v3.0h-2.8zM84.8 208.6h2.3v1.4h-2.3zM74.3 226.8h2.0v3.0h-2.0zM73.9 211.0h2.3v1.9h-2.3zM106.6 214.5h1.0v5.0h-1.0zM123.6 224.7h1.3v2.4h-1.3zM111.8 206.9h1.1v2.9h-1.1zM90.5 196.6h2.5v5.9h-2.5zM119.5 220.6h2.6v1.5h-2.6zM126.8 228.5h1.5v1.4h-1.5z"/><path fill="#f0bc2e" d="M125.8 209.9h1.4v1.5h-1.4zM126.3 228.0h5.2v1.6h-5.2zM126.7 205.2h2.7v1.8h-2.7zM125.3 227.0h1.1v1.6h-1.1zM124.9 206.7h1.5v2.2h-1.5zM91.5 231.2h2.1v2.0h-2.1zM86.0 217.1h2.5v3.0h-2.5zM127.6 226.8h3.4v1.8h-3.4zM92.0 227.1h3.0v1.6h-3.0zM82.7 211.7h2.6v5.2h-2.6zM109.8 226.9h3.6v2.0h-3.6zM110.9 228.1h2.5v1.1h-2.5zM121.5 228.0h2.5v2.6h-2.5zM119.6 198.6h2.7v1.6h-2.7zM120.8 208.1h2.1v2.4h-2.1zM83.6 215.8h1.6v1.2h-1.6zM101.4 206.4h2.6v2.2h-2.6z"/><path fill="#eedc2e" d="M88.3 210.7h2.6v2.6h-2.6zM88.7 202.7h1.9v1.4h-1.9zM79.6 222.5h1.7v2.9h-1.7zM93.7 212.3h1.1v2.3h-1.1zM107.8 227.9h2.4v2.4h-2.4zM89.6 224.1h1.1v2.0h-1.1zM92.4 226.5h1.2v1.1h-1.2zM90.9 203.6h2.1v5.0h-2.1zM110.2 231.7h4.3v2.5h-4.3zM113.4 210.8h3.0v1.7h-3.0zM77.2 211.1h1.4v1.7h-1.4zM101.1 213.0h1.7v1.3h-1.7zM118.4 200.0h1.7v2.4h-1.7zM89.3 219.9h1.1v1.1h-1.1zM82.2 208.8h1.9v2.4h-1.9zM98.2 199.1h2.0v2.4h-2.0zM88.0 210.0h1.0v1.8h-1.0zM108.9 219.1h1.2v4.4h-1.2zM118.8 223.7h1.2v2.9h-1.2zM101.4 212.8h1.4v2.0h-1.4zM80.2 224.8h1.2v1.1h-1.2zM96.5 205.8h2.0v1.9h-2.0zM79.4 222.2h2.2v2.4h-2.2zM94.6 198.2h2.3v2.1h-2.3zM121.1 214.7h2.8v1.7h-2.8zM80.8 217.4h1.1v1.9h-1.1zM73.6 204.7h2.9v2.2h-2.9zM109.2 224.6h1.9v1.5h-1.9zM112.8 220.4h2.1v1.4h-2.1zM88.4 214.8h2.4v2.7h-2.4zM98.9 217.4h1.3v1.3h-1.3zM125.0 211.0h2.9v2.0h-2.9zM76.7 200.8h1.3v2.2h-1.3zM88.9 216.1h2.7v2.2h-2.7zM113.2 198.5h2.3v3.0h-2.3zM106.7 203.6h2.7v2.7h-2.7zM112.4 229.4h2.3v2.4h-2.3zM84.1 216.7h1.7v2.9h-1.7zM118.8 225.1h1.1v1.3h-1.1zM117.1 197.7h1.1v3.8h-1.1z"/><path fill="#b8d636" d="M102.2 217.9h1.1v1.5h-1.1zM111.6 201.4h2.3v1.5h-2.3zM100.6 221.7h2.9v3.1h-2.9zM95.6 214.6h2.9v4.0h-2.9zM121.1 231.0h2.0v2.1h-2.0zM95.6 218.8h2.6v2.3h-2.6zM74.9 225.9h2.0v1.7h-2.0zM97.7 202.3h1.4v2.4h-1.4zM105.9 221.0h2.4v2.5h-2.4z"/><path fill="#f0e83e" d="M116.4 212.2h2.4v1.4h-2.4zM88.8 213.1h2.2v1.9h-2.2zM124.7 215.2h2.5v1.0h-2.5zM117.7 231.4h2.1v1.4h-2.1zM89.2 209.9h1.5v1.7h-1.5zM91.2 211.3h1.4v1.8h-1.4zM127.5 212.6h1.6v3.3h-1.6zM117.7 224.5h2.2v2.6h-2.2zM82.6 209.0h4.6v2.7h-4.6zM117.7 215.4h2.4v1.9h-2.4zM114.9 230.3h1.7v1.3h-1.7z"/><path fill="#f08c28" d="M86.6 226.3h2.4v4.3h-2.4zM104.2 223.8h1.5v2.9h-1.5zM92.9 206.5h1.3v1.5h-1.3zM103.9 210.8h1.9v1.3h-1.9zM121.9 198.8h1.2v2.7h-1.2zM123.1 227.0h2.9v2.1h-2.9zM126.2 202.6h1.6v1.5h-1.6zM83.5 231.1h1.4v1.4h-1.4zM75.6 231.2h1.6v2.1h-1.6zM100.6 222.1h2.9v2.9h-2.9zM108.5 197.3h1.1v2.5h-1.1zM115.8 208.4h2.9v1.8h-2.9zM111.4 223.7h1.5v3.9h-1.5zM127.8 200.1h1.1v1.0h-1.1zM118.5 200.2h2.6v1.0h-2.6zM102.0 223.8h1.2v2.9h-1.2zM100.6 221.0h2.0v2.1h-2.0zM86.3 215.5h2.8v1.3h-2.8zM112.3 228.9h2.7v2.4h-2.7zM111.1 223.3h2.0v1.6h-2.0zM98.9 215.9h2.1v1.9h-2.1zM98.6 213.1h2.8v2.2h-2.8zM127.6 221.9h2.3v2.7h-2.3zM93.7 229.6h1.1v1.2h-1.1zM89.4 216.9h1.3v3.0h-1.3zM74.0 227.0h2.9v2.1h-2.9zM89.5 222.7h2.7v2.9h-2.7zM94.9 216.6h2.9v2.0h-2.9zM78.1 227.9h1.2v2.2h-1.2zM84.6 217.9h2.7v1.3h-2.7zM88.6 228.2h1.0v2.0h-1.0zM91.8 230.3h1.1v3.5h-1.1zM120.6 230.4h2.9v1.8h-2.9zM82.7 212.6h1.4v2.8h-1.4zM120.0 202.9h2.8v2.5h-2.8zM117.8 208.3h3.6v2.9h-3.6zM96.5 197.5h2.9v1.9h-2.9zM99.2 219.9h2.8v1.4h-2.8zM93.4 216.4h3.8v1.8h-3.8zM79.9 203.1h2.1v2.8h-2.1z"/><path fill="#6cc432" d="M106.8 230.3h1.7v1.8h-1.7zM87.8 220.5h1.5v3.0h-1.5zM105.7 224.6h1.8v2.8h-1.8zM87.2 200.0h2.4v2.4h-2.4zM116.6 223.8h1.5v2.2h-1.5zM83.6 230.5h2.1v2.9h-2.1zM120.8 198.6h1.1v1.4h-1.1zM103.2 206.4h2.6v1.2h-2.6zM100.3 214.6h4.7v1.6h-4.7zM121.7 225.4h2.1v1.9h-2.1zM87.5 221.2h2.8v2.6h-2.8zM106.3 220.7h1.0v2.9h-1.0zM111.6 229.7h1.8v1.6h-1.8zM98.9 227.8h2.6v2.7h-2.6zM106.2 228.9h2.1v2.8h-2.1zM97.3 231.0h1.6v1.8h-1.6zM102.8 212.0h2.4v1.2h-2.4zM101.6 228.1h2.8v1.9h-2.8zM100.5 229.0h2.1v1.5h-2.1z"/><path fill="#b8d636" d="M90.8 220.7h1.4v2.8h-1.4zM78.7 207.3h2.1v1.2h-2.1zM117.4 221.5h3.8v2.8h-3.8zM112.1 210.5h1.7v2.0h-1.7zM100.0 218.4h2.1v1.7h-2.1zM103.2 223.3h2.7v2.3h-2.7zM126.1 212.7h1.9v2.4h-1.9zM128.1 230.3h1.6v1.2h-1.6zM120.1 198.0h1.1v1.2h-1.1zM80.7 225.1h1.6v2.7h-1.6zM125.1 228.3h1.8v1.7h-1.8zM75.7 216.7h1.5v2.6h-1.5zM113.3 212.0h1.9v5.2h-1.9zM111.8 204.4h2.1v2.4h-2.1zM74.8 225.5h2.0v2.9h-2.0zM77.9 211.9h2.4v1.6h-2.4zM115.0 210.7h1.6v4.9h-1.6zM76.9 231.3h3.0v1.5h-3.0zM86.9 202.1h1.4v1.4h-1.4zM102.7 217.0h1.3v2.1h-1.3zM99.2 204.5h2.9v2.0h-2.9zM104.6 200.7h2.7v2.2h-2.7zM127.9 206.2h2.0v2.1h-2.0zM91.6 212.4h2.2v2.9h-2.2zM121.9 223.2h1.6v2.1h-1.6zM84.7 213.9h1.5v2.7h-1.5zM75.8 204.2h2.1v2.0h-2.1zM78.8 208.0h2.5v1.3h-2.5zM82.7 197.4h5.1v2.7h-5.1zM112.6 199.9h2.6v1.5h-2.6zM74.4 225.7h2.5v1.5h-2.5zM100.0 205.6h2.8v1.6h-2.8zM100.2 213.2h3.6v1.7h-3.6zM100.5 208.0h1.4v2.9h-1.4zM85.5 214.4h1.3v4.9h-1.3zM100.5 220.7h1.3v2.9h-1.3zM79.8 201.4h2.3v2.9h-2.3zM112.8 202.5h2.3v1.6h-2.3zM79.2 227.7h1.6v2.1h-1.6zM126.7 218.9h1.1v1.6h-1.1z"/><path fill="#eedc2e" d="M116.9 206.7h1.4v1.2h-1.4zM125.2 207.9h5.0v2.9h-5.0zM78.5 210.4h1.4v1.2h-1.4zM118.3 224.7h1.4v2.1h-1.4zM78.1 202.9h2.5v1.3h-2.5zM106.0 228.8h2.7v1.9h-2.7zM78.7 222.6h2.4v4.0h-2.4zM75.2 215.8h1.8v2.9h-1.8zM103.4 221.1h2.4v1.3h-2.4zM116.2 214.0h1.6v2.5h-1.6zM92.0 222.8h1.9v2.8h-1.9zM104.1 214.2h2.2v1.1h-2.2zM97.1 206.3h2.9v2.0h-2.9zM111.1 221.4h2.8v2.3h-2.8zM115.1 208.7h3.2v2.1h-3.2zM98.4 198.0h2.1v1.0h-2.1zM112.3 218.4h2.0v2.4h-2.0zM90.1 202.4h2.5v2.5h-2.5zM100.6 205.0h5.3v2.4h-5.3zM109.9 221.6h1.1v1.0h-1.1zM102.6 203.1h3.0v2.1h-3.0zM88.8 224.3h2.5v1.3h-2.5zM80.6 215.1h1.3v1.2h-1.3zM89.5 210.5h1.6v1.1h-1.6zM100.9 199.0h2.3v1.9h-2.3zM107.9 224.0h2.8v5.1h-2.8zM84.0 204.0h1.3v1.6h-1.3z"/><path fill="#ec6420" d="M96.4 226.0h2.4v1.8h-2.4zM121.0 201.1h1.5v2.4h-1.5zM101.1 229.4h1.5v1.7h-1.5zM84.4 221.9h2.0v1.4h-2.0zM126.4 204.3h2.7v2.1h-2.7zM128.2 202.4h2.6v2.5h-2.6zM123.4 202.2h3.8v1.1h-3.8zM121.6 203.5h1.8v1.3h-1.8zM102.8 224.7h1.0v4.7h-1.0zM123.4 197.7h1.5v1.1h-1.5zM125.3 204.7h2.2v2.6h-2.2z"/><path fill="#e6341c" d="M80.7 208.4h1.8v3.0h-1.8zM102.2 204.2h2.0v1.2h-2.0zM126.1 211.3h1.5v3.2h-1.5zM91.2 202.8h1.5v2.8h-1.5zM129.3 212.5h1.3v1.4h-1.3zM99.9 210.2h1.7v2.8h-1.7zM94.1 205.2h2.9v2.8h-2.9zM114.4 214.0h2.4v1.9h-2.4zM76.4 208.9h1.2v1.2h-1.2zM108.4 217.5h2.1v2.9h-2.1zM115.7 206.8h1.3v2.1h-1.3zM111.5 206.5h2.5v1.0h-2.5zM126.4 204.1h1.2v2.6h-1.2zM124.1 223.1h2.3v2.9h-2.3zM118.7 222.9h3.0v1.2h-3.0zM80.7 207.6h2.5v2.3h-2.5zM75.6 222.3h1.4v2.6h-1.4zM106.1 221.3h2.3v1.2h-2.3zM121.9 220.9h1.2v1.3h-1.2zM109.0 217.6h2.1v2.3h-2.1zM128.8 197.2h2.2v2.4h-2.2zM108.1 231.8h1.2v1.5h-1.2zM120.9 219.5h2.7v1.9h-2.7zM75.8 206.9h1.0v2.3h-1.0zM99.8 201.6h1.6v2.3h-1.6zM85.7 199.9h2.6v1.7h-2.6zM90.1 202.4h1.1v2.4h-1.1zM121.0 228.5h2.5v2.9h-2.5zM82.4 203.3h2.7v1.5h-2.7zM98.2 229.2h1.3v2.8h-1.3zM101.3 231.0h2.9v1.7h-2.9zM120.8 222.0h2.2v2.2h-2.2zM116.8 220.7h2.9v2.0h-2.9zM94.7 217.0h1.7v1.8h-1.7zM110.9 197.4h1.7v2.0h-1.7zM76.6 220.4h1.6v1.1h-1.6zM124.1 213.7h2.0v1.6h-2.0z"/></g><path fill="#72c832" d="M79.7 211.1h1.2v1.2h-1.2zM106.7 213.8h1.5v1.5h-1.5zM92.7 200.1h1.0v1.0h-1.0zM92.5 212.0h1.2v1.2h-1.2zM100.3 213.3h1.2v1.2h-1.2zM123.2 212.5h1.0v1.0h-1.0zM126.2 231.5h1.0v1.0h-1.0zM105.4 214.7h1.0v1.0h-1.0zM127.6 206.8h1.8v1.8h-1.8zM96.7 219.9h1.0v1.0h-1.0zM106.3 209.5h1.8v1.8h-1.8zM102.6 219.0h1.8v1.8h-1.8zM125.1 226.9h1.8v1.8h-1.8zM97.9 219.6h1.8v1.8h-1.8zM110.0 231.3h1.5v1.5h-1.5zM84.6 221.5h1.0v1.0h-1.0zM78.1 213.9h1.2v1.2h-1.2zM91.0 207.5h1.8v1.8h-1.8zM120.2 200.0h1.0v1.0h-1.0zM80.7 229.9h1.0v1.0h-1.0zM81.1 218.4h1.0v1.0h-1.0zM110.8 207.3h1.0v1.0h-1.0zM125.2 215.3h1.5v1.5h-1.5zM92.1 199.6h1.2v1.2h-1.2zM79.7 228.4h1.2v1.2h-1.2zM95.3 212.2h1.5v1.5h-1.5zM104.9 200.8h1.0v1.0h-1.0zM79.5 207.1h1.2v1.2h-1.2zM77.5 221.5h1.0v1.0h-1.0zM119.7 219.6h1.0v1.0h-1.0zM97.6 202.3h1.2v1.2h-1.2zM128.3 204.3h1.8v1.8h-1.8zM78.0 229.9h1.8v1.8h-1.8zM102.0 229.3h1.5v1.5h-1.5zM89.7 225.4h1.8v1.8h-1.8zM83.0 224.7h1.5v1.5h-1.5zM77.3 213.7h1.5v1.5h-1.5zM78.9 214.0h1.5v1.5h-1.5zM94.5 228.2h1.2v1.2h-1.2zM98.3 225.0h1.5v1.5h-1.5zM100.7 213.2h1.8v1.8h-1.8zM83.0 201.9h1.8v1.8h-1.8zM119.0 211.8h1.0v1.0h-1.0zM110.9 200.1h1.8v1.8h-1.8zM88.1 221.3h1.8v1.8h-1.8zM88.0 206.0h1.5v1.5h-1.5zM114.6 223.9h1.5v1.5h-1.5zM78.7 218.4h1.2v1.2h-1.2zM125.6 202.9h1.2v1.2h-1.2zM126.4 207.8h1.8v1.8h-1.8zM124.2 230.6h1.5v1.5h-1.5zM85.4 203.9h1.8v1.8h-1.8zM80.2 230.6h1.0v1.0h-1.0zM124.6 213.6h1.5v1.5h-1.5zM105.1 205.3h1.5v1.5h-1.5zM114.9 208.6h1.0v1.0h-1.0zM78.3 226.6h1.2v1.2h-1.2zM82.3 228.8h1.8v1.8h-1.8zM98.0 213.4h1.2v1.2h-1.2zM81.9 212.0h1.2v1.2h-1.2zM86.1 230.7h1.5v1.5h-1.5zM123.7 224.2h1.2v1.2h-1.2zM111.2 200.5h1.0v1.0h-1.0zM94.5 215.2h1.8v1.8h-1.8zM119.7 214.0h1.8v1.8h-1.8zM77.7 215.6h1.5v1.5h-1.5zM124.4 215.1h1.0v1.0h-1.0zM79.7 204.0h1.5v1.5h-1.5zM126.9 221.1h1.2v1.2h-1.2zM75.8 215.2h1.2v1.2h-1.2zM127.7 211.4h1.8v1.8h-1.8zM114.7 204.3h1.8v1.8h-1.8zM88.9 207.4h1.0v1.0h-1.0zM123.4 209.6h1.0v1.0h-1.0zM98.1 224.1h1.8v1.8h-1.8zM88.7 207.0h1.5v1.5h-1.5zM125.4 222.9h1.2v1.2h-1.2zM83.8 204.9h1.2v1.2h-1.2zM111.3 204.0h1.8v1.8h-1.8zM106.9 232.1h1.0v1.0h-1.0zM110.9 203.7h1.5v1.5h-1.5zM101.8 204.4h1.2v1.2h-1.2zM119.9 222.9h1.2v1.2h-1.2zM91.0 204.6h1.8v1.8h-1.8zM95.9 212.7h1.2v1.2h-1.2zM91.0 224.5h1.5v1.5h-1.5zM99.2 202.6h1.2v1.2h-1.2zM123.0 228.8h1.8v1.8h-1.8zM94.9 204.1h1.8v1.8h-1.8zM101.9 219.8h1.5v1.5h-1.5zM102.4 228.7h1.2v1.2h-1.2zM89.4 219.7h1.2v1.2h-1.2zM128.2 216.2h1.5v1.5h-1.5zM80.7 231.9h1.8v1.8h-1.8zM80.6 209.8h1.2v1.2h-1.2zM106.4 206.1h1.0v1.0h-1.0zM83.0 199.9h1.0v1.0h-1.0zM110.1 220.8h1.8v1.8h-1.8zM97.5 216.2h1.0v1.0h-1.0zM111.9 203.6h1.8v1.8h-1.8z"/></g><rect x="96" y="200" width="2.2" height="9" rx="0.7" fill="#e63018"/><rect x="108.5" y="201" width="1.5" height="6" rx="0.5" fill="#e63018"/><rect x="84" y="203" width="7" height="1.6" rx="0.5" fill="#6cc432"/><rect x="100" y="203" width="8" height="1.6" rx="0.5" fill="#6cc432"/><path fill="#86d03a" d="M37.4 175.6h1.7v1.7h-1.7zM37.4 178.6h1.7v1.7h-1.7zM37.4 181.6h1.7v1.7h-1.7zM37.4 185.2h1.7v1.7h-1.7zM37.4 188.1h1.7v1.7h-1.7zM41.1 175.0h1.7v1.7h-1.7zM44.4 174.5h1.7v1.7h-1.7zM47.6 173.8h1.7v1.7h-1.7zM50.9 173.8h1.7v1.7h-1.7zM54.2 173.3h1.7v1.7h-1.7zM56.9 172.8h1.7v1.7h-1.7zM60.2 172.5h1.7v1.7h-1.7zM62.9 172.1h1.7v1.7h-1.7zM66.2 171.3h1.7v1.7h-1.7zM69.5 171.3h1.7v1.7h-1.7zM72.2 173.2h1.7v1.7h-1.7zM75.5 172.8h1.7v1.7h-1.7zM56.4 175.0h1.7v1.7h-1.7zM59.1 174.5h1.7v1.7h-1.7zM61.9 174.2h1.7v1.7h-1.7zM64.1 174.5h1.7v1.7h-1.7zM65.2 175.6h1.7v1.7h-1.7zM66.8 173.3h1.7v1.7h-1.7zM67.9 172.2h1.7v1.7h-1.7zM65.2 178.0h1.7v1.7h-1.7zM74.5 170.1h1.7v1.7h-1.7zM77.7 169.8h1.7v1.7h-1.7zM79.4 169.8h1.7v1.7h-1.7zM82.6 169.8h1.7v1.7h-1.7zM85.4 169.8h1.7v1.7h-1.7zM88.1 169.8h1.7v1.7h-1.7zM85.9 178.0h1.7v1.7h-1.7zM87.5 178.8h1.7v1.7h-1.7zM85.9 182.6h1.7v1.7h-1.7zM84.2 183.7h1.7v1.7h-1.7zM83.2 185.3h1.7v1.7h-1.7zM80.5 185.8h1.7v1.7h-1.7zM78.2 186.5h1.7v1.7h-1.7zM77.2 188.1h1.7v1.7h-1.7zM76.1 188.6h1.7v1.7h-1.7zM42.8 182.6h1.7v1.7h-1.7zM42.8 185.2h1.7v1.7h-1.7zM42.8 188.3h1.7v1.7h-1.7zM88.8 169.8h1.7v1.7h-1.7zM91.6 168.5h1.7v1.7h-1.7zM92.1 170.7h1.7v1.7h-1.7zM94.8 170.2h1.7v1.7h-1.7zM98.1 170.1h1.7v1.7h-1.7zM100.8 170.7h1.7v1.7h-1.7zM103.6 170.1h1.7v1.7h-1.7zM104.6 169.8h1.7v1.7h-1.7zM107.9 170.2h1.7v1.7h-1.7zM93.2 172.8h1.7v1.7h-1.7zM96.5 172.2h1.7v1.7h-1.7zM99.7 172.1h1.7v1.7h-1.7zM102.5 171.3h1.7v1.7h-1.7zM108.5 174.5h1.7v1.7h-1.7zM101.4 176.1h1.7v1.7h-1.7zM87.7 179.8h1.7v1.7h-1.7zM89.4 182.1h1.7v1.7h-1.7zM93.2 179.8h1.7v1.7h-1.7zM94.8 179.3h1.7v1.7h-1.7zM91.6 184.8h1.7v1.7h-1.7zM93.7 187.6h1.7v1.7h-1.7zM37.0 187.7h1.7v1.7h-1.7zM37.0 191.0h1.7v1.7h-1.7zM37.0 194.8h1.7v1.7h-1.7zM37.0 198.1h1.7v1.7h-1.7zM37.0 201.8h1.7v1.7h-1.7zM37.0 205.2h1.7v1.7h-1.7zM37.0 208.5h1.7v1.7h-1.7zM37.0 211.7h1.7v1.7h-1.7zM37.0 215.0h1.7v1.7h-1.7zM43.1 188.2h1.7v1.7h-1.7zM43.1 191.6h1.7v1.7h-1.7zM43.1 194.8h1.7v1.7h-1.7zM43.1 198.1h1.7v1.7h-1.7zM43.1 200.8h1.7v1.7h-1.7zM43.9 203.6h1.7v1.7h-1.7zM44.1 206.2h1.7v1.7h-1.7zM43.9 209.0h1.7v1.7h-1.7zM43.5 211.7h1.7v1.7h-1.7zM43.1 214.5h1.7v1.7h-1.7zM46.5 198.7h1.7v1.7h-1.7zM49.9 198.1h1.7v1.7h-1.7zM53.1 197.6h1.7v1.7h-1.7zM56.4 196.8h1.7v1.7h-1.7zM59.1 195.8h1.7v1.7h-1.7zM61.9 195.1h1.7v1.7h-1.7zM60.8 203.0h1.7v1.7h-1.7zM62.9 200.8h1.7v1.7h-1.7zM65.2 198.7h1.7v1.7h-1.7zM67.9 196.5h1.7v1.7h-1.7zM70.1 194.8h1.7v1.7h-1.7zM72.2 193.5h1.7v1.7h-1.7zM74.5 192.1h1.7v1.7h-1.7zM76.6 191.0h1.7v1.7h-1.7zM77.2 189.8h1.7v1.7h-1.7zM73.9 189.3h1.7v1.7h-1.7zM78.8 188.8h1.7v1.7h-1.7zM81.0 192.1h1.7v1.7h-1.7zM83.7 192.1h1.7v1.7h-1.7zM87.0 192.1h1.7v1.7h-1.7zM70.6 198.7h1.7v1.7h-1.7zM71.2 201.3h1.7v1.7h-1.7zM71.7 204.6h1.7v1.7h-1.7zM72.2 207.8h1.7v1.7h-1.7zM72.8 211.2h1.7v1.7h-1.7zM58.5 205.2h1.7v1.7h-1.7zM58.0 208.5h1.7v1.7h-1.7zM57.5 211.7h1.7v1.7h-1.7zM52.5 213.8h1.7v1.7h-1.7zM55.4 213.3h1.7v1.7h-1.7zM58.5 212.8h1.7v1.7h-1.7zM61.4 212.5h1.7v1.7h-1.7zM64.6 213.2h1.7v1.7h-1.7zM67.9 213.3h1.7v1.7h-1.7zM70.6 213.2h1.7v1.7h-1.7zM73.4 213.3h1.7v1.7h-1.7zM37.0 217.3h1.7v1.7h-1.7zM37.0 220.3h1.7v1.7h-1.7zM37.0 223.8h1.7v1.7h-1.7zM37.0 227.2h1.7v1.7h-1.7zM37.0 230.5h1.7v1.7h-1.7zM37.0 233.7h1.7v1.7h-1.7zM37.0 237.0h1.7v1.7h-1.7zM37.9 243.0h1.7v1.7h-1.7zM43.9 215.7h1.7v1.7h-1.7zM43.4 219.6h1.7v1.7h-1.7zM46.0 220.7h1.7v1.7h-1.7zM47.1 222.8h1.7v1.7h-1.7zM48.8 223.3h1.7v1.7h-1.7zM52.0 225.0h1.7v1.7h-1.7zM55.4 226.1h1.7v1.7h-1.7zM58.0 227.7h1.7v1.7h-1.7zM59.6 228.8h1.7v1.7h-1.7zM60.8 230.5h1.7v1.7h-1.7zM58.5 217.6h1.7v1.7h-1.7zM58.5 220.7h1.7v1.7h-1.7zM59.1 223.8h1.7v1.7h-1.7zM59.6 233.2h1.7v1.7h-1.7zM60.2 236.5h1.7v1.7h-1.7zM60.2 239.7h1.7v1.7h-1.7zM60.8 243.0h1.7v1.7h-1.7zM65.7 217.3h1.7v1.7h-1.7zM67.9 220.1h1.7v1.7h-1.7zM69.0 222.8h1.7v1.7h-1.7zM71.2 225.6h1.7v1.7h-1.7zM72.8 228.2h1.7v1.7h-1.7zM73.9 230.5h1.7v1.7h-1.7zM63.6 229.8h1.7v1.7h-1.7zM71.2 235.3h1.7v1.7h-1.7zM73.9 237.0h1.7v1.7h-1.7zM76.1 233.2h1.7v1.7h-1.7zM78.2 235.8h1.7v1.7h-1.7zM79.9 238.6h1.7v1.7h-1.7zM82.6 233.7h1.7v1.7h-1.7zM83.7 236.5h1.7v1.7h-1.7zM85.9 237.6h1.7v1.7h-1.7zM74.5 240.8h1.7v1.7h-1.7zM77.2 241.3h1.7v1.7h-1.7zM80.5 242.5h1.7v1.7h-1.7zM83.7 243.6h1.7v1.7h-1.7zM87.0 241.3h1.7v1.7h-1.7zM88.1 239.2h1.7v1.7h-1.7zM74.5 243.6h1.7v1.7h-1.7zM37.9 243.0h1.7v1.7h-1.7zM49.4 247.8h1.7v1.7h-1.7zM51.5 250.1h1.7v1.7h-1.7zM53.6 252.8h1.7v1.7h-1.7zM55.4 255.5h1.7v1.7h-1.7zM57.5 257.1h1.7v1.7h-1.7zM59.6 259.8h1.7v1.7h-1.7zM64.6 260.4h1.7v1.7h-1.7zM67.4 260.9h1.7v1.7h-1.7zM70.6 261.5h1.7v1.7h-1.7zM60.2 239.7h1.7v1.7h-1.7zM60.2 243.0h1.7v1.7h-1.7zM60.2 246.2h1.7v1.7h-1.7zM62.9 247.1h1.7v1.7h-1.7zM66.8 247.7h1.7v1.7h-1.7zM70.1 249.0h1.7v1.7h-1.7zM72.8 249.6h1.7v1.7h-1.7zM75.5 250.1h1.7v1.7h-1.7zM73.9 240.8h1.7v1.7h-1.7zM76.6 243.0h1.7v1.7h-1.7zM77.2 246.2h1.7v1.7h-1.7zM78.8 248.5h1.7v1.7h-1.7zM79.4 251.7h1.7v1.7h-1.7zM81.5 252.2h1.7v1.7h-1.7zM84.2 252.8h1.7v1.7h-1.7zM80.5 255.0h1.7v1.7h-1.7zM82.6 258.2h1.7v1.7h-1.7zM85.4 258.2h1.7v1.7h-1.7zM87.5 259.3h1.7v1.7h-1.7zM85.9 246.8h1.7v1.7h-1.7zM83.2 244.1h1.7v1.7h-1.7zM80.5 241.3h1.7v1.7h-1.7zM88.1 247.8h1.7v1.7h-1.7zM88.1 253.3h1.7v1.7h-1.7zM101.7 234.0h1.7v1.7h-1.7zM104.1 235.8h1.7v1.7h-1.7zM107.1 234.0h1.7v1.7h-1.7zM109.5 232.2h1.7v1.7h-1.7zM101.7 237.3h1.7v1.7h-1.7zM88.4 239.5h1.7v1.7h-1.7zM90.8 242.5h1.7v1.7h-1.7zM93.2 241.2h1.7v1.7h-1.7zM96.2 240.7h1.7v1.7h-1.7zM98.7 238.8h1.7v1.7h-1.7zM100.5 241.2h1.7v1.7h-1.7zM102.2 241.8h1.7v1.7h-1.7zM94.4 244.2h1.7v1.7h-1.7zM96.9 244.8h1.7v1.7h-1.7zM99.2 246.1h1.7v1.7h-1.7zM102.2 243.7h1.7v1.7h-1.7zM105.2 242.5h1.7v1.7h-1.7zM108.2 244.8h1.7v1.7h-1.7zM110.8 246.7h1.7v1.7h-1.7zM89.0 247.8h1.7v1.7h-1.7zM92.0 249.7h1.7v1.7h-1.7zM95.1 247.2h1.7v1.7h-1.7zM98.1 248.5h1.7v1.7h-1.7zM93.2 252.1h1.7v1.7h-1.7zM95.7 253.3h1.7v1.7h-1.7zM98.7 252.1h1.7v1.7h-1.7zM101.7 250.2h1.7v1.7h-1.7zM102.9 252.8h1.7v1.7h-1.7zM90.8 254.6h1.7v1.7h-1.7zM88.4 258.1h1.7v1.7h-1.7zM92.0 258.8h1.7v1.7h-1.7zM96.2 255.2h1.7v1.7h-1.7zM99.9 255.2h1.7v1.7h-1.7zM102.9 256.3h1.7v1.7h-1.7zM102.2 258.1h1.7v1.7h-1.7zM105.9 258.1h1.7v1.7h-1.7zM108.9 256.3h1.7v1.7h-1.7zM109.5 251.5h1.7v1.7h-1.7zM112.6 252.8h1.7v1.7h-1.7zM113.2 247.8h1.7v1.7h-1.7zM115.6 250.8h1.7v1.7h-1.7zM118.0 251.5h1.7v1.7h-1.7zM115.6 254.0h1.7v1.7h-1.7zM118.6 254.6h1.7v1.7h-1.7zM121.0 251.5h1.7v1.7h-1.7zM123.4 252.8h1.7v1.7h-1.7zM124.0 250.2h1.7v1.7h-1.7zM126.5 248.5h1.7v1.7h-1.7zM127.1 253.3h1.7v1.7h-1.7zM123.4 254.6h1.7v1.7h-1.7zM128.8 246.7h1.7v1.7h-1.7zM131.2 244.8h1.7v1.7h-1.7zM129.5 243.7h1.7v1.7h-1.7zM130.7 240.7h1.7v1.7h-1.7zM130.7 237.7h1.7v1.7h-1.7zM131.8 234.6h1.7v1.7h-1.7zM132.5 231.6h1.7v1.7h-1.7zM133.7 243.1h1.7v1.7h-1.7zM136.7 244.8h1.7v1.7h-1.7zM139.1 243.1h1.7v1.7h-1.7zM133.1 247.8h1.7v1.7h-1.7zM135.5 248.5h1.7v1.7h-1.7zM131.2 249.1h1.7v1.7h-1.7zM133.7 250.2h1.7v1.7h-1.7zM131.2 252.8h1.7v1.7h-1.7zM133.1 258.1h1.7v1.7h-1.7zM113.2 261.8h1.7v1.7h-1.7zM142.2 261.1h1.7v1.7h-1.7zM145.2 252.8h1.7v1.7h-1.7zM146.3 231.0h1.7v1.7h-1.7zM137.8 207.2h1.7v1.7h-1.7zM139.2 209.8h1.7v1.7h-1.7zM140.6 213.0h1.7v1.7h-1.7zM142.3 215.8h1.7v1.7h-1.7zM144.1 218.5h1.7v1.7h-1.7zM145.2 221.1h1.7v1.7h-1.7zM147.0 223.7h1.7v1.7h-1.7zM147.8 226.2h1.7v1.7h-1.7zM149.2 228.5h1.7v1.7h-1.7zM150.5 231.3h1.7v1.7h-1.7zM151.7 234.0h1.7v1.7h-1.7zM152.7 236.6h1.7v1.7h-1.7zM149.6 212.5h1.7v1.7h-1.7zM149.6 215.8h1.7v1.7h-1.7zM150.5 222.8h1.7v1.7h-1.7zM151.0 226.2h1.7v1.7h-1.7zM146.2 230.6h1.7v1.7h-1.7zM129.2 216.8h1.7v1.7h-1.7zM132.3 222.0h1.7v1.7h-1.7zM133.2 228.0h1.7v1.7h-1.7zM133.2 231.3h1.7v1.7h-1.7zM132.0 234.8h1.7v1.7h-1.7zM131.0 238.2h1.7v1.7h-1.7zM130.8 237.8h1.7v1.7h-1.7zM130.2 240.8h1.7v1.7h-1.7zM129.2 244.0h1.7v1.7h-1.7zM128.8 247.1h1.7v1.7h-1.7zM127.7 250.7h1.7v1.7h-1.7zM128.2 253.8h1.7v1.7h-1.7zM131.2 248.6h1.7v1.7h-1.7zM131.2 252.8h1.7v1.7h-1.7zM133.3 250.2h1.7v1.7h-1.7zM133.8 243.0h1.7v1.7h-1.7zM132.8 245.5h1.7v1.7h-1.7zM135.5 248.1h1.7v1.7h-1.7zM137.0 245.0h1.7v1.7h-1.7zM139.1 243.0h1.7v1.7h-1.7zM133.3 258.4h1.7v1.7h-1.7zM141.7 261.5h1.7v1.7h-1.7zM144.8 252.8h1.7v1.7h-1.7zM147.8 251.7h1.7v1.7h-1.7zM151.0 250.7h1.7v1.7h-1.7zM149.3 240.8h1.7v1.7h-1.7zM150.5 243.5h1.7v1.7h-1.7zM153.0 245.0h1.7v1.7h-1.7zM152.5 238.8h1.7v1.7h-1.7zM152.0 235.7h1.7v1.7h-1.7zM153.0 241.8h1.7v1.7h-1.7z"/><rect x="188" y="154" width="175.0" height="113.4" fill="#0c0c0e"/><rect x="188.5" y="154.5" width="174.0" height="112.4" fill="none" stroke="#000" stroke-width="1"/><rect x="228.5" y="162.8" width="126.4" height="99.9" fill="#09090b"/><path d="M228.5 162.0V263.0M237.5 162.0V263.0M246.5 162.0V263.0M255.5 162.0V263.0M264.5 162.0V263.0M273.5 162.0V263.0M282.5 162.0V263.0M291.5 162.0V263.0M300.5 162.0V263.0M309.5 162.0V263.0M318.5 162.0V263.0M327.5 162.0V263.0M336.5 162.0V263.0M345.5 162.0V263.0M354.5 162.0V263.0M228.0 162.5H355.0M228.0 171.5H355.0M228.0 180.5H355.0M228.0 190.5H355.0M228.0 199.5H355.0M228.0 208.5H355.0M228.0 217.5H355.0M228.0 226.5H355.0M228.0 235.5H355.0M228.0 244.5H355.0M228.0 253.5H355.0M228.0 262.5H355.0" stroke="#3a3a3c" stroke-width="1" fill="none" shape-rendering="crispEdges"/><rect x="202.8" y="197.7" width="10.3" height="60.0" fill="url(#cbg)"/><text x="207.9" y="193.4" font-family="Liberation Sans" font-size="5.8" fill="#eee" text-anchor="middle">&gt;0.008</text><text x="207.9" y="264.3" font-family="Liberation Sans" font-size="5.9" fill="#eee" text-anchor="middle">0.21e-3</text><text transform="translate(193.6,227.7) rotate(-90)" font-family="Liberation Sans" font-size="5.8" fill="#d8d8d8" text-anchor="middle">Resolution (m/px)</text><rect x="245.2" y="188.9" width="80.0" height="48.9" fill="#ee9a30"/><clipPath id="c4"><rect x="245.2" y="188.9" width="80.0" height="48.9"/></clipPath><g clip-path="url(#c4)"><g filter="url(#blur2)"><rect x="244.9" y="188.6" width="8.6" height="8.8" fill="#f0bc2e"/><rect x="252.9" y="188.6" width="8.6" height="8.8" fill="#f08c28"/><rect x="260.9" y="188.6" width="8.6" height="8.8" fill="#f0bc2e"/><rect x="268.9" y="188.6" width="8.6" height="8.8" fill="#f0bc2e"/><rect x="276.9" y="188.6" width="8.6" height="8.8" fill="#eedc2e"/><rect x="284.9" y="188.6" width="8.6" height="8.8" fill="#ec6420"/><rect x="292.9" y="188.6" width="8.6" height="8.8" fill="#e6341c"/><rect x="300.9" y="188.6" width="8.6" height="8.8" fill="#eedc2e"/><rect x="308.9" y="188.6" width="8.6" height="8.8" fill="#eedc2e"/><rect x="316.9" y="188.6" width="8.6" height="8.8" fill="#f0bc2e"/><rect x="244.9" y="196.8" width="8.6" height="8.8" fill="#eedc2e"/><rect x="252.9" y="196.8" width="8.6" height="8.8" fill="#e6341c"/><rect x="260.9" y="196.8" width="8.6" height="8.8" fill="#f0bc2e"/><rect x="268.9" y="196.8" width="8.6" height="8.8" fill="#eedc2e"/><rect x="276.9" y="196.8" width="8.6" height="8.8" fill="#f0bc2e"/><rect x="284.9" y="196.8" width="8.6" height="8.8" fill="#f08c28"/><rect x="292.9" y="196.8" width="8.6" height="8.8" fill="#e6341c"/><rect x="300.9" y="196.8" width="8.6" height="8.8" fill="#eedc2e"/><rect x="308.9" y="196.8" width="8.6" height="8.8" fill="#eedc2e"/><rect x="316.9" y="196.8" width="8.6" height="8.8" fill="#f08c28"/><rect x="244.9" y="204.9" width="8.6" height="8.8" fill="#f08c28"/><rect x="252.9" y="204.9" width="8.6" height="8.8" fill="#e6341c"/><rect x="260.9" y="204.9" width="8.6" height="8.8" fill="#e6341c"/><rect x="268.9" y="204.9" width="8.6" height="8.8" fill="#f08c28"/><rect x="276.9" y="204.9" width="8.6" height="8.8" fill="#f0bc2e"/><rect x="284.9" y="204.9" width="8.6" height="8.8" fill="#f0bc2e"/><rect x="292.9" y="204.9" width="8.6" height="8.8" fill="#eedc2e"/><rect x="300.9" y="204.9" width="8.6" height="8.8" fill="#e6341c"/><rect x="308.9" y="204.9" width="8.6" height="8.8" fill="#ec6420"/><rect x="316.9" y="204.9" width="8.6" height="8.8" fill="#f08c28"/><rect x="244.9" y="213.1" width="8.6" height="8.8" fill="#eedc2e"/><rect x="252.9" y="213.1" width="8.6" height="8.8" fill="#f0bc2e"/><rect x="260.9" y="213.1" width="8.6" height="8.8" fill="#ec6420"/><rect x="268.9" y="213.1" width="8.6" height="8.8" fill="#f08c28"/><rect x="276.9" y="213.1" width="8.6" height="8.8" fill="#eedc2e"/><rect x="284.9" y="213.1" width="8.6" height="8.8" fill="#eedc2e"/><rect x="292.9" y="213.1" width="8.6" height="8.8" fill="#eedc2e"/><rect x="300.9" y="213.1" width="8.6" height="8.8" fill="#f08c28"/><rect x="308.9" y="213.1" width="8.6" height="8.8" fill="#eedc2e"/><rect x="316.9" y="213.1" width="8.6" height="8.8" fill="#f0bc2e"/><rect x="244.9" y="221.2" width="8.6" height="8.8" fill="#eedc2e"/><rect x="252.9" y="221.2" width="8.6" height="8.8" fill="#eedc2e"/><rect x="260.9" y="221.2" width="8.6" height="8.8" fill="#eedc2e"/><rect x="268.9" y="221.2" width="8.6" height="8.8" fill="#eedc2e"/><rect x="276.9" y="221.2" width="8.6" height="8.8" fill="#eedc2e"/><rect x="284.9" y="221.2" width="8.6" height="8.8" fill="#eedc2e"/><rect x="292.9" y="221.2" width="8.6" height="8.8" fill="#eedc2e"/><rect x="300.9" y="221.2" width="8.6" height="8.8" fill="#eedc2e"/><rect x="308.9" y="221.2" width="8.6" height="8.8" fill="#f08c28"/><rect x="316.9" y="221.2" width="8.6" height="8.8" fill="#eedc2e"/><rect x="244.9" y="229.3" width="8.6" height="8.8" fill="#f0bc2e"/><rect x="252.9" y="229.3" width="8.6" height="8.8" fill="#ec6420"/><rect x="260.9" y="229.3" width="8.6" height="8.8" fill="#e6341c"/><rect x="268.9" y="229.3" width="8.6" height="8.8" fill="#eedc2e"/><rect x="276.9" y="229.3" width="8.6" height="8.8" fill="#ec6420"/><rect x="284.9" y="229.3" width="8.6" height="8.8" fill="#eedc2e"/><rect x="292.9" y="229.3" width="8.6" height="8.8" fill="#ec6420"/><rect x="300.9" y="229.3" width="8.6" height="8.8" fill="#eedc2e"/><rect x="308.9" y="229.3" width="8.6" height="8.8" fill="#f08c28"/><rect x="316.9" y="229.3" width="8.6" height="8.8" fill="#f0bc2e"/></g><g filter="url(#blur05)"><path fill="#f08c28" d="M314.1 237.5h1.9v2.0h-1.9zM245.8 189.4h3.8v3.3h-3.8zM270.5 206.4h4.5v2.5h-4.5zM302.8 215.0h3.9v1.5h-3.9zM261.9 215.3h2.9v2.0h-2.9zM305.3 204.0h5.4v2.3h-5.4zM247.2 207.7h3.2v3.0h-3.2zM280.9 209.5h4.3v4.4h-4.3zM324.1 219.3h3.3v3.9h-3.3zM323.5 205.4h2.2v3.5h-2.2zM288.4 211.0h3.4v7.9h-3.4zM322.6 231.0h1.9v7.8h-1.9zM258.1 191.0h2.9v7.2h-2.9zM247.0 223.1h1.6v3.9h-1.6zM245.6 202.4h2.4v1.5h-2.4zM270.4 208.8h2.8v2.9h-2.8zM308.9 231.5h3.4v3.5h-3.4zM304.6 232.5h2.2v2.3h-2.2zM293.0 221.4h4.3v3.0h-4.3zM280.4 198.7h3.0v1.5h-3.0zM267.8 210.1h8.3v2.3h-8.3zM255.7 215.7h3.4v3.0h-3.4zM287.1 188.3h3.7v4.4h-3.7zM264.3 215.2h2.8v3.7h-2.8zM261.8 234.2h3.2v5.8h-3.2zM287.4 195.5h4.5v3.3h-4.5zM272.7 205.4h3.6v4.4h-3.6zM255.8 230.8h2.4v3.4h-2.4zM315.0 207.6h2.2v1.8h-2.2zM321.6 204.9h4.2v1.8h-4.2zM308.9 237.5h2.7v1.8h-2.7zM256.0 221.6h4.4v3.4h-4.4zM267.4 221.8h1.8v6.9h-1.8zM317.7 212.2h2.1v4.3h-2.1zM274.4 209.5h2.0v2.1h-2.0zM315.3 206.2h4.3v1.6h-4.3zM311.3 210.6h3.4v4.2h-3.4zM254.3 188.1h3.0v2.1h-3.0zM260.2 194.6h4.1v4.4h-4.1zM323.8 231.1h3.0v3.8h-3.0z"/><path fill="#eedc2e" d="M254.1 225.1h2.6v3.9h-2.6zM282.4 212.5h6.9v2.2h-6.9zM274.4 225.9h2.4v3.6h-2.4zM282.1 216.5h1.9v2.9h-1.9zM271.3 190.8h2.6v3.7h-2.6zM317.6 219.8h3.8v3.4h-3.8zM255.4 217.5h4.0v2.7h-4.0zM290.4 222.4h2.2v2.7h-2.2zM281.9 187.8h3.9v3.9h-3.9zM304.2 213.9h1.7v2.6h-1.7zM268.2 198.3h2.7v3.7h-2.7zM244.5 199.9h2.7v1.9h-2.7zM276.8 204.4h3.3v1.7h-3.3zM287.0 233.5h3.8v2.7h-3.8zM279.9 187.1h2.7v3.1h-2.7zM300.5 196.4h4.3v2.4h-4.3zM320.9 218.4h3.5v2.9h-3.5zM312.3 193.1h2.8v3.4h-2.8zM316.8 231.9h4.0v2.0h-4.0zM263.1 193.2h3.6v2.2h-3.6zM316.5 232.9h4.1v3.3h-4.1zM247.4 227.1h2.9v3.9h-2.9zM314.1 188.7h3.4v2.0h-3.4zM267.2 220.0h1.9v2.5h-1.9zM283.8 213.5h1.9v1.8h-1.9zM249.9 235.5h2.1v2.3h-2.1zM259.6 213.1h2.3v2.9h-2.3zM249.4 227.8h3.2v4.3h-3.2zM281.4 205.7h3.0v3.1h-3.0zM276.9 234.7h3.1v2.0h-3.1zM251.8 198.0h3.9v1.6h-3.9zM320.0 224.1h3.1v3.6h-3.1zM260.8 200.8h1.6v2.4h-1.6zM300.7 225.3h1.6v2.5h-1.6zM278.6 224.5h3.3v4.2h-3.3z"/><path fill="#f0bc2e" d="M281.4 204.3h3.2v1.6h-3.2z"/><path fill="#f08c28" d="M323.4 199.4h1.6v2.0h-1.6zM291.5 201.1h1.7v2.6h-1.7zM249.0 232.0h2.2v3.7h-2.2zM315.6 227.9h3.1v2.7h-3.1zM312.8 230.4h3.7v4.1h-3.7zM247.9 230.8h4.1v3.2h-4.1zM244.3 214.5h4.2v3.6h-4.2zM295.8 236.6h1.6v1.9h-1.6zM244.6 213.1h6.7v2.7h-6.7zM300.5 233.4h2.6v2.4h-2.6zM315.5 193.6h4.5v3.4h-4.5zM257.5 192.0h2.3v3.6h-2.3zM320.3 205.1h4.2v4.5h-4.2zM306.8 210.9h4.0v3.9h-4.0zM283.6 225.7h3.0v4.0h-3.0zM293.0 201.9h2.3v3.6h-2.3zM274.3 190.7h3.0v4.4h-3.0zM248.9 208.1h3.1v2.0h-3.1zM266.6 215.6h3.2v2.8h-3.2zM300.0 229.7h4.2v4.0h-4.2zM273.1 187.8h2.1v1.7h-2.1zM315.5 232.0h3.0v3.7h-3.0zM316.8 189.5h3.1v3.9h-3.1zM261.6 197.4h3.5v3.9h-3.5zM247.2 205.1h2.8v4.3h-2.8zM297.7 202.3h2.5v1.6h-2.5zM290.3 207.5h3.7v2.4h-3.7zM246.9 218.4h3.0v1.7h-3.0zM253.3 192.7h3.6v1.9h-3.6zM324.4 224.8h2.0v3.0h-2.0zM315.6 215.5h3.7v1.9h-3.7zM269.1 206.0h4.4v1.6h-4.4zM278.2 202.0h8.8v3.3h-8.8zM251.2 208.1h1.8v7.2h-1.8zM306.9 228.8h1.7v2.1h-1.7zM270.0 192.9h2.1v4.4h-2.1zM261.1 217.3h3.4v3.8h-3.4zM324.5 187.7h1.8v4.2h-1.8zM267.8 210.3h2.0v3.0h-2.0zM270.8 206.6h3.8v2.9h-3.8z"/><path fill="#eedc2e" d="M276.5 190.2h4.3v3.4h-4.3zM310.9 214.9h4.3v2.6h-4.3zM263.8 191.0h2.6v2.5h-2.6zM299.8 192.5h8.4v1.9h-8.4zM255.4 219.4h3.2v3.8h-3.2zM325.2 189.3h1.8v3.4h-1.8zM295.9 233.3h4.2v4.0h-4.2zM289.7 227.9h7.9v1.8h-7.9zM321.3 231.2h1.9v3.3h-1.9zM282.6 221.2h2.2v3.7h-2.2zM294.8 223.4h8.5v4.3h-8.5zM304.7 193.6h2.5v3.1h-2.5zM277.8 213.6h8.5v3.9h-8.5zM266.7 202.6h4.5v1.7h-4.5zM286.4 212.2h4.4v2.2h-4.4zM309.3 195.2h7.9v1.7h-7.9zM315.1 212.0h2.7v3.3h-2.7zM303.9 191.8h1.7v2.3h-1.7zM309.5 202.6h8.3v2.3h-8.3zM277.4 193.5h3.1v2.1h-3.1zM308.3 199.7h2.0v3.6h-2.0zM319.2 236.6h3.9v2.8h-3.9zM317.0 223.9h3.7v3.2h-3.7zM269.0 198.3h2.0v5.2h-2.0zM264.7 221.4h3.9v2.0h-3.9zM322.6 194.3h2.9v2.0h-2.9zM253.3 202.1h2.0v4.5h-2.0zM263.1 220.6h4.4v4.2h-4.4zM246.1 225.4h3.3v2.0h-3.3zM294.9 208.8h1.5v1.9h-1.5zM273.6 201.2h2.3v2.7h-2.3zM303.9 189.6h2.8v2.5h-2.8zM253.9 233.5h4.4v1.8h-4.4zM274.8 200.0h3.7v3.9h-3.7zM259.5 237.8h3.2v1.9h-3.2zM250.4 202.1h3.9v3.9h-3.9zM301.3 208.4h3.5v3.0h-3.5zM309.8 234.6h3.0v4.5h-3.0zM272.1 196.3h4.5v4.4h-4.5zM279.5 217.1h2.8v3.5h-2.8z"/><path fill="#ec6420" d="M313.3 237.6h2.3v2.3h-2.3zM299.1 202.2h2.5v3.4h-2.5zM260.8 204.7h3.3v2.4h-3.3zM262.5 209.2h3.4v2.6h-3.4zM297.4 227.8h1.7v5.0h-1.7zM297.4 226.2h1.5v8.8h-1.5zM283.4 232.6h4.4v1.8h-4.4zM286.3 193.8h4.1v1.7h-4.1zM256.2 231.3h3.9v2.6h-3.9zM253.7 198.9h4.1v3.8h-4.1zM257.3 197.0h4.4v5.1h-4.4zM295.1 236.6h1.9v2.3h-1.9zM265.3 219.9h2.5v3.4h-2.5zM252.7 193.0h3.6v4.4h-3.6zM257.7 204.4h3.0v2.9h-3.0zM294.2 195.7h2.1v3.1h-2.1zM281.9 228.0h3.7v2.4h-3.7zM260.6 205.2h2.8v3.8h-2.8zM293.2 227.9h4.0v3.5h-4.0zM280.7 230.2h1.9v2.9h-1.9zM305.7 215.7h2.4v4.0h-2.4zM305.3 206.2h1.7v1.5h-1.7zM304.9 209.2h4.2v2.5h-4.2zM259.6 197.6h2.0v2.3h-2.0zM262.1 212.3h4.5v4.0h-4.5zM291.9 235.6h2.7v2.0h-2.7zM260.1 215.3h2.3v4.0h-2.3zM308.9 234.2h2.9v4.1h-2.9zM274.0 214.0h3.7v3.8h-3.7zM258.8 201.1h2.9v2.1h-2.9zM256.3 194.4h4.2v2.7h-4.2zM256.9 234.2h4.4v2.9h-4.4zM321.3 205.6h3.9v3.6h-3.9zM316.9 206.5h2.2v3.8h-2.2zM295.2 199.4h3.5v2.9h-3.5zM299.8 194.4h3.8v2.9h-3.8zM304.2 203.6h1.9v3.7h-1.9zM257.7 208.9h4.0v2.5h-4.0zM256.4 187.8h4.1v4.5h-4.1zM256.9 203.4h2.5v3.1h-2.5z"/><path fill="#e6341c" d="M255.7 203.0h3.8v4.0h-3.8zM302.1 215.7h2.4v3.1h-2.4zM315.9 193.8h2.4v8.7h-2.4zM276.7 224.9h1.7v3.6h-1.7zM306.0 206.6h3.6v2.1h-3.6zM304.2 215.4h2.3v3.9h-2.3zM266.8 236.6h1.6v1.9h-1.6zM301.7 207.8h2.9v2.9h-2.9zM262.8 237.6h2.1v2.1h-2.1zM260.1 229.5h4.5v4.2h-4.5zM296.7 202.4h2.8v2.3h-2.8zM256.8 196.9h4.3v1.6h-4.3zM283.1 233.6h3.8v2.6h-3.8zM263.7 237.3h2.3v2.2h-2.3zM291.7 186.8h3.4v3.8h-3.4zM250.7 228.9h3.9v2.4h-3.9zM312.7 206.6h2.0v3.7h-2.0zM259.2 233.0h2.5v3.7h-2.5zM247.1 222.5h2.8v3.8h-2.8zM270.5 218.6h1.8v2.5h-1.8zM306.0 223.4h5.7v2.8h-5.7zM280.0 219.8h3.3v3.7h-3.3zM304.0 192.3h1.7v3.7h-1.7zM257.4 198.6h4.3v2.5h-4.3zM259.2 231.1h4.1v1.6h-4.1zM286.7 225.3h1.6v4.3h-1.6zM245.0 225.6h3.8v1.8h-3.8zM264.8 234.3h3.4v2.3h-3.4zM250.9 223.6h4.2v2.6h-4.2zM321.9 200.6h4.3v3.3h-4.3zM255.1 210.3h3.4v4.3h-3.4zM287.7 227.1h4.0v2.2h-4.0zM298.9 194.1h2.7v4.0h-2.7zM283.6 212.6h4.9v3.5h-4.9zM255.7 197.1h3.9v4.2h-3.9zM306.5 204.8h2.1v2.5h-2.1zM271.7 213.0h3.9v3.9h-3.9zM267.4 231.6h3.1v3.0h-3.1zM281.3 214.9h3.4v3.0h-3.4zM299.6 193.4h1.8v2.1h-1.8z"/><path fill="#eedc2e" d="M257.4 215.4h3.8v3.6h-3.8zM281.6 206.2h1.5v3.2h-1.5zM263.3 190.0h3.9v1.7h-3.9zM312.7 216.5h4.5v2.5h-4.5zM310.6 218.5h3.7v2.3h-3.7zM246.8 196.1h3.7v1.7h-3.7zM256.3 221.0h3.1v2.4h-3.1zM280.9 214.5h2.8v3.6h-2.8zM286.6 207.7h8.5v1.8h-8.5zM275.2 227.2h3.2v2.7h-3.2zM283.2 224.1h2.8v6.6h-2.8zM246.5 231.9h2.6v1.9h-2.6zM247.2 217.7h1.7v2.2h-1.7zM317.1 187.6h2.6v4.2h-2.6zM301.0 235.3h2.8v1.8h-2.8zM255.7 188.0h3.4v3.2h-3.4zM266.2 193.4h2.4v1.7h-2.4zM295.8 210.6h2.4v3.7h-2.4zM303.7 185.2h1.9v7.0h-1.9zM264.2 228.4h4.3v4.4h-4.3zM278.3 207.4h1.8v4.4h-1.8zM285.1 200.5h4.4v2.4h-4.4zM293.3 228.8h2.6v3.8h-2.6zM269.9 220.7h2.2v2.5h-2.2zM279.6 212.2h3.9v3.9h-3.9zM248.8 224.3h2.5v1.9h-2.5zM246.5 191.1h4.0v1.5h-4.0zM262.0 218.1h2.3v2.9h-2.3zM287.7 228.8h3.6v3.2h-3.6zM254.4 226.3h7.5v4.1h-7.5zM278.9 226.3h4.5v4.0h-4.5zM247.2 220.9h2.3v2.2h-2.3zM269.4 196.3h2.3v4.1h-2.3zM244.5 231.3h2.1v1.6h-2.1zM291.6 211.5h2.6v2.7h-2.6zM261.3 193.3h2.6v3.7h-2.6zM289.1 221.9h3.8v7.1h-3.8zM269.1 198.4h1.6v3.1h-1.6zM308.9 215.9h4.2v3.9h-4.2zM280.5 214.2h3.2v5.1h-3.2z"/><path fill="#b8d636" d="M315.9 222.3h3.6v2.8h-3.6zM301.7 194.4h1.5v3.5h-1.5zM289.0 227.6h4.3v2.6h-4.3zM288.0 211.3h2.7v3.0h-2.7zM284.6 200.3h2.7v3.0h-2.7zM292.6 201.5h2.7v4.2h-2.7zM245.1 197.0h3.3v4.4h-3.3zM266.9 206.4h2.9v3.5h-2.9zM285.0 234.3h4.4v4.1h-4.4zM310.4 198.7h3.8v4.5h-3.8zM313.4 186.4h3.5v4.2h-3.5zM248.7 202.1h3.9v2.5h-3.9zM315.6 227.9h4.0v2.1h-4.0zM320.8 189.3h2.8v4.3h-2.8zM273.0 193.3h3.4v4.4h-3.4zM288.0 235.2h3.5v3.7h-3.5zM284.8 236.6h3.2v4.0h-3.2zM263.5 191.8h3.3v2.7h-3.3zM309.2 214.7h3.2v2.5h-3.2zM278.6 204.4h6.6v3.3h-6.6z"/><path fill="#b8d636" d="M322.6 186.4h1.6v4.1h-1.6zM276.7 190.4h3.4v1.6h-3.4zM296.6 209.0h8.0v2.6h-8.0zM312.3 197.9h3.4v4.3h-3.4zM296.2 217.0h3.6v2.5h-3.6zM254.6 219.3h2.7v3.8h-2.7zM317.8 228.3h2.9v3.0h-2.9zM258.7 229.3h2.8v1.7h-2.8zM282.7 197.7h4.1v3.8h-4.1zM284.6 202.5h4.3v3.8h-4.3zM253.0 225.0h3.5v1.8h-3.5zM286.3 220.5h3.1v3.8h-3.1zM280.3 188.6h3.0v2.5h-3.0zM267.5 194.7h3.8v1.8h-3.8zM248.8 193.0h1.5v6.1h-1.5zM264.3 192.2h3.6v2.9h-3.6zM317.4 219.3h3.7v3.8h-3.7zM285.2 202.1h1.9v4.1h-1.9zM249.0 227.8h3.2v2.0h-3.2zM299.2 206.3h2.1v2.7h-2.1zM245.3 227.4h3.2v1.9h-3.2zM279.4 224.7h2.0v4.2h-2.0zM282.0 205.4h8.4v4.4h-8.4zM294.3 202.8h3.6v8.7h-3.6zM323.1 219.8h2.5v3.2h-2.5zM260.6 197.5h4.5v2.7h-4.5zM295.0 211.7h2.4v2.1h-2.4zM245.1 191.1h2.6v2.3h-2.6zM284.0 194.5h1.5v2.4h-1.5zM273.5 209.1h2.7v2.0h-2.7zM270.0 233.4h2.6v1.5h-2.6zM309.7 225.5h4.0v1.7h-4.0zM249.4 235.4h3.0v3.4h-3.0zM268.9 196.4h3.6v2.7h-3.6zM306.6 186.4h2.0v5.7h-2.0zM300.1 213.3h2.8v2.6h-2.8zM281.5 220.2h2.0v2.2h-2.0zM284.2 216.6h2.4v2.6h-2.4zM281.7 204.6h4.4v1.9h-4.4zM312.3 217.8h1.7v1.6h-1.7z"/><path fill="#eedc2e" d="M269.4 227.0h3.0v4.2h-3.0zM264.5 197.0h5.5v3.4h-5.5zM306.6 201.1h3.8v2.7h-3.8zM323.4 223.6h2.4v3.3h-2.4zM320.6 236.0h1.8v1.8h-1.8zM269.5 193.7h1.7v3.0h-1.7zM310.1 201.9h3.5v2.5h-3.5zM243.1 216.0h2.7v5.7h-2.7zM324.4 191.8h3.6v2.3h-3.6zM258.1 228.8h2.9v2.8h-2.9zM273.4 221.7h8.4v3.8h-8.4zM258.6 226.5h2.9v2.1h-2.9zM260.6 195.6h3.8v3.6h-3.8zM249.1 215.7h4.1v3.1h-4.1zM305.5 190.9h3.9v3.2h-3.9zM284.1 224.9h4.3v2.7h-4.3zM245.8 190.9h3.7v3.3h-3.7zM290.7 207.3h4.4v2.2h-4.4zM314.5 190.6h3.4v1.6h-3.4zM321.6 210.8h6.4v3.9h-6.4zM249.7 195.1h4.0v1.8h-4.0zM267.9 188.2h4.4v3.4h-4.4zM308.6 226.5h3.6v2.8h-3.6zM252.3 212.5h4.2v4.3h-4.2zM319.8 189.8h4.2v2.1h-4.2zM242.5 193.7h4.1v4.3h-4.1zM260.5 187.5h3.4v4.2h-3.4zM286.0 223.2h3.7v2.4h-3.7zM289.7 215.2h3.1v3.5h-3.1zM283.4 218.9h2.1v3.2h-2.1zM321.8 213.8h5.2v2.2h-5.2zM264.3 200.8h4.4v6.5h-4.4zM254.6 231.0h3.7v4.5h-3.7zM264.7 193.9h5.6v1.6h-5.6zM310.5 215.4h4.0v1.7h-4.0zM242.1 193.9h5.2v2.5h-5.2zM279.7 190.1h1.9v3.7h-1.9zM318.8 234.2h2.3v7.2h-2.3zM310.9 202.2h3.3v1.9h-3.3zM302.4 187.7h2.6v1.6h-2.6z"/><path fill="#f0e83e" d="M303.3 233.4h4.1v4.0h-4.1zM320.3 223.3h1.9v4.2h-1.9zM248.0 215.0h4.2v4.0h-4.2zM293.3 205.8h3.1v3.8h-3.1zM244.1 217.4h8.0v3.1h-8.0zM301.1 228.5h2.6v2.0h-2.6z"/><path fill="#f08c28" d="M318.1 202.6h3.5v2.4h-3.5zM318.5 210.8h4.4v2.4h-4.4zM274.8 220.3h2.6v6.0h-2.6zM249.8 206.9h1.9v4.0h-1.9zM275.6 205.3h3.1v4.3h-3.1zM243.6 207.6h1.6v4.3h-1.6zM299.7 210.1h1.7v1.7h-1.7zM260.4 202.1h4.3v3.3h-4.3zM259.3 234.4h3.3v3.0h-3.3zM285.6 216.9h3.0v1.6h-3.0zM321.1 195.2h2.5v4.4h-2.5zM247.3 207.7h3.1v2.4h-3.1zM279.5 231.4h2.4v3.3h-2.4zM276.5 212.9h2.2v2.1h-2.2zM315.1 196.9h4.2v3.6h-4.2zM267.2 206.2h3.2v4.0h-3.2zM272.7 207.0h1.7v3.0h-1.7zM260.8 211.5h3.6v1.8h-3.6zM320.4 201.3h8.9v3.0h-8.9zM281.5 217.8h1.5v1.9h-1.5zM262.8 213.0h1.9v4.1h-1.9zM300.7 222.3h4.2v2.6h-4.2zM269.9 214.3h8.5v2.4h-8.5zM309.6 233.3h2.4v3.2h-2.4z"/><path fill="#e6341c" d="M313.0 231.3h3.0v2.2h-3.0zM268.3 229.0h2.8v1.7h-2.8zM307.5 209.9h4.0v4.3h-4.0zM299.9 214.0h4.2v8.4h-4.2zM280.5 187.5h2.7v3.9h-2.7zM294.8 224.3h2.9v4.4h-2.9zM268.6 230.9h4.2v1.9h-4.2zM298.9 199.4h3.5v4.4h-3.5zM280.8 218.6h3.8v2.5h-3.8zM297.0 190.5h2.2v2.3h-2.2zM257.8 198.1h3.1v3.5h-3.1zM313.6 200.0h1.8v4.6h-1.8zM270.7 214.8h7.0v3.3h-7.0zM317.4 199.3h2.1v1.7h-2.1zM312.9 190.5h2.0v3.0h-2.0zM257.9 230.7h3.8v3.5h-3.8zM294.1 217.6h1.8v3.8h-1.8zM255.1 232.5h1.6v2.9h-1.6zM309.3 201.2h1.7v1.6h-1.7zM301.4 218.5h8.4v3.6h-8.4zM257.0 191.6h3.1v7.1h-3.1zM267.0 213.6h2.8v3.1h-2.8zM274.5 201.5h1.8v6.2h-1.8zM301.2 209.3h3.5v3.1h-3.5zM291.9 189.4h3.7v6.2h-3.7zM270.5 213.9h4.3v2.1h-4.3zM310.9 202.6h4.3v3.8h-4.3zM300.1 233.5h4.2v2.0h-4.2zM287.5 231.4h3.7v4.5h-3.7zM265.8 217.0h1.8v3.5h-1.8zM307.7 199.7h2.6v2.5h-2.6zM257.4 186.5h1.7v3.9h-1.7zM255.9 200.7h2.0v4.2h-2.0zM256.0 206.2h1.8v3.4h-1.8zM305.4 212.0h1.8v2.0h-1.8zM280.3 223.1h3.3v2.2h-3.3zM271.6 233.7h2.2v3.9h-2.2zM246.3 206.5h4.5v4.4h-4.5zM254.1 189.8h4.5v3.5h-4.5zM308.7 208.1h4.3v2.0h-4.3z"/><path fill="#f08c28" d="M305.6 213.4h3.6v2.4h-3.6zM267.8 218.4h4.1v1.6h-4.1zM315.5 198.7h3.9v4.4h-3.9zM291.4 230.6h2.4v2.0h-2.4zM270.5 216.3h3.9v1.9h-3.9zM290.6 230.7h2.0v1.9h-2.0zM323.1 209.5h3.3v3.0h-3.3zM273.5 202.7h4.0v4.1h-4.0zM321.0 206.9h1.9v4.3h-1.9zM278.4 206.3h2.6v3.0h-2.6zM261.2 202.3h3.6v3.9h-3.6zM301.1 219.5h4.0v2.5h-4.0zM284.6 203.6h2.2v4.5h-2.2zM323.3 207.2h3.3v1.8h-3.3zM269.7 214.9h3.5v2.2h-3.5zM295.6 188.5h5.9v1.9h-5.9zM249.1 188.7h3.3v7.6h-3.3zM311.5 201.2h2.8v2.0h-2.8zM323.7 195.0h4.2v3.5h-4.2zM318.8 228.0h2.8v1.8h-2.8zM314.1 234.6h2.4v4.5h-2.4zM283.2 191.7h4.3v4.4h-4.3zM265.7 214.7h4.4v3.2h-4.4zM310.1 204.9h2.7v3.6h-2.7zM275.5 230.4h7.8v4.5h-7.8zM319.7 207.9h3.4v2.9h-3.4zM322.0 196.2h1.7v4.5h-1.7zM260.4 191.6h4.0v4.5h-4.0zM253.4 190.4h3.1v1.8h-3.1zM247.7 236.7h2.8v3.0h-2.8zM259.1 196.7h2.9v2.5h-2.9zM322.3 190.1h2.0v3.5h-2.0zM284.7 232.4h2.4v2.2h-2.4zM312.3 228.0h1.9v4.3h-1.9zM271.7 209.3h3.5v1.6h-3.5zM294.3 230.5h2.2v4.2h-2.2zM313.5 231.2h3.5v2.0h-3.5zM317.7 192.3h3.1v1.9h-3.1zM274.1 217.0h3.4v3.5h-3.4zM291.5 198.7h3.0v4.1h-3.0z"/><path fill="#6cc432" d="M299.0 223.6h3.6v1.8h-3.6zM298.6 227.3h2.2v2.0h-2.2zM285.1 197.0h3.5v3.6h-3.5zM277.3 232.3h3.7v4.5h-3.7zM261.3 209.7h4.4v1.6h-4.4zM261.2 234.3h4.2v1.6h-4.2zM258.7 227.2h3.9v3.8h-3.9zM276.9 204.1h1.7v3.6h-1.7zM267.8 196.8h2.3v4.0h-2.3zM316.8 231.1h3.2v4.4h-3.2zM275.7 229.9h3.2v3.5h-3.2zM291.6 186.1h2.3v4.1h-2.3zM313.0 199.8h1.9v4.2h-1.9zM267.8 230.2h2.7v1.9h-2.7zM266.5 188.2h4.4v3.9h-4.4zM270.1 224.1h2.4v3.8h-2.4zM281.8 225.0h6.4v4.2h-6.4zM273.8 200.4h2.3v1.7h-2.3zM290.1 226.5h4.6v3.9h-4.6zM271.7 187.7h3.8v1.9h-3.8zM271.7 221.2h3.9v2.6h-3.9zM292.4 215.5h2.2v3.2h-2.2zM278.2 186.7h1.9v4.4h-1.9zM283.1 219.5h1.6v2.3h-1.6zM316.4 189.5h1.6v1.8h-1.6zM298.2 231.3h3.2v3.3h-3.2zM281.0 190.0h3.4v5.3h-3.4zM257.3 227.6h4.4v5.3h-4.4zM277.1 207.5h2.2v4.1h-2.2zM274.0 225.3h3.6v2.3h-3.6zM315.1 226.4h3.7v3.5h-3.7zM267.3 200.8h2.4v2.7h-2.4zM284.5 217.8h2.2v1.5h-2.2zM309.1 200.2h2.9v4.2h-2.9zM266.7 234.7h2.4v3.4h-2.4zM306.3 204.1h3.3v3.5h-3.3zM292.5 217.1h3.2v3.3h-3.2zM311.2 209.7h4.4v4.0h-4.4zM289.4 208.4h1.6v3.3h-1.6zM243.8 224.4h4.2v3.7h-4.2z"/><path fill="#f0bc2e" d="M266.3 188.5h3.0v2.9h-3.0zM320.1 186.9h3.5v4.5h-3.5zM322.3 217.0h2.3v4.1h-2.3zM317.1 204.0h6.0v3.5h-6.0zM273.0 212.8h2.1v2.9h-2.1zM245.6 192.0h4.3v6.3h-4.3zM318.8 191.3h2.8v3.5h-2.8zM312.2 236.2h2.5v1.5h-2.5zM249.4 234.6h2.5v4.5h-2.5zM282.1 207.7h1.8v2.2h-1.8zM305.4 214.4h2.2v8.0h-2.2zM256.6 214.2h4.1v3.2h-4.1zM247.4 190.3h3.1v3.2h-3.1zM322.0 217.6h2.1v2.2h-2.1zM266.0 189.7h3.6v2.7h-3.6zM271.1 193.2h2.0v1.7h-2.0zM250.7 232.2h2.1v3.8h-2.1zM281.9 204.6h4.1v3.9h-4.1zM298.3 219.5h1.7v2.4h-1.7zM245.8 229.0h2.7v3.5h-2.7zM278.5 206.7h3.0v4.2h-3.0zM257.7 188.4h1.9v1.6h-1.9zM271.6 196.6h4.0v1.8h-4.0zM318.5 188.8h2.7v4.2h-2.7zM265.2 187.7h3.0v4.3h-3.0zM315.8 204.8h3.9v3.3h-3.9zM322.7 187.2h4.6v4.4h-4.6zM319.4 214.8h2.7v4.1h-2.7zM322.5 189.3h3.5v2.0h-3.5zM250.1 215.7h3.7v2.0h-3.7zM320.2 198.4h2.1v6.2h-2.1zM252.8 219.2h5.4v1.7h-5.4zM262.5 197.7h4.2v2.4h-4.2zM246.1 232.7h2.6v3.6h-2.6zM259.1 203.3h2.0v2.9h-2.0zM276.4 212.4h3.4v4.2h-3.4zM249.9 190.6h4.2v4.6h-4.2zM280.2 199.3h4.4v3.6h-4.4zM308.5 233.3h3.1v2.8h-3.1zM262.1 201.1h3.8v4.2h-3.8z"/><path fill="#e6341c" d="M270.6 226.0h6.2v2.7h-6.2zM281.9 219.7h4.3v4.0h-4.3zM281.8 231.4h1.8v4.1h-1.8zM268.1 229.3h4.0v2.5h-4.0zM244.9 199.0h1.6v1.6h-1.6zM273.9 221.4h3.4v3.8h-3.4zM278.5 218.8h2.7v2.7h-2.7zM276.8 218.6h2.5v2.3h-2.5zM269.4 233.9h1.9v7.7h-1.9zM245.9 225.0h2.0v3.3h-2.0zM259.3 200.2h3.6v4.2h-3.6zM302.0 226.2h4.4v2.5h-4.4zM272.2 226.8h3.6v6.6h-3.6zM256.4 206.6h2.7v3.9h-2.7zM304.1 227.9h4.1v3.1h-4.1zM264.3 220.9h3.4v3.3h-3.4zM298.8 225.9h3.5v2.8h-3.5zM276.6 216.1h2.5v4.0h-2.5zM290.8 193.8h2.7v3.7h-2.7zM285.7 234.2h3.7v4.4h-3.7zM265.4 235.6h2.4v1.8h-2.4zM302.2 222.9h2.5v2.2h-2.5zM270.5 234.4h1.7v3.0h-1.7zM249.4 197.4h4.3v4.1h-4.3zM305.1 203.6h4.3v3.1h-4.3zM299.3 197.9h2.6v3.5h-2.6zM298.2 189.2h4.5v3.1h-4.5zM264.1 228.9h2.4v8.0h-2.4zM256.5 231.1h2.6v2.0h-2.6zM299.3 235.3h4.5v4.4h-4.5zM259.6 233.9h2.4v2.0h-2.4zM255.1 191.6h5.8v3.9h-5.8zM293.0 186.6h4.4v3.3h-4.4zM260.8 207.6h3.7v3.8h-3.7zM292.0 190.9h1.7v5.4h-1.7zM286.1 220.3h2.7v1.6h-2.7zM308.7 208.2h3.7v2.3h-3.7zM307.5 193.3h4.1v2.0h-4.1zM270.1 201.0h3.7v8.4h-3.7zM277.4 215.3h2.8v1.9h-2.8z"/><path fill="#6cc432" d="M315.1 199.4h4.1v4.0h-4.1zM276.5 221.3h2.2v1.6h-2.2zM311.6 198.0h2.1v4.1h-2.1zM283.2 195.9h2.6v3.3h-2.6zM281.8 191.5h1.7v4.1h-1.7zM305.2 210.0h3.5v3.6h-3.5zM255.1 227.1h4.2v1.9h-4.2zM270.2 208.4h1.8v3.3h-1.8zM288.2 207.7h6.0v2.1h-6.0zM292.6 196.5h3.4v2.2h-3.4zM256.8 216.0h4.4v2.6h-4.4zM247.3 206.0h3.0v4.4h-3.0zM314.0 228.5h3.5v2.8h-3.5zM296.0 211.5h3.9v6.1h-3.9zM283.3 206.7h5.3v2.8h-5.3z"/><path fill="#e6341c" d="M257.9 196.7h3.8v3.7h-3.8z"/><path fill="#ec6420" d="M299.5 229.6h2.0v3.1h-2.0zM296.7 191.1h3.1v4.3h-3.1zM295.1 201.0h4.1v1.7h-4.1zM297.7 193.9h2.4v3.5h-2.4zM292.0 231.6h1.6v3.1h-1.6zM290.9 236.1h1.7v3.6h-1.7zM254.8 204.4h3.9v3.1h-3.9zM311.7 208.5h3.6v4.4h-3.6zM259.1 206.7h4.0v3.0h-4.0zM262.6 213.2h4.1v2.6h-4.1zM311.5 229.2h3.1v1.6h-3.1zM296.6 233.8h3.2v2.6h-3.2zM247.9 205.0h4.3v4.0h-4.3zM255.7 226.4h1.9v3.1h-1.9zM320.2 200.7h2.5v4.3h-2.5zM313.7 236.0h7.7v3.5h-7.7zM260.1 226.3h2.6v3.9h-2.6zM312.6 209.7h3.2v3.1h-3.2zM284.9 188.7h4.2v2.0h-4.2zM267.3 217.7h4.4v7.3h-4.4zM254.7 205.3h2.1v3.6h-2.1zM285.8 186.3h4.2v4.3h-4.2zM305.8 211.0h3.7v3.6h-3.7zM293.0 237.4h3.0v2.1h-3.0zM319.0 202.5h4.0v1.6h-4.0zM268.2 208.7h2.7v4.2h-2.7zM308.2 206.8h7.9v3.2h-7.9zM293.3 191.0h1.7v2.6h-1.7zM297.3 200.2h2.5v6.5h-2.5zM295.5 232.5h2.0v8.1h-2.0z"/></g><path fill="#72c832" d="M286.4 220.0h1.5v1.5h-1.5zM288.3 235.0h1.8v1.8h-1.8zM279.9 230.8h1.0v1.0h-1.0zM319.6 236.5h1.0v1.0h-1.0zM295.3 217.3h1.2v1.2h-1.2zM291.8 214.6h1.0v1.0h-1.0zM271.5 214.7h1.2v1.2h-1.2zM298.8 223.4h1.0v1.0h-1.0zM272.4 229.8h1.2v1.2h-1.2zM318.8 210.0h1.5v1.5h-1.5zM283.8 232.9h1.0v1.0h-1.0zM284.5 191.9h1.0v1.0h-1.0zM252.5 227.1h1.2v1.2h-1.2zM291.5 196.3h1.8v1.8h-1.8zM284.9 211.4h1.0v1.0h-1.0zM258.7 226.9h1.5v1.5h-1.5zM307.6 190.4h1.8v1.8h-1.8zM301.0 222.8h1.8v1.8h-1.8zM292.7 195.4h1.8v1.8h-1.8zM272.1 207.7h1.8v1.8h-1.8zM279.6 206.7h1.0v1.0h-1.0zM314.2 210.4h1.8v1.8h-1.8zM270.5 233.3h1.0v1.0h-1.0zM269.5 236.5h1.2v1.2h-1.2zM281.1 226.8h1.0v1.0h-1.0zM262.1 205.8h1.0v1.0h-1.0zM306.9 229.7h1.2v1.2h-1.2zM310.0 223.5h1.0v1.0h-1.0zM262.9 210.4h1.2v1.2h-1.2zM247.2 230.6h1.8v1.8h-1.8zM289.0 231.6h1.8v1.8h-1.8zM316.0 195.3h1.5v1.5h-1.5zM274.1 209.5h1.2v1.2h-1.2zM311.2 194.9h1.5v1.5h-1.5zM269.7 225.8h1.0v1.0h-1.0zM302.8 225.1h1.5v1.5h-1.5zM318.0 236.9h1.5v1.5h-1.5zM315.0 209.0h1.8v1.8h-1.8zM323.6 235.5h1.2v1.2h-1.2zM246.5 207.4h1.2v1.2h-1.2zM302.4 221.1h1.0v1.0h-1.0zM293.0 211.1h1.0v1.0h-1.0zM285.4 217.0h1.0v1.0h-1.0zM254.0 228.6h1.2v1.2h-1.2zM273.5 197.9h1.0v1.0h-1.0zM274.0 224.8h1.8v1.8h-1.8zM312.3 202.3h1.2v1.2h-1.2zM278.9 220.4h1.8v1.8h-1.8zM267.7 208.6h1.5v1.5h-1.5zM312.7 206.7h1.0v1.0h-1.0zM287.5 225.9h1.5v1.5h-1.5zM290.6 208.1h1.8v1.8h-1.8zM320.7 205.4h1.2v1.2h-1.2zM311.1 216.2h1.8v1.8h-1.8zM310.3 217.2h1.8v1.8h-1.8zM272.3 223.9h1.8v1.8h-1.8zM304.3 190.4h1.8v1.8h-1.8zM313.7 228.6h1.2v1.2h-1.2zM297.4 228.1h1.8v1.8h-1.8zM278.2 214.4h1.2v1.2h-1.2zM305.1 202.1h1.2v1.2h-1.2zM322.1 229.6h1.0v1.0h-1.0zM280.4 225.3h1.8v1.8h-1.8zM288.2 200.9h1.8v1.8h-1.8zM276.8 200.8h1.8v1.8h-1.8zM281.6 220.9h1.2v1.2h-1.2zM284.0 194.2h1.5v1.5h-1.5zM284.2 214.2h1.2v1.2h-1.2zM279.1 210.6h1.8v1.8h-1.8zM321.7 191.2h1.8v1.8h-1.8zM249.5 228.4h1.0v1.0h-1.0zM269.8 237.3h1.0v1.0h-1.0zM279.1 234.6h1.2v1.2h-1.2zM249.7 223.7h1.2v1.2h-1.2zM292.7 212.7h1.8v1.8h-1.8zM289.5 231.9h1.5v1.5h-1.5zM307.0 195.0h1.8v1.8h-1.8zM287.8 211.7h1.8v1.8h-1.8zM283.2 202.9h1.5v1.5h-1.5zM283.9 228.4h1.8v1.8h-1.8zM313.9 192.2h1.8v1.8h-1.8zM286.7 218.3h1.2v1.2h-1.2zM277.7 225.2h1.5v1.5h-1.5zM268.1 222.9h1.2v1.2h-1.2zM312.1 223.4h1.8v1.8h-1.8zM271.5 192.6h1.0v1.0h-1.0zM269.0 215.0h1.0v1.0h-1.0zM259.9 200.4h1.2v1.2h-1.2zM292.1 197.5h1.2v1.2h-1.2zM308.3 195.1h1.0v1.0h-1.0zM259.7 227.0h1.0v1.0h-1.0zM320.6 198.0h1.5v1.5h-1.5zM288.6 218.0h1.0v1.0h-1.0zM275.3 208.1h1.2v1.2h-1.2zM318.3 190.8h1.0v1.0h-1.0zM301.7 221.7h1.0v1.0h-1.0zM283.1 218.1h1.8v1.8h-1.8zM271.0 199.8h1.8v1.8h-1.8zM277.0 195.0h1.0v1.0h-1.0zM321.1 212.5h1.2v1.2h-1.2zM303.8 224.9h1.5v1.5h-1.5zM319.7 201.6h1.0v1.0h-1.0zM289.8 230.7h1.5v1.5h-1.5zM269.3 217.9h1.2v1.2h-1.2zM275.5 210.0h1.2v1.2h-1.2zM290.0 214.6h1.0v1.0h-1.0zM275.2 227.5h1.5v1.5h-1.5zM309.2 193.5h1.2v1.2h-1.2zM272.0 230.2h1.5v1.5h-1.5zM246.7 191.2h1.0v1.0h-1.0zM251.3 192.3h1.5v1.5h-1.5zM301.6 211.6h1.0v1.0h-1.0zM275.8 196.1h1.0v1.0h-1.0zM268.5 189.5h1.2v1.2h-1.2zM310.6 218.9h1.8v1.8h-1.8zM297.6 210.3h1.5v1.5h-1.5zM293.6 224.1h1.2v1.2h-1.2zM275.0 232.4h1.5v1.5h-1.5zM291.6 218.6h1.0v1.0h-1.0zM275.7 215.1h1.8v1.8h-1.8zM289.5 205.1h1.8v1.8h-1.8zM301.5 228.0h1.8v1.8h-1.8zM302.2 233.9h1.8v1.8h-1.8zM318.4 236.4h1.5v1.5h-1.5zM312.8 226.9h1.5v1.5h-1.5zM306.4 193.3h1.5v1.5h-1.5zM291.3 236.9h1.2v1.2h-1.2zM292.3 199.0h1.5v1.5h-1.5zM315.5 227.1h1.5v1.5h-1.5zM270.6 202.9h1.5v1.5h-1.5zM277.2 216.6h1.0v1.0h-1.0zM267.5 223.5h1.0v1.0h-1.0zM289.6 227.4h1.2v1.2h-1.2zM292.3 215.5h1.0v1.0h-1.0zM302.7 192.6h1.0v1.0h-1.0zM264.6 213.5h1.5v1.5h-1.5zM323.2 220.0h1.2v1.2h-1.2zM295.0 218.0h1.2v1.2h-1.2zM287.4 195.1h1.8v1.8h-1.8zM305.7 199.4h1.2v1.2h-1.2zM295.7 217.2h1.0v1.0h-1.0zM308.8 205.9h1.8v1.8h-1.8zM324.1 192.1h1.5v1.5h-1.5zM278.1 223.0h1.5v1.5h-1.5zM260.3 209.9h1.5v1.5h-1.5zM252.3 199.5h1.5v1.5h-1.5zM301.3 206.0h1.2v1.2h-1.2zM308.6 212.3h1.2v1.2h-1.2zM278.4 224.6h1.8v1.8h-1.8zM325.1 228.9h1.0v1.0h-1.0zM257.3 213.7h1.2v1.2h-1.2zM300.0 208.4h1.2v1.2h-1.2zM275.3 193.2h1.2v1.2h-1.2zM252.4 234.6h1.5v1.5h-1.5zM293.6 194.8h1.8v1.8h-1.8zM252.8 198.7h1.2v1.2h-1.2zM301.2 217.4h1.8v1.8h-1.8zM270.3 199.7h1.8v1.8h-1.8zM281.0 217.6h1.0v1.0h-1.0zM246.4 208.6h1.2v1.2h-1.2zM298.7 231.0h1.5v1.5h-1.5zM272.3 230.5h1.0v1.0h-1.0zM290.8 199.4h1.2v1.2h-1.2zM310.9 234.4h1.2v1.2h-1.2zM283.5 191.4h1.8v1.8h-1.8zM310.0 194.9h1.2v1.2h-1.2zM287.1 236.1h1.0v1.0h-1.0zM305.2 227.7h1.0v1.0h-1.0zM270.1 206.5h1.5v1.5h-1.5zM293.4 217.0h1.2v1.2h-1.2zM276.1 205.4h1.2v1.2h-1.2zM312.5 196.8h1.8v1.8h-1.8zM246.6 200.8h1.0v1.0h-1.0zM247.4 213.2h1.8v1.8h-1.8zM264.6 236.6h1.2v1.2h-1.2zM304.2 224.6h1.8v1.8h-1.8zM297.5 220.8h1.5v1.5h-1.5zM263.4 196.1h1.8v1.8h-1.8zM268.0 218.1h1.8v1.8h-1.8zM292.6 194.4h1.2v1.2h-1.2zM277.8 227.0h1.2v1.2h-1.2zM277.9 208.6h1.2v1.2h-1.2zM307.7 204.6h1.0v1.0h-1.0zM250.2 229.4h1.8v1.8h-1.8zM308.8 204.0h1.5v1.5h-1.5zM309.2 194.0h1.0v1.0h-1.0zM269.4 231.3h1.5v1.5h-1.5zM266.6 236.3h1.5v1.5h-1.5zM263.7 225.6h1.0v1.0h-1.0zM284.8 194.8h1.5v1.5h-1.5zM283.4 218.8h1.2v1.2h-1.2zM272.5 224.4h1.2v1.2h-1.2zM297.4 194.3h1.8v1.8h-1.8zM259.8 225.3h1.8v1.8h-1.8zM291.4 235.0h1.0v1.0h-1.0zM289.7 219.3h1.5v1.5h-1.5zM272.5 212.4h1.5v1.5h-1.5zM297.3 227.4h1.8v1.8h-1.8zM289.2 234.1h1.2v1.2h-1.2zM304.4 193.6h1.5v1.5h-1.5zM275.8 227.7h1.2v1.2h-1.2zM310.8 211.8h1.2v1.2h-1.2zM287.8 194.5h1.0v1.0h-1.0z"/></g><path fill="#7ed23a" d="M241.7 171.5h1.9v1.9h-1.9zM241.2 176.2h1.9v1.9h-1.9zM242.2 177.2h1.9v1.9h-1.9zM240.7 178.2h1.9v1.9h-1.9zM246.4 176.2h1.9v1.9h-1.9zM247.4 178.8h1.9v1.9h-1.9zM250.5 178.8h1.9v1.9h-1.9zM252.1 178.2h1.9v1.9h-1.9zM253.1 174.1h1.9v1.9h-1.9zM255.2 178.8h1.9v1.9h-1.9zM257.2 176.2h1.9v1.9h-1.9zM258.8 176.7h1.9v1.9h-1.9zM259.8 174.1h1.9v1.9h-1.9zM260.8 178.2h1.9v1.9h-1.9zM263.4 174.6h1.9v1.9h-1.9zM264.9 175.1h1.9v1.9h-1.9zM265.4 174.6h1.9v1.9h-1.9zM268.1 171.5h1.9v1.9h-1.9zM269.6 172.6h1.9v1.9h-1.9zM271.7 172.6h1.9v1.9h-1.9zM268.6 176.2h1.9v1.9h-1.9zM270.2 178.2h1.9v1.9h-1.9zM271.7 179.2h1.9v1.9h-1.9zM235.0 181.4h1.9v1.9h-1.9zM235.0 184.5h1.9v1.9h-1.9zM240.1 181.4h1.9v1.9h-1.9zM244.2 179.8h1.9v1.9h-1.9zM245.2 181.4h1.9v1.9h-1.9zM245.8 182.4h1.9v1.9h-1.9zM249.5 182.4h1.9v1.9h-1.9zM252.6 185.5h1.9v1.9h-1.9zM250.0 186.5h1.9v1.9h-1.9zM259.8 183.9h1.9v1.9h-1.9zM265.9 181.4h1.9v1.9h-1.9zM269.6 183.4h1.9v1.9h-1.9zM270.7 184.5h1.9v1.9h-1.9zM228.2 183.9h1.9v1.9h-1.9zM229.8 183.9h1.9v1.9h-1.9zM226.7 185.5h1.9v1.9h-1.9zM230.8 187.1h1.9v1.9h-1.9zM238.6 186.5h1.9v1.9h-1.9zM272.8 187.1h1.9v1.9h-1.9zM272.6 172.6h1.9v1.9h-1.9zM275.2 171.0h1.9v1.9h-1.9zM277.2 171.2h1.9v1.9h-1.9zM276.2 174.1h1.9v1.9h-1.9zM278.2 174.6h1.9v1.9h-1.9zM280.4 171.5h1.9v1.9h-1.9zM281.9 172.0h1.9v1.9h-1.9zM283.4 172.4h1.9v1.9h-1.9zM287.1 172.6h1.9v1.9h-1.9zM289.7 171.0h1.9v1.9h-1.9zM290.7 172.6h1.9v1.9h-1.9zM292.8 175.7h1.9v1.9h-1.9zM294.4 175.1h1.9v1.9h-1.9zM296.4 174.6h1.9v1.9h-1.9zM296.9 176.2h1.9v1.9h-1.9zM295.9 177.2h1.9v1.9h-1.9zM299.4 171.5h1.9v1.9h-1.9zM299.4 175.1h1.9v1.9h-1.9zM301.1 177.7h1.9v1.9h-1.9zM302.1 178.2h1.9v1.9h-1.9zM287.6 179.2h1.9v1.9h-1.9zM288.7 180.8h1.9v1.9h-1.9zM287.1 183.4h1.9v1.9h-1.9zM290.2 184.5h1.9v1.9h-1.9zM289.7 186.5h1.9v1.9h-1.9zM276.2 186.2h1.9v1.9h-1.9zM273.1 187.1h1.9v1.9h-1.9zM281.9 187.1h1.9v1.9h-1.9zM303.2 181.4h1.9v1.9h-1.9zM304.7 180.2h1.9v1.9h-1.9zM305.7 179.8h1.9v1.9h-1.9zM302.6 183.9h1.9v1.9h-1.9zM305.7 185.0h1.9v1.9h-1.9zM307.8 175.7h1.9v1.9h-1.9zM309.4 179.2h1.9v1.9h-1.9zM310.9 175.7h1.9v1.9h-1.9zM313.4 175.1h1.9v1.9h-1.9zM313.9 179.2h1.9v1.9h-1.9zM310.9 182.4h1.9v1.9h-1.9zM313.4 183.4h1.9v1.9h-1.9zM314.4 184.5h1.9v1.9h-1.9zM311.4 185.5h1.9v1.9h-1.9zM316.1 172.0h1.9v1.9h-1.9zM317.1 175.7h1.9v1.9h-1.9zM318.7 177.2h1.9v1.9h-1.9zM321.2 178.2h1.9v1.9h-1.9zM319.7 185.5h1.9v1.9h-1.9zM317.9 177.0h1.9v1.9h-1.9zM321.8 178.5h1.9v1.9h-1.9zM324.1 177.7h1.9v1.9h-1.9zM325.6 180.8h1.9v1.9h-1.9zM328.7 181.6h1.9v1.9h-1.9zM330.2 178.5h1.9v1.9h-1.9zM331.9 177.7h1.9v1.9h-1.9zM333.4 174.6h1.9v1.9h-1.9zM333.4 179.2h1.9v1.9h-1.9zM331.1 182.4h1.9v1.9h-1.9zM332.6 183.9h1.9v1.9h-1.9zM337.2 179.2h1.9v1.9h-1.9zM326.4 183.9h1.9v1.9h-1.9zM323.2 185.5h1.9v1.9h-1.9zM320.2 185.5h1.9v1.9h-1.9zM327.9 189.4h1.9v1.9h-1.9zM331.9 187.8h1.9v1.9h-1.9zM333.4 188.6h1.9v1.9h-1.9zM334.9 190.2h1.9v1.9h-1.9zM335.7 191.7h1.9v1.9h-1.9zM329.4 194.8h1.9v1.9h-1.9zM331.9 196.4h1.9v1.9h-1.9zM336.4 195.6h1.9v1.9h-1.9zM337.2 197.9h1.9v1.9h-1.9zM336.4 200.2h1.9v1.9h-1.9zM337.2 202.6h1.9v1.9h-1.9zM340.4 193.2h1.9v1.9h-1.9zM335.7 204.2h1.9v1.9h-1.9zM337.8 203.8h1.9v1.9h-1.9zM339.9 204.6h1.9v1.9h-1.9zM333.7 210.4h1.9v1.9h-1.9zM336.8 211.4h1.9v1.9h-1.9zM331.6 214.5h1.9v1.9h-1.9zM327.4 214.5h1.9v1.9h-1.9zM333.7 218.7h1.9v1.9h-1.9zM332.6 232.1h1.9v1.9h-1.9zM330.6 236.2h1.9v1.9h-1.9zM329.4 238.2h1.9v1.9h-1.9zM331.6 239.4h1.9v1.9h-1.9zM335.7 236.2h1.9v1.9h-1.9zM326.4 236.2h1.9v1.9h-1.9zM334.7 242.5h1.9v1.9h-1.9zM335.7 247.6h1.9v1.9h-1.9zM324.2 243.5h1.9v1.9h-1.9zM327.4 246.6h1.9v1.9h-1.9zM320.2 246.6h1.9v1.9h-1.9zM321.2 250.8h1.9v1.9h-1.9zM326.4 250.8h1.9v1.9h-1.9zM330.6 251.8h1.9v1.9h-1.9zM318.1 252.8h1.9v1.9h-1.9zM328.4 253.9h1.9v1.9h-1.9zM230.9 187.8h1.9v1.9h-1.9zM226.2 191.7h1.9v1.9h-1.9zM226.2 196.9h1.9v1.9h-1.9zM229.0 196.0h1.9v1.9h-1.9zM231.6 196.5h1.9v1.9h-1.9zM223.7 199.6h1.9v1.9h-1.9zM225.7 199.9h1.9v1.9h-1.9zM227.0 200.2h1.9v1.9h-1.9zM232.9 200.9h1.9v1.9h-1.9zM232.2 202.6h1.9v1.9h-1.9zM226.2 203.5h1.9v1.9h-1.9zM227.7 205.4h1.9v1.9h-1.9zM229.6 206.8h1.9v1.9h-1.9zM231.6 207.4h1.9v1.9h-1.9zM229.0 209.4h1.9v1.9h-1.9zM230.9 210.7h1.9v1.9h-1.9zM229.0 212.7h1.9v1.9h-1.9zM227.0 214.6h1.9v1.9h-1.9zM238.8 201.5h1.9v1.9h-1.9zM236.2 216.6h1.9v1.9h-1.9zM230.2 219.2h1.9v1.9h-1.9zM228.7 225.6h1.9v1.9h-1.9zM231.4 227.9h1.9v1.9h-1.9zM233.5 229.2h1.9v1.9h-1.9zM230.8 231.4h1.9v1.9h-1.9zM234.9 232.5h1.9v1.9h-1.9zM237.0 230.7h1.9v1.9h-1.9zM241.8 230.0h1.9v1.9h-1.9zM228.7 234.1h1.9v1.9h-1.9zM236.2 234.1h1.9v1.9h-1.9zM237.7 235.2h1.9v1.9h-1.9zM239.0 235.5h1.9v1.9h-1.9zM242.5 237.6h1.9v1.9h-1.9zM239.0 239.0h1.9v1.9h-1.9zM230.8 240.2h1.9v1.9h-1.9zM232.8 240.2h1.9v1.9h-1.9zM231.4 242.4h1.9v1.9h-1.9zM233.5 243.1h1.9v1.9h-1.9zM243.9 241.0h1.9v1.9h-1.9zM245.2 242.4h1.9v1.9h-1.9zM249.4 238.2h1.9v1.9h-1.9zM254.2 240.2h1.9v1.9h-1.9zM237.0 243.8h1.9v1.9h-1.9zM248.0 244.9h1.9v1.9h-1.9zM245.9 247.7h1.9v1.9h-1.9zM232.8 248.6h1.9v1.9h-1.9zM237.0 247.9h1.9v1.9h-1.9zM242.5 251.4h1.9v1.9h-1.9zM246.6 253.4h1.9v1.9h-1.9zM254.2 250.7h1.9v1.9h-1.9zM255.6 252.8h1.9v1.9h-1.9zM253.5 254.8h1.9v1.9h-1.9zM257.7 250.7h1.9v1.9h-1.9zM258.2 255.4h1.9v1.9h-1.9zM254.9 256.9h1.9v1.9h-1.9zM266.7 239.6h1.9v1.9h-1.9zM269.9 239.1h1.9v1.9h-1.9zM267.2 242.4h1.9v1.9h-1.9zM268.9 244.6h1.9v1.9h-1.9zM271.1 246.2h1.9v1.9h-1.9zM272.2 246.7h1.9v1.9h-1.9zM268.4 247.8h1.9v1.9h-1.9zM265.6 249.5h1.9v1.9h-1.9zM267.2 250.2h1.9v1.9h-1.9zM276.4 239.6h1.9v1.9h-1.9zM279.8 240.7h1.9v1.9h-1.9zM281.9 239.6h1.9v1.9h-1.9zM278.2 247.2h1.9v1.9h-1.9zM285.2 240.2h1.9v1.9h-1.9zM285.8 242.4h1.9v1.9h-1.9zM286.9 244.0h1.9v1.9h-1.9zM288.4 245.1h1.9v1.9h-1.9zM290.2 247.2h1.9v1.9h-1.9zM291.8 240.7h1.9v1.9h-1.9zM292.4 239.1h1.9v1.9h-1.9zM289.6 239.6h1.9v1.9h-1.9zM294.4 246.2h1.9v1.9h-1.9zM296.7 241.8h1.9v1.9h-1.9zM302.7 240.2h1.9v1.9h-1.9zM303.8 236.9h1.9v1.9h-1.9zM305.9 245.6h1.9v1.9h-1.9zM308.2 247.2h1.9v1.9h-1.9zM305.4 250.0h1.9v1.9h-1.9zM306.4 249.5h1.9v1.9h-1.9zM300.4 253.2h1.9v1.9h-1.9zM315.8 251.6h1.9v1.9h-1.9zM315.2 254.9h1.9v1.9h-1.9zM316.9 253.8h1.9v1.9h-1.9zM318.4 245.1h1.9v1.9h-1.9zM318.4 249.5h1.9v1.9h-1.9zM262.4 255.4h1.9v1.9h-1.9zM287.9 237.5h1.9v1.9h-1.9zM283.6 238.0h1.9v1.9h-1.9zM320.6 250.2h1.9v1.9h-1.9zM321.2 253.8h1.9v1.9h-1.9zM323.7 243.4h1.9v1.9h-1.9zM326.2 236.2h1.9v1.9h-1.9zM327.4 246.0h1.9v1.9h-1.9zM326.9 250.2h1.9v1.9h-1.9zM328.4 254.2h1.9v1.9h-1.9zM330.4 251.2h1.9v1.9h-1.9zM329.9 238.8h1.9v1.9h-1.9zM330.9 239.8h1.9v1.9h-1.9zM331.9 235.2h1.9v1.9h-1.9z"/><rect x="371" y="154" width="175.0" height="113.4" fill="#0c0c0e"/><rect x="371.5" y="154.5" width="174.0" height="112.4" fill="none" stroke="#000" stroke-width="1"/><rect x="410.5" y="161.5" width="129.2" height="100.5" fill="#09090b"/><path d="M410.5 161.0V263.0M419.5 161.0V263.0M428.5 161.0V263.0M438.5 161.0V263.0M447.5 161.0V263.0M456.5 161.0V263.0M465.5 161.0V263.0M475.5 161.0V263.0M484.5 161.0V263.0M493.5 161.0V263.0M502.5 161.0V263.0M512.5 161.0V263.0M521.5 161.0V263.0M530.5 161.0V263.0M539.5 161.0V263.0M410.0 161.5H540.0M410.0 170.5H540.0M410.0 179.5H540.0M410.0 188.5H540.0M410.0 198.5H540.0M410.0 207.5H540.0M410.0 216.5H540.0M410.0 225.5H540.0M410.0 234.5H540.0M410.0 243.5H540.0M410.0 252.5H540.0M410.0 262.5H540.0" stroke="#3a3a3c" stroke-width="1" fill="none" shape-rendering="crispEdges"/><rect x="385.5" y="197.7" width="10.6" height="60.0" fill="url(#cbg)"/><text x="390.8" y="193.4" font-family="Liberation Sans" font-size="5.8" fill="#eee" text-anchor="middle">&gt;0.009</text><text x="390.8" y="264.3" font-family="Liberation Sans" font-size="5.9" fill="#eee" text-anchor="middle">0.51e-3</text><text transform="translate(376.6,227.7) rotate(-90)" font-family="Liberation Sans" font-size="5.8" fill="#d8d8d8" text-anchor="middle">Resolution (m/px)</text><rect x="431.6" y="189.0" width="80.2" height="47.8" fill="#f0ae34"/><clipPath id="c5"><rect x="431.6" y="189.0" width="80.2" height="47.8"/></clipPath><g clip-path="url(#c5)"><g filter="url(#blur2)"><rect x="431.3" y="188.7" width="8.6" height="8.6" fill="#f0a42c"/><rect x="439.3" y="188.7" width="8.6" height="8.6" fill="#f0a42c"/><rect x="447.3" y="188.7" width="8.6" height="8.6" fill="#f0a42c"/><rect x="455.4" y="188.7" width="8.6" height="8.6" fill="#f0a42c"/><rect x="463.4" y="188.7" width="8.6" height="8.6" fill="#f0b830"/><rect x="471.4" y="188.7" width="8.6" height="8.6" fill="#f0a42c"/><rect x="479.4" y="188.7" width="8.6" height="8.6" fill="#f0b830"/><rect x="487.4" y="188.7" width="8.6" height="8.6" fill="#f0b830"/><rect x="495.5" y="188.7" width="8.6" height="8.6" fill="#f0c832"/><rect x="503.5" y="188.7" width="8.6" height="8.6" fill="#f0a42c"/><rect x="431.3" y="196.7" width="8.6" height="8.6" fill="#f0a42c"/><rect x="439.3" y="196.7" width="8.6" height="8.6" fill="#f0a42c"/><rect x="447.3" y="196.7" width="8.6" height="8.6" fill="#f0c832"/><rect x="455.4" y="196.7" width="8.6" height="8.6" fill="#f0c832"/><rect x="463.4" y="196.7" width="8.6" height="8.6" fill="#f0b830"/><rect x="471.4" y="196.7" width="8.6" height="8.6" fill="#f0a42c"/><rect x="479.4" y="196.7" width="8.6" height="8.6" fill="#f0c832"/><rect x="487.4" y="196.7" width="8.6" height="8.6" fill="#f0c832"/><rect x="495.5" y="196.7" width="8.6" height="8.6" fill="#f0a42c"/><rect x="503.5" y="196.7" width="8.6" height="8.6" fill="#f0a42c"/><rect x="431.3" y="204.6" width="8.6" height="8.6" fill="#f0b830"/><rect x="439.3" y="204.6" width="8.6" height="8.6" fill="#f0a42c"/><rect x="447.3" y="204.6" width="8.6" height="8.6" fill="#f0b830"/><rect x="455.4" y="204.6" width="8.6" height="8.6" fill="#f0a42c"/><rect x="463.4" y="204.6" width="8.6" height="8.6" fill="#f0a42c"/><rect x="471.4" y="204.6" width="8.6" height="8.6" fill="#f0b830"/><rect x="479.4" y="204.6" width="8.6" height="8.6" fill="#f0a42c"/><rect x="487.4" y="204.6" width="8.6" height="8.6" fill="#f0b830"/><rect x="495.5" y="204.6" width="8.6" height="8.6" fill="#f0a42c"/><rect x="503.5" y="204.6" width="8.6" height="8.6" fill="#f0b830"/><rect x="431.3" y="212.6" width="8.6" height="8.6" fill="#f0c832"/><rect x="439.3" y="212.6" width="8.6" height="8.6" fill="#f0c832"/><rect x="447.3" y="212.6" width="8.6" height="8.6" fill="#f0a42c"/><rect x="455.4" y="212.6" width="8.6" height="8.6" fill="#f0a42c"/><rect x="463.4" y="212.6" width="8.6" height="8.6" fill="#f0c832"/><rect x="471.4" y="212.6" width="8.6" height="8.6" fill="#f0a42c"/><rect x="479.4" y="212.6" width="8.6" height="8.6" fill="#f0c832"/><rect x="487.4" y="212.6" width="8.6" height="8.6" fill="#f0a42c"/><rect x="495.5" y="212.6" width="8.6" height="8.6" fill="#f0a42c"/><rect x="503.5" y="212.6" width="8.6" height="8.6" fill="#f0a42c"/><rect x="431.3" y="220.6" width="8.6" height="8.6" fill="#f0a42c"/><rect x="439.3" y="220.6" width="8.6" height="8.6" fill="#f0b830"/><rect x="447.3" y="220.6" width="8.6" height="8.6" fill="#f0b830"/><rect x="455.4" y="220.6" width="8.6" height="8.6" fill="#f0a42c"/><rect x="463.4" y="220.6" width="8.6" height="8.6" fill="#f0b830"/><rect x="471.4" y="220.6" width="8.6" height="8.6" fill="#f0a42c"/><rect x="479.4" y="220.6" width="8.6" height="8.6" fill="#f0c832"/><rect x="487.4" y="220.6" width="8.6" height="8.6" fill="#f0a42c"/><rect x="495.5" y="220.6" width="8.6" height="8.6" fill="#f0a42c"/><rect x="503.5" y="220.6" width="8.6" height="8.6" fill="#f0a42c"/><rect x="431.3" y="228.5" width="8.6" height="8.6" fill="#f0a42c"/><rect x="439.3" y="228.5" width="8.6" height="8.6" fill="#f0a42c"/><rect x="447.3" y="228.5" width="8.6" height="8.6" fill="#f0a42c"/><rect x="455.4" y="228.5" width="8.6" height="8.6" fill="#f0a42c"/><rect x="463.4" y="228.5" width="8.6" height="8.6" fill="#e6341c"/><rect x="471.4" y="228.5" width="8.6" height="8.6" fill="#f0a42c"/><rect x="479.4" y="228.5" width="8.6" height="8.6" fill="#f0a42c"/><rect x="487.4" y="228.5" width="8.6" height="8.6" fill="#f0a42c"/><rect x="495.5" y="228.5" width="8.6" height="8.6" fill="#f0b830"/><rect x="503.5" y="228.5" width="8.6" height="8.6" fill="#f0a42c"/></g><g filter="url(#blur05)"><path fill="#f0a42c" d="M459.3 211.2h2.0v1.4h-2.0zM450.6 231.5h1.7v1.9h-1.7zM469.1 227.0h1.0v1.2h-1.0zM463.3 205.5h1.5v1.8h-1.5zM494.4 219.5h1.1v2.4h-1.1zM444.0 187.8h2.4v1.6h-2.4zM438.3 197.6h1.7v2.3h-1.7zM447.2 208.7h1.2v1.1h-1.2zM484.5 223.5h2.1v1.1h-2.1zM488.1 224.2h2.4v2.1h-2.4zM448.9 197.1h1.1v2.1h-1.1zM492.4 225.7h4.6v1.6h-4.6zM483.6 208.0h1.1v1.6h-1.1zM479.9 235.5h2.3v1.8h-2.3zM509.6 202.8h1.2v1.6h-1.2zM482.9 234.7h2.3v1.6h-2.3zM466.6 228.9h2.0v1.3h-2.0zM497.6 225.0h2.9v2.1h-2.9zM473.4 222.0h1.4v1.5h-1.4zM470.5 193.5h1.9v2.1h-1.9zM431.1 204.3h1.5v2.5h-1.5zM503.0 217.3h1.2v2.4h-1.2zM490.6 214.8h1.3v2.1h-1.3zM473.0 197.1h2.4v2.2h-2.4zM485.0 194.0h1.5v3.7h-1.5zM458.4 192.2h1.4v2.4h-1.4zM475.1 232.5h1.5v2.3h-1.5zM478.7 225.1h2.0v1.5h-2.0zM467.3 199.2h1.5v1.8h-1.5zM460.1 213.6h2.2v1.4h-2.2zM509.7 215.3h1.5v1.3h-1.5zM479.3 225.3h2.1v2.3h-2.1zM458.6 204.2h1.4v2.3h-1.4zM461.9 194.2h1.0v1.1h-1.0zM430.5 201.9h1.0v1.9h-1.0zM510.3 212.2h1.5v2.5h-1.5zM443.9 212.6h2.3v3.7h-2.3zM443.5 211.0h1.8v1.9h-1.8zM502.0 208.8h2.4v2.3h-2.4zM450.6 229.9h1.8v2.4h-1.8z"/><path fill="#f0a42c" d="M510.1 192.8h1.1v2.4h-1.1zM447.3 211.3h1.1v2.3h-1.1zM453.1 228.7h4.0v1.0h-4.0zM500.7 209.0h1.2v2.3h-1.2zM433.1 197.6h2.2v1.0h-2.2zM486.0 226.5h2.5v1.3h-2.5zM491.9 214.2h1.5v1.8h-1.5zM482.0 192.0h2.3v2.0h-2.3zM454.2 234.2h1.9v1.2h-1.9zM435.0 191.8h1.9v3.7h-1.9zM479.3 193.6h1.2v1.2h-1.2zM497.5 205.8h1.9v2.5h-1.9zM451.5 211.1h2.0v2.2h-2.0zM508.5 194.3h1.6v2.2h-1.6zM503.9 210.4h1.3v2.3h-1.3zM472.1 230.0h2.0v1.8h-2.0zM444.7 203.3h1.3v2.4h-1.3zM433.4 226.8h1.3v2.0h-1.3zM459.9 223.7h1.0v1.5h-1.0zM511.5 190.0h2.2v1.1h-2.2zM436.9 224.7h1.3v1.1h-1.3zM457.0 190.9h1.8v1.9h-1.8zM495.6 194.3h2.1v2.4h-2.1zM455.7 234.9h2.3v1.8h-2.3zM467.2 195.6h1.0v1.3h-1.0zM448.0 228.4h1.6v1.3h-1.6zM510.9 221.5h1.6v1.9h-1.6zM434.3 189.7h2.3v2.4h-2.3zM469.8 219.3h1.1v2.1h-1.1zM445.8 215.9h1.8v2.3h-1.8zM453.4 194.0h2.1v1.8h-2.1zM500.7 190.1h1.4v4.7h-1.4zM498.4 207.7h2.1v2.3h-2.1zM491.1 209.0h2.0v1.0h-2.0zM436.1 189.6h1.4v2.1h-1.4zM474.9 207.6h1.5v2.3h-1.5zM477.3 222.2h1.6v2.4h-1.6zM501.0 224.0h1.4v1.4h-1.4zM437.9 231.0h4.5v1.2h-4.5zM509.9 224.4h1.3v1.1h-1.3z"/><path fill="#f0b830" d="M489.6 209.8h2.0v2.4h-2.0zM502.2 230.5h2.0v2.2h-2.0zM454.8 211.1h1.8v3.5h-1.8zM443.9 222.4h1.7v2.1h-1.7zM505.2 212.6h1.3v1.9h-1.3zM445.9 223.8h1.1v2.4h-1.1zM494.5 216.3h1.1v2.5h-1.1zM490.1 188.9h1.1v2.1h-1.1zM438.0 212.0h2.8v1.6h-2.8zM442.5 197.7h1.2v1.9h-1.2zM481.4 207.0h1.4v1.5h-1.4zM512.0 201.8h1.1v2.5h-1.1zM494.4 222.9h1.5v1.9h-1.5zM484.2 188.0h2.3v1.0h-2.3zM438.9 210.5h1.2v1.4h-1.2zM483.1 231.4h1.4v2.2h-1.4zM447.0 222.5h1.4v1.4h-1.4zM509.1 234.2h2.0v1.2h-2.0zM455.1 223.8h1.1v1.7h-1.1zM433.2 204.6h3.7v1.8h-3.7zM484.8 193.1h1.0v2.2h-1.0zM449.3 226.5h1.8v2.4h-1.8zM453.2 219.2h2.5v2.2h-2.5zM431.6 235.3h1.7v1.8h-1.7zM465.2 224.4h2.2v2.3h-2.2zM448.4 207.0h2.3v2.0h-2.3zM467.3 226.3h2.4v1.3h-2.4zM506.9 217.0h2.4v1.9h-2.4zM488.9 187.6h1.3v2.0h-1.3zM475.5 210.5h1.8v2.3h-1.8zM451.3 223.2h1.5v1.4h-1.5zM449.8 217.7h1.3v1.8h-1.3zM475.8 196.6h2.0v1.8h-2.0zM472.0 192.8h1.4v1.7h-1.4zM432.7 234.6h1.6v1.3h-1.6zM474.2 190.3h2.0v1.8h-2.0zM468.5 203.1h2.3v1.0h-2.3zM438.4 204.8h1.8v2.4h-1.8zM431.5 208.8h3.9v1.6h-3.9zM482.8 230.0h1.5v1.8h-1.5z"/><path fill="#b8d636" d="M430.7 201.9h1.5v2.2h-1.5zM452.9 189.5h3.6v1.4h-3.6zM448.3 205.7h1.0v3.9h-1.0zM479.8 207.6h1.9v1.4h-1.9zM467.6 214.0h1.6v1.6h-1.6zM464.0 187.5h1.3v1.9h-1.3zM456.7 199.2h2.8v2.2h-2.8zM491.6 201.4h2.2v2.1h-2.2zM478.1 199.0h1.0v1.5h-1.0zM450.9 191.7h1.9v2.1h-1.9zM475.8 199.6h1.5v2.9h-1.5zM478.9 204.0h2.2v1.2h-2.2zM487.3 226.6h1.6v1.4h-1.6zM487.4 189.0h1.7v2.2h-1.7zM441.4 220.7h1.0v1.4h-1.0zM488.1 222.3h2.4v1.8h-2.4zM435.8 204.3h2.1v1.3h-2.1zM464.3 226.2h2.2v2.1h-2.2zM429.5 200.1h3.7v1.7h-3.7zM446.4 230.3h1.2v1.6h-1.2zM479.8 224.5h2.3v2.1h-2.3zM451.4 209.1h1.2v1.5h-1.2zM476.1 209.8h1.1v2.3h-1.1zM479.7 223.0h2.9v2.1h-2.9zM461.9 193.8h2.3v2.4h-2.3zM433.7 189.3h1.9v1.2h-1.9zM448.6 234.6h1.5v2.3h-1.5zM500.4 230.8h2.4v1.8h-2.4zM474.0 196.4h1.2v2.0h-1.2zM448.8 223.7h1.3v1.5h-1.3zM431.9 192.6h2.3v2.2h-2.3zM466.7 191.7h1.5v1.9h-1.5zM503.6 234.2h1.8v2.1h-1.8zM450.2 226.0h1.2v4.6h-1.2zM447.4 200.0h4.1v1.9h-4.1zM490.6 198.4h2.1v2.1h-2.1zM439.0 212.4h2.1v2.1h-2.1zM448.0 226.4h2.4v1.6h-2.4zM485.9 210.8h1.0v2.0h-1.0zM444.1 220.3h1.1v1.7h-1.1z"/><path fill="#f0b830" d="M443.3 221.0h1.1v1.8h-1.1zM485.9 206.0h3.4v1.9h-3.4zM501.9 201.3h1.6v1.0h-1.6zM433.4 209.9h1.0v2.1h-1.0zM501.8 226.4h1.5v1.8h-1.5zM446.2 230.5h1.3v1.5h-1.3zM462.2 206.4h2.1v1.9h-2.1zM498.9 196.9h1.8v1.8h-1.8zM497.8 197.6h1.5v2.5h-1.5zM495.9 228.4h1.9v1.4h-1.9zM492.6 214.3h1.2v1.3h-1.2zM511.4 208.8h2.1v4.1h-2.1zM487.2 236.6h1.1v1.5h-1.1zM454.8 222.8h1.8v1.4h-1.8zM431.8 235.1h2.4v3.9h-2.4zM449.2 213.3h1.9v1.9h-1.9zM501.7 231.2h3.4v1.1h-3.4zM495.7 207.3h1.4v2.5h-1.4zM484.8 227.9h1.3v2.5h-1.3zM491.3 211.9h2.1v1.4h-2.1zM439.1 208.5h1.2v1.5h-1.2zM478.1 194.7h2.5v1.5h-2.5zM445.4 207.4h2.0v1.3h-2.0zM487.1 210.8h2.1v1.5h-2.1zM465.8 223.5h1.2v1.9h-1.2zM444.7 223.7h2.4v2.2h-2.4zM461.9 219.2h1.2v2.8h-1.2zM482.4 185.9h1.9v4.3h-1.9zM487.1 188.3h1.5v1.1h-1.5zM498.4 200.7h1.0v1.7h-1.0zM448.7 212.3h2.0v1.3h-2.0zM443.7 197.9h2.3v1.9h-2.3zM449.7 208.2h1.2v2.2h-1.2zM503.1 225.8h1.2v2.5h-1.2zM454.1 207.0h1.9v2.2h-1.9zM468.7 198.5h1.2v1.5h-1.2zM508.0 226.2h1.4v2.2h-1.4zM459.0 231.7h2.4v1.5h-2.4zM474.4 209.0h1.8v1.4h-1.8zM440.4 224.8h2.5v2.2h-2.5z"/><path fill="#f0a42c" d="M445.3 233.9h1.4v1.6h-1.4zM449.9 210.5h2.4v2.4h-2.4zM460.0 227.6h2.0v1.9h-2.0zM509.3 201.9h1.1v2.5h-1.1zM484.6 208.3h1.5v1.4h-1.5zM491.2 228.0h1.1v2.4h-1.1zM453.7 226.0h1.3v1.3h-1.3zM483.1 235.7h1.8v1.7h-1.8zM490.8 206.2h2.3v1.2h-2.3zM485.2 202.0h1.5v1.7h-1.5zM495.7 211.9h2.1v2.2h-2.1zM462.6 187.5h1.3v1.0h-1.3zM494.9 224.3h1.6v1.8h-1.6zM454.1 236.1h2.5v2.0h-2.5zM436.8 225.6h2.2v2.4h-2.2zM484.8 196.3h1.3v2.3h-1.3zM475.6 212.5h2.5v1.3h-2.5zM457.8 204.3h1.6v4.5h-1.6zM465.3 190.8h2.3v2.4h-2.3zM470.3 204.5h1.4v1.9h-1.4zM440.9 197.2h1.3v1.1h-1.3zM504.5 216.1h1.7v1.9h-1.7zM476.5 188.0h1.5v2.4h-1.5zM472.6 196.8h1.3v1.2h-1.3zM462.2 226.2h1.4v3.0h-1.4zM477.8 207.1h2.1v1.5h-2.1zM489.5 224.9h2.3v1.1h-2.3zM483.8 233.7h1.8v1.8h-1.8zM460.9 208.7h4.1v2.3h-4.1zM438.3 200.5h1.5v1.6h-1.5zM481.5 218.8h1.6v2.1h-1.6zM492.8 226.6h2.2v2.5h-2.2zM460.9 193.8h1.3v1.6h-1.3zM492.2 221.7h1.2v1.9h-1.2zM480.3 198.4h2.0v1.4h-2.0zM435.6 233.0h1.3v1.3h-1.3zM455.4 231.8h2.2v1.0h-2.2zM508.7 217.9h1.9v2.0h-1.9zM435.0 202.7h1.6v1.4h-1.6zM468.0 234.7h1.6v1.3h-1.6z"/><path fill="#6cc432" d="M508.2 209.4h2.3v1.4h-2.3zM451.6 188.7h1.9v1.1h-1.9zM448.0 234.3h1.9v1.1h-1.9zM453.2 205.3h1.2v2.0h-1.2zM487.8 199.2h2.1v1.9h-2.1zM472.1 219.3h2.6v1.6h-2.6zM472.6 219.2h1.1v1.5h-1.1zM489.9 224.0h1.3v1.9h-1.3zM478.1 236.5h1.3v2.1h-1.3zM476.0 228.7h1.4v4.8h-1.4zM493.0 215.3h1.5v1.5h-1.5zM450.2 196.9h2.0v2.1h-2.0zM491.7 200.1h2.1v2.1h-2.1zM449.7 236.4h2.0v2.2h-2.0zM493.4 201.9h2.3v2.3h-2.3zM498.9 219.1h2.5v1.7h-2.5zM451.6 197.9h2.4v2.0h-2.4zM510.4 223.2h1.1v1.6h-1.1zM504.6 193.8h2.9v1.3h-2.9zM432.0 203.8h1.3v3.6h-1.3zM489.1 196.9h1.7v1.2h-1.7zM451.9 187.6h2.5v1.4h-2.5zM505.5 227.9h1.8v1.4h-1.8zM454.9 200.8h1.8v2.0h-1.8zM465.9 236.0h2.3v2.1h-2.3zM463.6 235.5h1.4v1.2h-1.4zM466.7 232.1h1.2v1.8h-1.2zM460.3 198.4h2.3v1.4h-2.3zM462.0 232.4h1.8v1.7h-1.8zM434.3 200.3h1.0v2.9h-1.0zM468.3 222.6h2.0v3.9h-2.0zM454.3 200.7h2.5v1.4h-2.5zM506.0 217.3h1.1v1.1h-1.1zM465.1 228.7h2.3v2.2h-2.3zM460.6 200.6h2.3v2.0h-2.3zM473.8 201.9h1.8v2.5h-1.8zM477.4 198.6h2.1v2.4h-2.1zM467.1 209.4h1.7v1.2h-1.7z"/><path fill="#f0a42c" d="M441.1 223.8h1.1v1.7h-1.1zM472.4 220.5h1.3v1.8h-1.3zM465.7 231.9h2.1v2.5h-2.1zM483.8 236.5h1.1v2.3h-1.1zM434.0 192.3h1.9v1.2h-1.9zM487.2 202.5h1.9v1.6h-1.9zM490.4 235.9h3.3v2.0h-3.3zM480.6 235.8h3.9v2.4h-3.9zM432.4 206.0h1.8v1.7h-1.8zM501.9 195.8h1.6v2.4h-1.6zM510.7 224.6h4.1v1.8h-4.1zM447.5 230.6h1.1v2.1h-1.1zM444.4 230.3h2.4v1.7h-2.4zM459.3 212.2h1.2v1.4h-1.2zM511.0 232.6h1.6v1.6h-1.6zM461.0 212.4h1.8v2.4h-1.8zM443.2 191.1h2.5v2.5h-2.5zM510.3 191.5h1.9v1.1h-1.9zM430.8 209.0h2.2v1.9h-2.2zM503.9 228.1h1.1v1.8h-1.1zM476.2 213.6h1.6v1.3h-1.6zM507.3 219.1h2.3v1.1h-2.3zM447.7 231.3h1.7v2.4h-1.7zM433.0 190.9h2.1v1.5h-2.1zM445.5 227.4h2.3v2.4h-2.3zM477.6 216.5h1.2v4.9h-1.2zM470.7 191.8h1.1v1.3h-1.1zM462.0 207.2h1.2v2.4h-1.2zM460.3 213.8h1.8v2.0h-1.8zM446.4 233.5h1.3v2.8h-1.3zM512.1 234.5h1.0v2.0h-1.0zM479.7 231.0h1.4v1.6h-1.4zM497.7 216.1h1.8v1.7h-1.8zM430.8 209.9h1.1v2.3h-1.1zM459.5 188.8h2.1v1.9h-2.1zM439.9 215.3h1.7v2.6h-1.7zM502.1 203.1h2.6v1.2h-2.6zM451.9 230.7h2.6v2.4h-2.6zM431.8 192.1h1.1v1.9h-1.1zM460.6 196.5h1.3v2.0h-1.3z"/><path fill="#f0c832" d="M448.2 202.4h1.6v2.0h-1.6zM467.4 190.4h2.3v1.7h-2.3zM496.4 234.9h2.1v1.2h-2.1zM506.8 232.5h2.2v1.6h-2.2zM446.0 198.6h2.4v2.1h-2.4zM432.7 218.2h4.2v2.5h-4.2zM466.0 224.8h1.1v1.9h-1.1zM495.3 222.1h1.4v3.6h-1.4zM484.6 219.7h1.9v1.2h-1.9zM495.9 187.3h2.3v1.6h-2.3zM487.8 202.5h1.5v1.9h-1.5zM446.6 195.1h3.7v1.3h-3.7zM439.7 214.3h2.2v2.2h-2.2zM434.0 217.9h1.9v1.4h-1.9zM495.1 221.5h1.9v1.2h-1.9zM495.9 234.2h2.4v1.6h-2.4zM483.5 200.3h2.4v4.2h-2.4zM490.2 200.3h1.9v1.6h-1.9zM507.5 231.5h2.4v1.0h-2.4zM470.8 221.3h2.5v2.5h-2.5zM498.3 229.9h1.6v1.8h-1.6zM503.5 219.9h2.0v2.1h-2.0zM442.5 211.3h1.4v1.6h-1.4zM461.0 198.6h2.4v2.1h-2.4zM496.4 226.7h1.7v1.5h-1.7zM456.5 189.1h1.5v1.5h-1.5zM436.4 190.0h1.4v1.9h-1.4zM438.4 215.1h1.2v1.3h-1.2zM492.2 189.5h1.8v2.0h-1.8zM450.6 200.6h1.7v1.4h-1.7zM484.5 191.4h4.9v1.7h-4.9zM477.0 195.7h1.6v1.9h-1.6zM480.0 197.5h1.5v1.5h-1.5zM444.4 220.6h1.8v1.6h-1.8zM443.1 234.6h4.1v1.5h-4.1zM488.3 195.2h2.1v2.3h-2.1zM498.7 222.5h1.8v1.6h-1.8zM505.2 222.6h1.9v1.9h-1.9zM496.3 232.8h1.0v1.3h-1.0zM444.8 222.1h1.5v1.7h-1.5z"/><path fill="#b8d636" d="M432.6 187.3h1.7v2.0h-1.7zM510.4 207.8h1.9v2.5h-1.9zM488.7 202.2h1.0v2.2h-1.0zM478.2 199.2h2.5v1.9h-2.5zM438.4 211.4h1.5v1.0h-1.5zM433.0 196.3h2.3v2.5h-2.3zM495.0 235.5h1.9v2.5h-1.9zM441.7 226.6h2.3v1.4h-2.3zM498.5 232.6h1.4v1.5h-1.4zM476.1 201.5h1.0v2.1h-1.0zM431.8 197.5h1.2v1.0h-1.2zM430.4 204.7h2.5v1.5h-2.5zM442.1 225.7h1.9v1.5h-1.9zM497.9 214.7h2.4v1.3h-2.4zM489.6 211.8h2.4v1.3h-2.4zM444.6 222.1h1.8v2.3h-1.8zM464.2 211.1h1.2v4.9h-1.2zM430.2 210.6h2.2v1.6h-2.2zM486.7 196.3h2.5v1.9h-2.5zM496.3 217.6h1.4v1.9h-1.4zM489.8 188.6h1.3v1.6h-1.3zM500.8 230.6h2.1v2.0h-2.1zM451.7 194.0h1.1v2.8h-1.1zM448.9 192.5h1.1v2.1h-1.1zM472.3 209.9h1.9v1.6h-1.9zM468.6 226.3h1.4v1.3h-1.4z"/><path fill="#f0c832" d="M469.1 202.0h1.4v2.1h-1.4zM488.9 195.3h2.3v1.6h-2.3zM442.5 223.6h2.6v2.1h-2.6zM488.5 202.7h2.2v1.0h-2.2zM493.5 212.5h2.5v4.5h-2.5zM490.8 207.0h1.5v2.5h-1.5zM450.1 198.5h2.5v1.6h-2.5zM466.5 202.6h1.6v1.8h-1.6zM485.4 200.2h2.5v2.6h-2.5zM508.8 227.4h2.3v2.5h-2.3zM475.3 221.4h1.8v1.9h-1.8zM493.0 195.8h2.4v2.1h-2.4zM467.5 220.2h2.4v1.9h-2.4zM465.1 199.4h2.3v1.9h-2.3zM495.4 236.5h1.7v1.6h-1.7zM506.3 187.8h1.6v1.0h-1.6zM490.4 203.2h1.8v2.4h-1.8zM446.2 216.4h1.3v1.1h-1.3zM447.4 229.3h1.6v1.7h-1.6zM482.8 195.3h1.6v1.9h-1.6zM476.8 217.2h3.2v2.5h-3.2zM449.2 236.5h2.0v1.8h-2.0zM481.5 201.4h1.5v1.5h-1.5zM439.7 191.0h2.3v3.9h-2.3zM495.1 193.1h1.3v1.1h-1.3zM465.3 210.6h1.2v1.3h-1.2zM481.5 198.8h2.1v1.6h-2.1zM455.7 221.2h1.8v1.3h-1.8zM464.8 187.6h1.4v2.1h-1.4zM456.2 209.2h3.2v1.1h-3.2zM493.8 192.5h1.6v2.0h-1.6zM450.8 209.7h1.5v1.9h-1.5zM443.2 220.4h2.5v2.4h-2.5zM480.6 223.3h1.3v2.6h-1.3zM501.8 193.2h2.9v1.5h-2.9zM478.0 218.6h3.1v2.4h-3.1zM481.5 200.5h2.4v1.9h-2.4zM465.6 221.0h2.3v1.3h-2.3zM433.9 209.8h1.3v2.3h-1.3zM504.3 200.5h1.7v1.6h-1.7z"/><path fill="#e6341c" d="M486.5 198.1h2.0v2.0h-2.0zM508.1 194.4h4.3v1.9h-4.3zM459.2 229.2h4.4v1.1h-4.4zM438.0 213.2h2.2v1.1h-2.2zM460.8 199.9h2.3v2.9h-2.3zM493.0 213.5h1.2v1.5h-1.2zM441.4 208.5h4.7v2.3h-4.7zM472.0 190.0h4.9v2.4h-4.9zM444.9 216.2h2.2v2.1h-2.2zM449.8 201.0h1.6v2.5h-1.6zM467.5 230.4h2.4v1.5h-2.4zM486.5 219.3h1.6v1.3h-1.6zM447.6 197.7h1.6v1.8h-1.6zM500.7 231.5h2.5v3.0h-2.5zM442.0 219.9h2.4v2.5h-2.4zM433.0 236.7h2.2v1.7h-2.2zM478.2 229.5h2.0v2.4h-2.0zM434.7 234.5h1.2v2.2h-1.2zM443.9 191.5h1.0v1.6h-1.0zM456.7 225.8h2.5v2.0h-2.5zM444.4 234.3h1.9v1.5h-1.9zM481.8 200.1h2.2v1.4h-2.2zM436.6 210.2h2.7v1.7h-2.7zM484.8 210.4h1.8v1.9h-1.8zM461.0 202.1h2.4v1.4h-2.4zM457.6 204.7h1.8v1.4h-1.8zM461.0 198.2h2.1v2.5h-2.1zM437.0 229.0h1.2v1.7h-1.2zM467.2 234.8h1.1v2.4h-1.1zM432.1 230.8h1.9v2.1h-1.9zM434.3 233.4h3.5v2.5h-3.5zM511.3 194.9h2.4v2.6h-2.4zM439.6 203.4h2.3v1.3h-2.3zM494.6 200.0h1.8v1.8h-1.8zM434.0 231.9h1.4v1.0h-1.4zM462.6 194.1h1.7v2.4h-1.7zM470.1 192.1h1.9v2.4h-1.9zM459.1 203.4h1.4v1.3h-1.4zM448.3 216.6h1.5v1.4h-1.5zM507.0 189.5h2.2v1.4h-2.2z"/><path fill="#f0a42c" d="M430.1 200.3h3.5v2.1h-3.5zM457.7 221.7h1.6v1.6h-1.6zM481.0 225.3h1.8v2.1h-1.8zM473.8 227.3h1.6v1.7h-1.6zM492.7 228.1h1.2v1.8h-1.2zM479.6 200.4h1.3v1.1h-1.3zM478.3 227.3h1.6v1.2h-1.6zM453.7 213.8h1.4v2.1h-1.4zM433.2 210.4h1.9v1.2h-1.9zM484.7 230.8h1.0v1.9h-1.0zM463.1 204.1h1.4v2.1h-1.4zM468.6 230.0h2.4v1.7h-2.4zM487.6 230.7h2.4v1.1h-2.4zM459.6 234.9h1.4v2.3h-1.4zM511.4 199.6h1.5v1.5h-1.5zM464.0 189.6h1.7v2.2h-1.7zM433.0 209.9h2.0v1.0h-2.0zM435.8 233.3h1.4v1.8h-1.4zM472.8 203.2h2.4v1.2h-2.4zM510.7 190.7h2.4v2.2h-2.4zM479.1 231.7h1.9v1.5h-1.9zM498.3 194.2h1.4v1.1h-1.4zM473.2 194.0h4.9v2.3h-4.9zM502.7 208.7h2.2v2.0h-2.2zM467.0 211.6h2.8v1.4h-2.8zM464.0 197.1h2.0v1.8h-2.0zM484.5 228.9h1.9v1.1h-1.9zM510.5 211.5h1.4v1.3h-1.4zM474.0 196.0h1.7v3.3h-1.7zM472.0 225.4h2.2v1.7h-2.2zM478.1 203.6h1.8v1.5h-1.8zM486.6 190.5h1.8v2.4h-1.8zM475.4 234.1h1.1v1.4h-1.1zM488.3 223.5h1.4v1.6h-1.4zM443.0 200.8h1.8v1.4h-1.8zM480.8 228.2h1.7v1.6h-1.7zM439.7 233.3h2.0v1.6h-2.0zM470.8 197.9h1.5v1.8h-1.5zM450.0 190.1h1.9v1.8h-1.9zM480.9 210.4h1.9v1.7h-1.9z"/><path fill="#ec6420" d="M475.8 223.3h2.2v2.0h-2.2zM479.5 214.2h2.7v1.4h-2.7z"/><path fill="#f0b830" d="M468.3 223.8h1.7v2.0h-1.7zM485.3 194.1h1.8v2.0h-1.8z"/><path fill="#e6341c" d="M453.3 196.9h2.4v3.4h-2.4zM441.9 208.3h1.9v3.8h-1.9zM462.0 214.2h3.8v1.4h-3.8zM485.2 198.4h2.1v1.6h-2.1zM486.1 204.5h1.5v2.2h-1.5zM482.3 230.8h1.0v1.3h-1.0zM503.6 212.5h1.5v2.3h-1.5zM501.7 198.9h1.9v1.3h-1.9zM440.7 218.3h1.5v1.4h-1.5zM451.2 218.6h2.2v1.8h-2.2zM453.2 213.0h1.9v2.1h-1.9z"/><path fill="#f0a42c" d="M446.9 190.8h1.6v1.1h-1.6zM444.1 233.6h2.3v1.1h-2.3zM483.0 235.5h1.7v3.2h-1.7zM511.2 235.9h2.3v2.2h-2.3zM477.1 232.5h4.5v1.1h-4.5zM438.4 213.9h1.8v1.7h-1.8zM450.5 217.4h2.0v1.4h-2.0zM477.5 230.8h1.2v2.4h-1.2zM475.8 236.0h2.3v1.3h-2.3zM501.2 204.9h1.5v2.1h-1.5zM432.4 191.0h2.5v1.2h-2.5zM477.6 218.9h1.3v2.4h-1.3zM438.9 197.3h1.0v2.2h-1.0zM479.0 229.5h2.0v1.9h-2.0zM474.0 188.2h2.0v1.9h-2.0zM504.7 235.9h1.3v1.4h-1.3zM493.3 200.3h2.3v1.9h-2.3zM495.2 192.1h2.0v2.2h-2.0zM489.2 193.1h1.2v1.9h-1.2zM511.6 193.1h1.4v1.0h-1.4zM496.7 213.2h4.0v1.7h-4.0zM446.8 231.4h1.0v2.3h-1.0zM447.1 220.8h2.4v1.7h-2.4zM449.0 230.9h1.4v2.3h-1.4zM473.6 236.6h4.7v1.1h-4.7zM441.1 197.4h1.0v1.3h-1.0zM475.4 194.7h2.1v2.0h-2.1zM436.8 234.4h1.1v1.6h-1.1zM431.9 195.7h2.2v2.5h-2.2zM505.7 224.3h2.5v1.1h-2.5zM478.0 228.9h1.7v1.8h-1.7zM491.0 213.2h1.2v2.4h-1.2zM482.9 231.1h2.3v1.2h-2.3zM470.3 235.0h1.5v1.8h-1.5zM442.7 212.5h2.7v2.0h-2.7zM431.9 214.7h2.1v1.1h-2.1zM435.5 221.9h1.1v1.9h-1.1zM509.7 222.0h2.1v4.0h-2.1z"/><path fill="#ec6420" d="M505.5 192.7h1.2v2.0h-1.2zM466.2 233.7h2.3v1.3h-2.3zM508.2 235.2h2.1v2.2h-2.1zM469.7 233.4h1.3v1.6h-1.3zM506.2 195.3h2.0v1.2h-2.0zM470.8 235.4h1.0v1.1h-1.0zM445.0 213.2h2.1v2.4h-2.1zM436.5 225.7h2.0v2.5h-2.0zM446.4 204.7h2.2v1.9h-2.2zM432.7 226.8h1.1v1.1h-1.1zM444.0 213.5h1.5v1.4h-1.5zM459.8 234.4h1.8v2.5h-1.8zM462.4 226.8h1.9v1.9h-1.9zM443.6 194.9h2.0v2.4h-2.0zM464.0 229.0h1.1v2.2h-1.1zM489.9 213.6h1.6v2.1h-1.6zM465.2 230.6h2.2v2.1h-2.2zM439.1 224.9h1.9v1.3h-1.9zM468.6 236.0h1.6v1.1h-1.6zM478.4 229.8h1.5v2.1h-1.5zM474.2 190.5h2.5v1.8h-2.5zM456.6 205.6h2.4v1.1h-2.4zM441.1 198.5h1.4v2.2h-1.4zM495.3 232.0h2.8v2.2h-2.8zM463.5 231.8h1.4v1.8h-1.4zM443.1 197.3h1.9v1.2h-1.9zM486.8 235.6h1.7v1.6h-1.7zM502.3 198.7h2.0v2.0h-2.0zM472.4 196.3h1.3v1.9h-1.3zM495.6 215.3h1.0v3.1h-1.0zM454.3 220.1h2.2v2.4h-2.2zM505.8 187.8h1.2v2.0h-1.2zM511.7 203.8h1.5v1.5h-1.5zM469.5 222.0h1.8v2.3h-1.8zM499.9 230.1h2.1v1.3h-2.1zM459.8 205.6h1.2v1.8h-1.2zM500.3 223.1h1.8v2.2h-1.8zM484.6 206.3h1.2v2.0h-1.2zM505.1 191.7h2.2v1.2h-2.2zM451.4 217.0h1.8v2.0h-1.8z"/><path fill="#f0c832" d="M451.2 209.1h2.1v1.8h-2.1zM467.5 214.3h1.2v2.3h-1.2zM504.9 217.6h1.8v1.5h-1.8zM453.6 207.8h2.5v2.4h-2.5zM463.4 216.6h2.4v1.4h-2.4zM437.7 228.5h1.4v1.6h-1.4zM465.2 191.3h1.4v2.1h-1.4zM452.2 209.2h2.3v2.4h-2.3zM458.7 195.8h2.0v1.9h-2.0zM465.5 219.0h2.7v2.5h-2.7zM495.6 236.6h2.3v1.5h-2.3zM440.2 191.7h2.5v2.2h-2.5zM486.0 188.6h1.7v2.1h-1.7zM451.7 207.2h2.3v1.8h-2.3zM444.0 190.4h2.0v1.0h-2.0zM484.3 224.5h1.1v2.2h-1.1zM499.3 190.2h1.6v1.7h-1.6zM486.0 189.0h1.6v2.5h-1.6zM466.6 223.5h2.2v2.1h-2.2zM483.2 192.2h2.4v1.2h-2.4zM500.6 191.7h2.2v1.7h-2.2zM483.7 212.5h2.5v1.4h-2.5zM485.6 210.8h1.3v2.2h-1.3zM495.2 227.3h1.2v2.0h-1.2zM457.9 197.6h1.8v2.2h-1.8zM459.3 213.8h2.3v2.1h-2.3zM468.0 195.1h1.7v2.4h-1.7zM477.6 211.7h1.1v2.3h-1.1zM481.4 201.6h1.3v1.7h-1.3zM481.3 194.2h1.3v1.8h-1.3zM481.4 195.9h1.2v2.5h-1.2zM481.9 202.7h1.8v1.2h-1.8zM485.5 224.3h1.9v2.3h-1.9zM478.4 195.0h1.0v1.6h-1.0zM458.2 220.3h1.7v1.4h-1.7zM449.8 227.1h1.0v1.8h-1.0zM468.7 218.8h1.5v4.8h-1.5z"/><path fill="#f0e83e" d="M484.7 221.2h2.0v1.7h-2.0zM481.5 220.8h1.3v4.4h-1.3zM481.8 214.2h4.2v1.4h-4.2zM482.0 224.0h1.3v2.1h-1.3z"/></g><path fill="#72c832" d="M462.1 192.5h1.0v1.0h-1.0zM492.5 193.1h1.5v1.5h-1.5zM444.6 232.7h1.2v1.2h-1.2zM445.8 215.6h1.5v1.5h-1.5zM443.2 196.4h1.0v1.0h-1.0zM465.4 226.4h1.0v1.0h-1.0zM464.9 218.1h1.2v1.2h-1.2zM488.9 199.7h1.2v1.2h-1.2zM448.6 234.5h1.2v1.2h-1.2zM463.3 225.4h1.2v1.2h-1.2zM432.5 191.3h1.0v1.0h-1.0zM480.0 193.5h1.5v1.5h-1.5zM448.5 199.3h1.8v1.8h-1.8zM483.5 210.0h1.2v1.2h-1.2zM441.4 221.7h1.2v1.2h-1.2zM458.3 189.8h1.8v1.8h-1.8zM499.0 226.6h1.5v1.5h-1.5zM439.5 204.1h1.2v1.2h-1.2zM466.8 213.8h1.5v1.5h-1.5zM477.6 197.9h1.2v1.2h-1.2zM449.6 209.1h1.8v1.8h-1.8zM462.1 196.8h1.2v1.2h-1.2zM473.6 218.8h1.2v1.2h-1.2zM470.6 218.7h1.2v1.2h-1.2zM498.7 229.1h1.2v1.2h-1.2zM497.9 223.5h1.5v1.5h-1.5zM488.9 222.7h1.5v1.5h-1.5zM458.2 235.9h1.2v1.2h-1.2zM489.0 233.3h1.8v1.8h-1.8zM497.2 194.7h1.5v1.5h-1.5zM468.2 220.2h1.2v1.2h-1.2zM458.6 209.5h1.5v1.5h-1.5zM468.0 190.3h1.0v1.0h-1.0zM470.6 210.6h1.8v1.8h-1.8zM438.6 219.6h1.8v1.8h-1.8zM462.8 232.3h1.2v1.2h-1.2zM500.7 233.6h1.5v1.5h-1.5zM457.4 233.9h1.0v1.0h-1.0zM463.1 225.6h1.2v1.2h-1.2zM436.1 197.2h1.5v1.5h-1.5zM490.6 233.3h1.5v1.5h-1.5zM467.4 191.5h1.2v1.2h-1.2zM503.4 223.9h1.8v1.8h-1.8zM475.6 223.9h1.0v1.0h-1.0zM496.0 206.8h1.5v1.5h-1.5zM475.6 200.1h1.8v1.8h-1.8zM510.8 205.3h1.0v1.0h-1.0zM446.7 192.8h1.8v1.8h-1.8zM464.4 222.6h1.8v1.8h-1.8zM438.8 217.4h1.0v1.0h-1.0zM491.5 206.5h1.0v1.0h-1.0zM495.6 203.3h1.5v1.5h-1.5zM507.1 206.0h1.0v1.0h-1.0zM486.8 200.4h1.2v1.2h-1.2zM432.4 207.2h1.5v1.5h-1.5zM460.8 205.6h1.8v1.8h-1.8zM501.0 222.6h1.0v1.0h-1.0zM506.1 213.6h1.5v1.5h-1.5zM434.7 195.8h1.8v1.8h-1.8zM454.8 195.4h1.0v1.0h-1.0zM479.8 234.2h1.8v1.8h-1.8zM455.1 208.0h1.0v1.0h-1.0zM455.5 205.2h1.8v1.8h-1.8zM456.2 202.6h1.2v1.2h-1.2zM435.1 217.2h1.5v1.5h-1.5zM445.4 212.8h1.2v1.2h-1.2zM476.1 196.3h1.8v1.8h-1.8zM436.4 201.9h1.2v1.2h-1.2zM508.2 223.8h1.0v1.0h-1.0zM467.0 189.5h1.2v1.2h-1.2zM488.4 206.2h1.8v1.8h-1.8zM466.7 220.7h1.5v1.5h-1.5zM456.5 195.8h1.2v1.2h-1.2zM463.3 203.1h1.5v1.5h-1.5zM490.5 189.6h1.0v1.0h-1.0zM462.7 219.6h1.0v1.0h-1.0zM469.1 231.1h1.5v1.5h-1.5zM461.3 193.1h1.0v1.0h-1.0zM450.0 218.3h1.8v1.8h-1.8zM469.8 194.7h1.5v1.5h-1.5zM501.1 222.0h1.0v1.0h-1.0zM461.7 228.7h1.0v1.0h-1.0zM487.2 226.0h1.8v1.8h-1.8zM445.5 220.0h1.2v1.2h-1.2zM447.7 195.9h1.8v1.8h-1.8zM472.4 233.8h1.8v1.8h-1.8zM463.2 218.9h1.8v1.8h-1.8zM433.8 197.1h1.5v1.5h-1.5zM472.3 202.7h1.0v1.0h-1.0zM495.7 218.5h1.5v1.5h-1.5zM447.9 195.0h1.2v1.2h-1.2zM495.2 192.6h1.0v1.0h-1.0zM469.8 226.5h1.8v1.8h-1.8zM439.3 216.5h1.5v1.5h-1.5zM464.8 219.8h1.0v1.0h-1.0zM480.0 196.1h1.8v1.8h-1.8zM464.6 215.8h1.2v1.2h-1.2zM477.1 190.7h1.2v1.2h-1.2zM486.5 231.0h1.0v1.0h-1.0zM464.1 216.1h1.8v1.8h-1.8zM433.8 191.5h1.8v1.8h-1.8zM449.2 226.0h1.0v1.0h-1.0zM469.1 222.5h1.5v1.5h-1.5zM502.4 209.3h1.5v1.5h-1.5zM470.7 194.6h1.0v1.0h-1.0zM454.2 218.2h1.2v1.2h-1.2zM445.1 211.5h1.8v1.8h-1.8zM468.6 222.4h1.8v1.8h-1.8zM492.4 221.7h1.2v1.2h-1.2zM508.8 195.9h1.5v1.5h-1.5zM483.1 217.5h1.8v1.8h-1.8zM500.6 197.3h1.8v1.8h-1.8zM482.2 229.4h1.0v1.0h-1.0zM510.5 190.1h1.2v1.2h-1.2zM490.3 209.4h1.8v1.8h-1.8zM435.8 209.2h1.0v1.0h-1.0zM474.9 207.0h1.8v1.8h-1.8zM456.9 220.2h1.0v1.0h-1.0zM457.3 221.5h1.8v1.8h-1.8zM506.6 226.8h1.0v1.0h-1.0zM432.7 229.2h1.5v1.5h-1.5zM478.2 216.0h1.8v1.8h-1.8zM480.5 201.1h1.5v1.5h-1.5zM438.4 200.7h1.2v1.2h-1.2zM432.8 205.7h1.8v1.8h-1.8zM434.6 229.3h1.2v1.2h-1.2zM509.5 210.5h1.0v1.0h-1.0zM477.4 211.9h1.5v1.5h-1.5zM436.8 219.7h1.0v1.0h-1.0zM438.4 204.4h1.8v1.8h-1.8zM477.3 203.9h1.5v1.5h-1.5zM504.8 233.3h1.2v1.2h-1.2zM490.5 190.4h1.8v1.8h-1.8zM439.4 219.6h1.2v1.2h-1.2zM510.1 209.8h1.0v1.0h-1.0zM477.9 230.0h1.8v1.8h-1.8zM510.4 213.0h1.8v1.8h-1.8zM448.9 189.9h1.2v1.2h-1.2zM509.1 220.8h1.5v1.5h-1.5zM435.0 205.6h1.0v1.0h-1.0zM448.6 201.2h1.5v1.5h-1.5zM493.5 217.6h1.2v1.2h-1.2zM501.1 224.8h1.0v1.0h-1.0zM503.4 227.8h1.2v1.2h-1.2zM479.9 208.6h1.2v1.2h-1.2zM451.9 226.2h1.0v1.0h-1.0zM494.7 234.1h1.5v1.5h-1.5zM457.8 202.7h1.8v1.8h-1.8zM505.6 214.8h1.2v1.2h-1.2zM506.2 224.2h1.2v1.2h-1.2zM506.4 224.1h1.5v1.5h-1.5zM442.8 199.4h1.2v1.2h-1.2zM503.8 196.5h1.8v1.8h-1.8zM432.4 214.5h1.5v1.5h-1.5zM471.3 222.2h1.2v1.2h-1.2zM436.2 218.0h1.8v1.8h-1.8zM438.8 207.1h1.2v1.2h-1.2zM485.5 207.4h1.0v1.0h-1.0zM478.7 204.5h1.2v1.2h-1.2zM449.5 196.7h1.5v1.5h-1.5zM495.3 191.4h1.8v1.8h-1.8zM488.6 228.1h1.5v1.5h-1.5zM438.0 233.0h1.2v1.2h-1.2zM454.9 234.8h1.5v1.5h-1.5zM478.8 200.9h1.2v1.2h-1.2zM471.3 207.5h1.5v1.5h-1.5zM457.2 203.2h1.5v1.5h-1.5zM465.9 222.8h1.2v1.2h-1.2zM479.8 204.9h1.8v1.8h-1.8zM491.7 223.2h1.0v1.0h-1.0zM461.6 204.3h1.2v1.2h-1.2zM447.3 215.1h1.2v1.2h-1.2zM484.5 194.2h1.2v1.2h-1.2zM459.8 216.2h1.8v1.8h-1.8zM489.5 197.2h1.8v1.8h-1.8zM448.9 228.2h1.2v1.2h-1.2zM435.2 228.8h1.8v1.8h-1.8zM462.6 219.5h1.2v1.2h-1.2zM447.9 228.8h1.2v1.2h-1.2zM454.9 194.1h1.8v1.8h-1.8zM448.4 224.6h1.5v1.5h-1.5zM499.4 215.2h1.5v1.5h-1.5zM460.5 213.3h1.8v1.8h-1.8zM472.3 235.5h1.5v1.5h-1.5zM438.3 205.4h1.0v1.0h-1.0zM443.9 211.6h1.0v1.0h-1.0zM474.5 198.3h1.2v1.2h-1.2zM502.1 225.8h1.0v1.0h-1.0zM466.5 205.2h1.2v1.2h-1.2zM437.8 207.6h1.0v1.0h-1.0zM472.6 224.5h1.5v1.5h-1.5zM509.3 199.0h1.0v1.0h-1.0zM480.5 204.7h1.0v1.0h-1.0zM457.8 202.3h1.8v1.8h-1.8zM484.5 201.8h1.8v1.8h-1.8zM451.9 194.5h1.8v1.8h-1.8zM441.2 210.1h1.8v1.8h-1.8zM474.4 198.7h1.0v1.0h-1.0zM467.7 196.4h1.5v1.5h-1.5zM457.1 198.2h1.5v1.5h-1.5zM444.5 194.1h1.0v1.0h-1.0zM444.2 220.6h1.2v1.2h-1.2zM438.7 220.7h1.0v1.0h-1.0zM464.6 209.9h1.8v1.8h-1.8zM466.2 212.7h1.2v1.2h-1.2zM440.8 207.3h1.5v1.5h-1.5zM470.7 196.6h1.8v1.8h-1.8zM480.0 207.1h1.8v1.8h-1.8zM431.8 207.1h1.2v1.2h-1.2zM493.6 200.0h1.0v1.0h-1.0zM454.8 193.3h1.5v1.5h-1.5zM507.1 219.8h1.5v1.5h-1.5zM460.3 224.0h1.5v1.5h-1.5zM456.6 212.1h1.5v1.5h-1.5zM452.0 225.6h1.5v1.5h-1.5zM452.7 229.0h1.2v1.2h-1.2zM501.2 213.5h1.2v1.2h-1.2zM492.2 219.7h1.2v1.2h-1.2zM491.1 225.8h1.0v1.0h-1.0zM442.4 235.6h1.8v1.8h-1.8zM458.4 201.8h1.0v1.0h-1.0zM473.1 191.2h1.0v1.0h-1.0zM478.2 197.5h1.8v1.8h-1.8zM495.2 221.5h1.5v1.5h-1.5zM485.3 219.1h1.2v1.2h-1.2zM494.3 220.9h1.0v1.0h-1.0zM440.5 199.8h1.2v1.2h-1.2zM507.1 223.0h1.8v1.8h-1.8zM457.9 214.0h1.2v1.2h-1.2zM448.6 225.3h1.2v1.2h-1.2zM500.0 200.8h1.0v1.0h-1.0zM475.6 226.2h1.8v1.8h-1.8zM502.2 222.9h1.2v1.2h-1.2zM472.2 222.0h1.0v1.0h-1.0zM505.5 201.8h1.8v1.8h-1.8zM500.4 227.3h1.0v1.0h-1.0zM494.8 200.8h1.0v1.0h-1.0zM449.6 234.8h1.0v1.0h-1.0zM493.0 204.3h1.8v1.8h-1.8zM489.4 202.6h1.8v1.8h-1.8zM485.0 235.5h1.5v1.5h-1.5zM433.8 215.5h1.2v1.2h-1.2zM443.2 236.0h1.8v1.8h-1.8zM465.3 224.6h1.5v1.5h-1.5zM466.1 232.1h1.5v1.5h-1.5zM459.0 208.1h1.5v1.5h-1.5zM508.4 195.5h1.0v1.0h-1.0zM490.5 216.7h1.2v1.2h-1.2zM450.2 191.1h1.0v1.0h-1.0zM483.3 218.0h1.5v1.5h-1.5zM443.0 200.2h1.5v1.5h-1.5zM438.1 205.8h1.2v1.2h-1.2zM498.7 219.4h1.8v1.8h-1.8zM487.8 226.5h1.8v1.8h-1.8zM436.1 215.5h1.0v1.0h-1.0zM465.3 191.5h1.0v1.0h-1.0zM452.6 207.1h1.5v1.5h-1.5zM488.4 202.9h1.2v1.2h-1.2zM435.3 223.6h1.0v1.0h-1.0zM499.9 204.2h1.2v1.2h-1.2zM458.0 194.0h1.2v1.2h-1.2zM488.0 200.1h1.5v1.5h-1.5zM467.7 207.3h1.0v1.0h-1.0zM438.8 231.4h1.5v1.5h-1.5zM444.3 203.0h1.2v1.2h-1.2zM495.2 192.0h1.5v1.5h-1.5zM433.6 204.6h1.8v1.8h-1.8zM459.1 233.1h1.0v1.0h-1.0zM457.1 196.3h1.0v1.0h-1.0zM481.9 192.5h1.2v1.2h-1.2zM450.7 198.7h1.0v1.0h-1.0zM483.4 207.2h1.2v1.2h-1.2zM456.3 201.3h1.0v1.0h-1.0zM468.2 215.7h1.0v1.0h-1.0zM444.0 235.8h1.5v1.5h-1.5zM447.9 227.7h1.5v1.5h-1.5zM506.0 233.4h1.0v1.0h-1.0zM432.8 209.3h1.8v1.8h-1.8zM468.0 190.1h1.0v1.0h-1.0zM445.9 234.5h1.5v1.5h-1.5zM435.2 234.7h1.0v1.0h-1.0zM464.5 236.4h1.5v1.5h-1.5zM467.3 230.6h1.0v1.0h-1.0zM473.0 232.6h1.0v1.0h-1.0zM456.7 189.4h1.0v1.0h-1.0zM448.9 197.2h1.5v1.5h-1.5zM507.2 231.4h1.5v1.5h-1.5zM507.7 194.7h1.5v1.5h-1.5zM474.8 225.3h1.2v1.2h-1.2zM468.9 191.9h1.2v1.2h-1.2zM446.2 210.9h1.0v1.0h-1.0zM452.8 210.2h1.8v1.8h-1.8zM482.6 194.8h1.2v1.2h-1.2zM496.9 223.6h1.8v1.8h-1.8zM445.2 212.4h1.5v1.5h-1.5zM501.5 218.1h1.5v1.5h-1.5zM478.6 194.8h1.8v1.8h-1.8zM434.1 231.9h1.0v1.0h-1.0zM476.3 190.3h1.5v1.5h-1.5zM467.5 233.0h1.2v1.2h-1.2zM488.8 198.5h1.5v1.5h-1.5zM479.0 218.9h1.0v1.0h-1.0zM465.1 194.9h1.2v1.2h-1.2zM490.1 221.8h1.0v1.0h-1.0zM482.4 202.6h1.0v1.0h-1.0zM506.6 227.6h1.5v1.5h-1.5zM484.5 211.6h1.0v1.0h-1.0zM471.0 205.4h1.0v1.0h-1.0zM451.7 231.6h1.2v1.2h-1.2zM509.8 229.6h1.2v1.2h-1.2zM454.0 216.4h1.0v1.0h-1.0zM449.0 225.8h1.5v1.5h-1.5zM454.9 207.1h1.8v1.8h-1.8zM443.2 229.5h1.5v1.5h-1.5zM493.1 233.6h1.2v1.2h-1.2zM485.5 215.6h1.2v1.2h-1.2zM498.1 198.3h1.0v1.0h-1.0zM446.5 204.6h1.5v1.5h-1.5zM480.6 228.1h1.0v1.0h-1.0zM467.7 208.6h1.5v1.5h-1.5zM434.5 197.2h1.2v1.2h-1.2zM480.8 201.1h1.0v1.0h-1.0zM454.0 202.7h1.5v1.5h-1.5zM508.6 230.2h1.5v1.5h-1.5zM452.9 235.1h1.2v1.2h-1.2zM464.2 194.6h1.0v1.0h-1.0zM434.3 213.8h1.2v1.2h-1.2zM481.7 191.1h1.2v1.2h-1.2zM453.1 205.5h1.2v1.2h-1.2zM458.3 210.7h1.0v1.0h-1.0zM436.9 235.3h1.0v1.0h-1.0zM484.3 202.0h1.8v1.8h-1.8zM460.9 207.1h1.5v1.5h-1.5zM496.5 233.5h1.0v1.0h-1.0zM488.7 222.5h1.5v1.5h-1.5zM452.4 208.1h1.2v1.2h-1.2zM464.2 208.2h1.2v1.2h-1.2zM497.1 235.9h1.8v1.8h-1.8zM438.5 212.7h1.5v1.5h-1.5zM465.8 216.3h1.0v1.0h-1.0zM469.8 236.7h1.8v1.8h-1.8zM452.0 236.8h1.0v1.0h-1.0zM494.8 204.1h1.5v1.5h-1.5zM456.4 201.2h1.5v1.5h-1.5zM454.4 227.1h1.0v1.0h-1.0zM447.7 203.1h1.0v1.0h-1.0zM437.5 218.3h1.5v1.5h-1.5zM447.3 217.0h1.0v1.0h-1.0zM492.6 223.5h1.5v1.5h-1.5zM491.7 190.4h1.2v1.2h-1.2zM462.5 195.9h1.2v1.2h-1.2zM463.1 192.7h1.2v1.2h-1.2zM457.5 219.7h1.2v1.2h-1.2zM498.6 215.7h1.2v1.2h-1.2zM487.1 195.5h1.5v1.5h-1.5zM489.3 202.5h1.0v1.0h-1.0z"/></g><path fill="#86d03a" d="M425.6 174.2h1.7v1.7h-1.7zM428.4 175.3h1.7v1.7h-1.7zM436.1 175.3h1.7v1.7h-1.7zM437.2 176.5h1.7v1.7h-1.7zM438.3 177.1h1.7v1.7h-1.7zM439.4 173.2h1.7v1.7h-1.7zM441.6 173.8h1.7v1.7h-1.7zM445.5 175.3h1.7v1.7h-1.7zM446.0 176.5h1.7v1.7h-1.7zM436.1 179.2h1.7v1.7h-1.7zM440.5 179.1h1.7v1.7h-1.7zM443.3 178.2h1.7v1.7h-1.7zM449.4 178.2h1.7v1.7h-1.7zM448.3 180.8h1.7v1.7h-1.7zM424.5 182.6h1.7v1.7h-1.7zM437.2 185.7h1.7v1.7h-1.7zM442.8 187.0h1.7v1.7h-1.7zM446.6 187.2h1.7v1.7h-1.7zM410.8 185.8h1.7v1.7h-1.7zM412.4 186.1h1.7v1.7h-1.7zM414.6 185.2h1.7v1.7h-1.7zM449.9 168.8h1.7v1.7h-1.7zM451.6 169.2h1.7v1.7h-1.7zM453.2 169.8h1.7v1.7h-1.7zM453.8 173.2h1.7v1.7h-1.7zM424.5 188.7h1.7v1.7h-1.7zM452.8 168.8h1.7v1.7h-1.7zM458.2 168.8h1.7v1.7h-1.7zM460.4 168.8h1.7v1.7h-1.7zM462.0 168.8h1.7v1.7h-1.7zM468.1 168.8h1.7v1.7h-1.7zM469.8 168.2h1.7v1.7h-1.7zM478.0 169.2h1.7v1.7h-1.7zM479.8 169.2h1.7v1.7h-1.7zM454.3 173.8h1.7v1.7h-1.7zM456.5 176.0h1.7v1.7h-1.7zM463.8 174.8h1.7v1.7h-1.7zM466.4 175.3h1.7v1.7h-1.7zM469.2 175.3h1.7v1.7h-1.7zM474.8 176.0h1.7v1.7h-1.7zM476.4 176.0h1.7v1.7h-1.7zM482.5 173.8h1.7v1.7h-1.7zM484.1 176.0h1.7v1.7h-1.7zM488.5 173.5h1.7v1.7h-1.7zM494.0 173.8h1.7v1.7h-1.7zM494.0 177.1h1.7v1.7h-1.7zM491.3 178.7h1.7v1.7h-1.7zM497.4 171.5h1.7v1.7h-1.7zM499.6 171.5h1.7v1.7h-1.7zM496.8 180.3h1.7v1.7h-1.7zM495.1 182.6h1.7v1.7h-1.7zM490.2 182.0h1.7v1.7h-1.7zM485.8 184.2h1.7v1.7h-1.7zM486.3 186.3h1.7v1.7h-1.7zM461.5 180.3h1.7v1.7h-1.7zM472.5 181.5h1.7v1.7h-1.7zM474.8 178.7h1.7v1.7h-1.7zM468.1 185.8h1.7v1.7h-1.7zM469.8 186.3h1.7v1.7h-1.7zM470.9 187.0h1.7v1.7h-1.7zM478.0 186.3h1.7v1.7h-1.7zM493.5 185.2h1.7v1.7h-1.7zM509.0 174.8h1.7v1.7h-1.7zM510.8 175.5h1.7v1.7h-1.7zM512.5 176.8h1.7v1.7h-1.7zM506.3 177.8h1.7v1.7h-1.7zM503.6 181.3h1.7v1.7h-1.7zM517.9 183.2h1.7v1.7h-1.7zM521.5 185.0h1.7v1.7h-1.7zM522.4 185.0h1.7v1.7h-1.7zM517.9 188.6h1.7v1.7h-1.7zM517.0 190.3h1.7v1.7h-1.7zM523.4 201.1h1.7v1.7h-1.7zM525.1 201.1h1.7v1.7h-1.7zM522.4 208.2h1.7v1.7h-1.7zM411.0 188.1h1.7v1.7h-1.7zM423.9 188.6h1.7v1.7h-1.7zM415.3 194.3h1.7v1.7h-1.7zM411.9 200.1h1.7v1.7h-1.7zM412.8 199.6h1.7v1.7h-1.7zM424.8 196.7h1.7v1.7h-1.7zM425.8 201.0h1.7v1.7h-1.7zM424.8 204.3h1.7v1.7h-1.7zM413.6 207.8h1.7v1.7h-1.7zM414.4 207.0h1.7v1.7h-1.7zM418.8 212.2h1.7v1.7h-1.7zM419.6 214.8h1.7v1.7h-1.7zM423.9 213.1h1.7v1.7h-1.7zM417.9 217.3h1.7v1.7h-1.7zM421.3 216.5h1.7v1.7h-1.7zM422.2 220.0h1.7v1.7h-1.7zM420.5 222.5h1.7v1.7h-1.7zM424.8 221.7h1.7v1.7h-1.7zM410.1 218.6h1.7v1.7h-1.7zM411.9 218.8h1.7v1.7h-1.7zM417.0 219.1h1.7v1.7h-1.7zM408.4 227.7h1.7v1.7h-1.7zM416.2 228.6h1.7v1.7h-1.7zM423.9 228.6h1.7v1.7h-1.7zM418.8 226.0h1.7v1.7h-1.7zM413.6 233.3h1.7v1.7h-1.7zM421.3 233.8h1.7v1.7h-1.7zM413.9 233.7h1.7v1.7h-1.7zM421.2 237.8h1.7v1.7h-1.7zM424.3 237.2h1.7v1.7h-1.7zM419.1 241.0h1.7v1.7h-1.7zM427.4 239.8h1.7v1.7h-1.7zM427.9 243.0h1.7v1.7h-1.7zM412.9 246.1h1.7v1.7h-1.7zM434.6 238.8h1.7v1.7h-1.7zM440.3 241.0h1.7v1.7h-1.7zM442.9 245.3h1.7v1.7h-1.7zM449.6 241.0h1.7v1.7h-1.7zM452.8 247.7h1.7v1.7h-1.7zM451.8 248.2h1.7v1.7h-1.7zM429.5 251.8h1.7v1.7h-1.7zM438.3 255.8h1.7v1.7h-1.7zM453.8 241.0h1.7v1.7h-1.7zM452.2 238.3h1.7v1.7h-1.7zM452.6 238.3h1.7v1.7h-1.7zM454.2 241.0h1.7v1.7h-1.7zM459.3 237.8h1.7v1.7h-1.7zM463.0 241.0h1.7v1.7h-1.7zM466.6 238.8h1.7v1.7h-1.7zM465.6 243.0h1.7v1.7h-1.7zM467.6 242.0h1.7v1.7h-1.7zM469.8 241.5h1.7v1.7h-1.7zM470.8 236.8h1.7v1.7h-1.7zM462.5 245.3h1.7v1.7h-1.7zM453.1 248.2h1.7v1.7h-1.7zM476.4 239.8h1.7v1.7h-1.7zM478.0 238.8h1.7v1.7h-1.7zM477.5 242.0h1.7v1.7h-1.7zM482.6 237.2h1.7v1.7h-1.7zM489.4 242.5h1.7v1.7h-1.7zM489.4 245.6h1.7v1.7h-1.7zM486.3 247.7h1.7v1.7h-1.7zM488.3 249.8h1.7v1.7h-1.7zM478.0 249.8h1.7v1.7h-1.7zM483.8 251.8h1.7v1.7h-1.7zM494.0 251.8h1.7v1.7h-1.7zM497.1 249.2h1.7v1.7h-1.7zM499.2 251.2h1.7v1.7h-1.7zM501.3 247.7h1.7v1.7h-1.7zM494.5 237.2h1.7v1.7h-1.7zM499.2 238.3h1.7v1.7h-1.7zM469.2 255.5h1.7v1.7h-1.7zM470.2 254.8h1.7v1.7h-1.7zM520.9 211.3h1.7v1.7h-1.7zM522.9 209.3h1.7v1.7h-1.7zM520.9 215.6h1.7v1.7h-1.7zM512.6 222.8h1.7v1.7h-1.7zM520.9 232.2h1.7v1.7h-1.7zM519.9 238.3h1.7v1.7h-1.7zM518.9 239.3h1.7v1.7h-1.7zM503.2 239.3h1.7v1.7h-1.7zM506.3 237.2h1.7v1.7h-1.7zM501.2 247.7h1.7v1.7h-1.7zM508.4 245.6h1.7v1.7h-1.7zM505.3 251.8h1.7v1.7h-1.7zM500.1 250.8h1.7v1.7h-1.7z"/><rect x="113.6" y="118" width="7.3" height="1.9" fill="#f4f4f4"/><rect x="304.3" y="119.1" width="8.7" height="2.0" fill="#f4f4f4"/><rect x="474" y="119.2" width="9.3" height="2.0" fill="#f4f4f4"/><rect x="104" y="261" width="5.5" height="2.1" fill="#f4f4f4"/><rect x="291.6" y="261.9" width="8.9" height="1.8" fill="#f4f4f4"/><rect x="474.3" y="261.7" width="9.7" height="2.0" fill="#f4f4f4"/><path d="M43.4 116.6V119.0" stroke="#1a9a1a" stroke-width="0.9"/><path d="M42.8 119.8H46.3" stroke="#c81818" stroke-width="1.1"/><text x="43.4" y="116.5" font-family="Liberation Sans" font-size="4.8" fill="#e4e4e4" text-anchor="middle">Y</text><text x="41.4" y="122.1" font-family="Liberation Sans" font-size="4.8" fill="#e4e4e4" text-anchor="middle">Z</text><text x="47.6" y="120.5" font-family="Liberation Sans" font-size="4.8" fill="#e4e4e4" text-anchor="middle">X</text><path d="M230.2 117.0V121.0" stroke="#1a9a1a" stroke-width="0.9"/><path d="M230.4 121.6H234.4" stroke="#c81818" stroke-width="1.1"/><text x="230.2" y="116.9" font-family="Liberation Sans" font-size="4.8" fill="#e4e4e4" text-anchor="middle">Y</text><text x="229.0" y="124.1" font-family="Liberation Sans" font-size="4.8" fill="#e4e4e4" text-anchor="middle">Z</text><text x="235.7" y="122.1" font-family="Liberation Sans" font-size="4.8" fill="#e4e4e4" text-anchor="middle">X</text><path d="M405.4 116.6V118.8" stroke="#1a9a1a" stroke-width="0.9"/><path d="M405.2 120.5H409.2" stroke="#c81818" stroke-width="1.1"/><text x="405.4" y="116.5" font-family="Liberation Sans" font-size="4.8" fill="#e4e4e4" text-anchor="middle">Y</text><text x="403.8" y="121.9" font-family="Liberation Sans" font-size="4.8" fill="#e4e4e4" text-anchor="middle">Z</text><text x="410.5" y="122.1" font-family="Liberation Sans" font-size="4.8" fill="#e4e4e4" text-anchor="middle">X</text><path d="M49.1 259.6V262.6" stroke="#1a9a1a" stroke-width="0.9"/><path d="M49.8 263.2H52.0" stroke="#c81818" stroke-width="1.1"/><text x="49.1" y="259.5" font-family="Liberation Sans" font-size="4.8" fill="#e4e4e4" text-anchor="middle">Y</text><text x="48.4" y="265.7" font-family="Liberation Sans" font-size="4.8" fill="#e4e4e4" text-anchor="middle">Z</text><text x="53.3" y="263.7" font-family="Liberation Sans" font-size="4.8" fill="#e4e4e4" text-anchor="middle">X</text><path d="M227.8 258.3V262.2" stroke="#1a9a1a" stroke-width="0.9"/><path d="M227.8 263.7H232.3" stroke="#c81818" stroke-width="1.1"/><text x="227.8" y="258.2" font-family="Liberation Sans" font-size="4.8" fill="#e4e4e4" text-anchor="middle">Y</text><text x="226.4" y="265.3" font-family="Liberation Sans" font-size="4.8" fill="#e4e4e4" text-anchor="middle">Z</text><text x="233.6" y="265.0" font-family="Liberation Sans" font-size="4.8" fill="#e4e4e4" text-anchor="middle">X</text><path d="M410.4 258.3V262.5" stroke="#1a9a1a" stroke-width="0.9"/><path d="M409.9 263.8H414.3" stroke="#c81818" stroke-width="1.1"/><text x="410.4" y="258.2" font-family="Liberation Sans" font-size="4.8" fill="#e4e4e4" text-anchor="middle">Y</text><text x="408.5" y="265.6" font-family="Liberation Sans" font-size="4.8" fill="#e4e4e4" text-anchor="middle">Z</text><text x="415.6" y="265.0" font-family="Liberation Sans" font-size="4.8" fill="#e4e4e4" text-anchor="middle">X</text></svg>
<div class="cap" style="left:6.7px;top:135.3px;letter-spacing:0px">(<b>a</b>) [Zhang, 2021]-2.5D coarse-511</div><div class="cap" style="left:198.5px;top:135.3px;letter-spacing:-0.05px">(<b>b</b>) [Zhou, 2020]-2.5D coarse-511</div><div class="cap" style="left:405.4px;top:135.3px;letter-spacing:0.12px">(<b>c</b>) Ours-2.5D coarse-241</div><div class="cap" style="left:15px;top:276.2px;letter-spacing:0px">(<b>d</b>) [Zhang, 2021]-3D inter-428</div><div class="cap" style="left:206.9px;top:276.2px;letter-spacing:0px">(<b>e</b>) [Zhou, 2020]-3D inter-428</div><div class="cap" style="left:415.5px;top:276.2px;letter-spacing:0.06px">(<b>f</b>) Ours-3D inter-426</div>
</body></html>
